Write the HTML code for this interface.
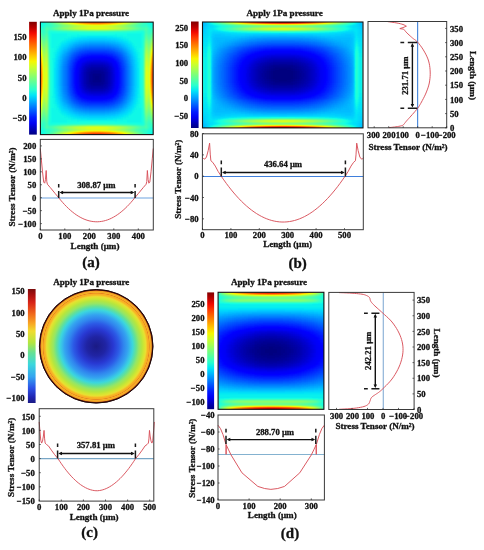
<!DOCTYPE html>
<html lang="en"><head><meta charset="utf-8"><title>Stress tensor simulation figure</title>
<style>html,body{margin:0;padding:0;background:#fff}svg{display:block}</style></head>
<body>
<svg width="484" height="550" viewBox="0 0 484 550" font-family="'Liberation Serif', serif" font-weight="bold" fill="#111" stroke="#111" stroke-width="0">
<defs>
<filter id="jet" x="0" y="0" width="1" height="1" filterUnits="objectBoundingBox" color-interpolation-filters="sRGB">
<feGaussianBlur stdDeviation="0.9"/>
<feComponentTransfer><feFuncR type="table" tableValues="0.000 0.000 0.000 0.000 0.000 0.000 0.000 0.000 0.000 0.000 0.000 0.000 0.000 0.000 0.000 0.081 0.161 0.242 0.323 0.403 0.484 0.565 0.645 0.726 0.806 0.887 0.968 1.000 1.000 1.000 1.000 1.000 1.000 1.000 1.000 1.000 0.955 0.841 0.727 0.614 0.500"/><feFuncG type="table" tableValues="0.000 0.000 0.000 0.000 0.000 0.000 0.100 0.200 0.300 0.400 0.500 0.600 0.700 0.800 0.900 1.000 1.000 1.000 1.000 1.000 1.000 1.000 1.000 1.000 1.000 1.000 0.963 0.870 0.778 0.685 0.593 0.500 0.407 0.315 0.222 0.130 0.037 0.000 0.000 0.000 0.000"/><feFuncB type="table" tableValues="0.500 0.614 0.727 0.841 0.955 1.000 1.000 1.000 1.000 1.000 1.000 1.000 1.000 1.000 0.968 0.887 0.806 0.726 0.645 0.565 0.484 0.403 0.323 0.242 0.161 0.081 0.000 0.000 0.000 0.000 0.000 0.000 0.000 0.000 0.000 0.000 0.000 0.000 0.000 0.000 0.000"/><feFuncA type="linear" slope="0" intercept="1"/></feComponentTransfer>
</filter>
<linearGradient id="cb" x1="0" y1="0" x2="0" y2="1"><stop offset="0.000" stop-color="#800000"/><stop offset="0.050" stop-color="#b90000"/><stop offset="0.100" stop-color="#f30900"/><stop offset="0.150" stop-color="#ff3900"/><stop offset="0.200" stop-color="#ff6800"/><stop offset="0.250" stop-color="#ff9700"/><stop offset="0.300" stop-color="#ffc600"/><stop offset="0.350" stop-color="#f7f600"/><stop offset="0.400" stop-color="#ceff29"/><stop offset="0.450" stop-color="#a5ff52"/><stop offset="0.500" stop-color="#7bff7b"/><stop offset="0.550" stop-color="#52ffa5"/><stop offset="0.600" stop-color="#29ffce"/><stop offset="0.650" stop-color="#00e6f7"/><stop offset="0.700" stop-color="#00b3ff"/><stop offset="0.750" stop-color="#0080ff"/><stop offset="0.800" stop-color="#004dff"/><stop offset="0.850" stop-color="#001aff"/><stop offset="0.900" stop-color="#0000f3"/><stop offset="0.950" stop-color="#0000b9"/><stop offset="1.000" stop-color="#000080"/></linearGradient>
<linearGradient id="cb2" x1="0" y1="0" x2="0" y2="1"><stop offset="0" stop-color="#7a0c0c"/><stop offset="0.05" stop-color="#a81010"/><stop offset="0.12" stop-color="#d82418"/><stop offset="0.22" stop-color="#f06a1c"/><stop offset="0.3" stop-color="#f8a424"/><stop offset="0.37" stop-color="#f0dc30"/><stop offset="0.47" stop-color="#b4e640"/><stop offset="0.56" stop-color="#64e196"/><stop offset="0.66" stop-color="#3cd7dc"/><stop offset="0.77" stop-color="#34a4f0"/><stop offset="0.87" stop-color="#2c50e6"/><stop offset="0.95" stop-color="#2024b0"/><stop offset="1" stop-color="#1a1a84"/></linearGradient>
<clipPath id="clipa"><rect x="40.30" y="22.00" width="112.70" height="112.40"/></clipPath>
<clipPath id="clipb"><rect x="202.60" y="21.90" width="160.20" height="106.00"/></clipPath>
<radialGradient id="rg" cx="96.2" cy="346.3" r="57.0" gradientUnits="userSpaceOnUse"><stop offset="0" stop-color="#1a1a84"/><stop offset="0.17" stop-color="#2024a4"/><stop offset="0.3" stop-color="#2838d2"/><stop offset="0.4" stop-color="#2c5ae6"/><stop offset="0.48" stop-color="#3084ee"/><stop offset="0.556" stop-color="#34a4f0"/><stop offset="0.6" stop-color="#38c0e8"/><stop offset="0.64" stop-color="#3cd7dc"/><stop offset="0.7" stop-color="#64e196"/><stop offset="0.75" stop-color="#96e664"/><stop offset="0.8" stop-color="#b4e640"/><stop offset="0.84" stop-color="#d2e632"/><stop offset="0.87" stop-color="#e6e132"/><stop offset="0.885" stop-color="#f2cc2c"/><stop offset="0.9" stop-color="#f6b624"/><stop offset="0.922" stop-color="#f8ac24"/><stop offset="0.932" stop-color="#e88020"/><stop offset="0.942" stop-color="#f6b428"/><stop offset="0.968" stop-color="#f0a024"/><stop offset="0.982" stop-color="#802010"/><stop offset="1.0" stop-color="#300a08"/></radialGradient>
<clipPath id="clipd"><rect x="218.20" y="292.40" width="105.80" height="117.00"/></clipPath>
</defs>
<rect width="484" height="550" fill="#fff"/>
<text x="91.00" y="15.50" font-size="9.15" text-anchor="middle" stroke-width="0.3">Apply 1Pa pressure</text>
<rect x="29.10" y="21.80" width="7.70" height="112.80" fill="url(#cb)"/>
<text x="26.50" y="40.20" font-size="8.7" text-anchor="end" stroke-width="0.3">150</text>
<text x="26.50" y="60.20" font-size="8.7" text-anchor="end" stroke-width="0.3">100</text>
<text x="26.50" y="80.50" font-size="8.7" text-anchor="end" stroke-width="0.3">50</text>
<text x="26.50" y="100.50" font-size="8.7" text-anchor="end" stroke-width="0.3">0</text>
<text x="26.50" y="120.50" font-size="8.7" text-anchor="end" stroke-width="0.3">−50</text>
<g clip-path="url(#clipa)"><g filter="url(#jet)" shape-rendering="crispEdges">
<g id="qa">
<rect x="96.7" y="78.2" width="2.4" height="2.4" fill="#010101"/>
<rect x="98.7" y="78.2" width="2.4" height="2.4" fill="#020202"/>
<rect x="100.7" y="78.2" width="2.4" height="2.4" fill="#030303"/>
<rect x="102.7" y="78.2" width="2.4" height="2.4" fill="#050505"/>
<rect x="104.7" y="78.2" width="2.4" height="2.4" fill="#070707"/>
<rect x="106.7" y="78.2" width="2.4" height="2.4" fill="#0a0a0a"/>
<rect x="108.7" y="78.2" width="2.4" height="2.4" fill="#0d0d0d"/>
<rect x="110.7" y="78.2" width="2.4" height="2.4" fill="#111111"/>
<rect x="112.8" y="78.2" width="2.4" height="2.4" fill="#151515"/>
<rect x="114.8" y="78.2" width="2.4" height="2.4" fill="#1a1a1a"/>
<rect x="116.8" y="78.2" width="2.4" height="2.4" fill="#1f1f1f"/>
<rect x="118.8" y="78.2" width="2.4" height="2.4" fill="#252525"/>
<rect x="120.8" y="78.2" width="2.4" height="2.4" fill="#2b2b2b"/>
<rect x="122.8" y="78.2" width="2.4" height="2.4" fill="#313131"/>
<rect x="124.8" y="78.2" width="2.4" height="2.4" fill="#373737"/>
<rect x="126.8" y="78.2" width="2.4" height="2.4" fill="#3d3d3d"/>
<rect x="128.9" y="78.2" width="2.4" height="2.4" fill="#434343"/>
<rect x="130.9" y="78.2" width="2.4" height="2.4" fill="#494949"/>
<rect x="132.9" y="78.2" width="2.4" height="2.4" fill="#4f4f4f"/>
<rect x="134.9" y="78.2" width="2.4" height="2.4" fill="#545454"/>
<rect x="136.9" y="78.2" width="2.4" height="2.4" fill="#595959"/>
<rect x="138.9" y="78.2" width="2.4" height="2.4" fill="#5e5e5e"/>
<rect x="140.9" y="78.2" width="2.4" height="2.4" fill="#616161"/>
<rect x="142.9" y="78.2" width="2.4" height="2.4" fill="#6e6e6e"/>
<rect x="145.0" y="78.2" width="2.4" height="2.4" fill="#ababab"/>
<rect x="147.0" y="78.2" width="2.4" height="2.4" fill="#979797"/>
<rect x="149.0" y="78.2" width="2.4" height="2.4" fill="#9e9e9e"/>
<rect x="151.0" y="78.2" width="6.4" height="2.4" fill="#d9d9d9"/>
<rect x="96.7" y="80.2" width="4.4" height="2.4" fill="#020202"/>
<rect x="100.7" y="80.2" width="2.4" height="2.4" fill="#030303"/>
<rect x="102.7" y="80.2" width="2.4" height="2.4" fill="#050505"/>
<rect x="104.7" y="80.2" width="2.4" height="2.4" fill="#070707"/>
<rect x="106.7" y="80.2" width="2.4" height="2.4" fill="#0a0a0a"/>
<rect x="108.7" y="80.2" width="2.4" height="2.4" fill="#0d0d0d"/>
<rect x="110.7" y="80.2" width="2.4" height="2.4" fill="#111111"/>
<rect x="112.8" y="80.2" width="2.4" height="2.4" fill="#151515"/>
<rect x="114.8" y="80.2" width="2.4" height="2.4" fill="#1a1a1a"/>
<rect x="116.8" y="80.2" width="2.4" height="2.4" fill="#1f1f1f"/>
<rect x="118.8" y="80.2" width="2.4" height="2.4" fill="#252525"/>
<rect x="120.8" y="80.2" width="2.4" height="2.4" fill="#2b2b2b"/>
<rect x="122.8" y="80.2" width="2.4" height="2.4" fill="#313131"/>
<rect x="124.8" y="80.2" width="2.4" height="2.4" fill="#373737"/>
<rect x="126.8" y="80.2" width="2.4" height="2.4" fill="#3d3d3d"/>
<rect x="128.9" y="80.2" width="2.4" height="2.4" fill="#434343"/>
<rect x="130.9" y="80.2" width="2.4" height="2.4" fill="#494949"/>
<rect x="132.9" y="80.2" width="2.4" height="2.4" fill="#4f4f4f"/>
<rect x="134.9" y="80.2" width="2.4" height="2.4" fill="#545454"/>
<rect x="136.9" y="80.2" width="2.4" height="2.4" fill="#595959"/>
<rect x="138.9" y="80.2" width="2.4" height="2.4" fill="#5e5e5e"/>
<rect x="140.9" y="80.2" width="2.4" height="2.4" fill="#616161"/>
<rect x="142.9" y="80.2" width="2.4" height="2.4" fill="#6d6d6d"/>
<rect x="145.0" y="80.2" width="2.4" height="2.4" fill="#aaaaaa"/>
<rect x="147.0" y="80.2" width="2.4" height="2.4" fill="#979797"/>
<rect x="149.0" y="80.2" width="2.4" height="2.4" fill="#9e9e9e"/>
<rect x="151.0" y="80.2" width="6.4" height="2.4" fill="#d9d9d9"/>
<rect x="96.7" y="82.2" width="4.4" height="2.4" fill="#030303"/>
<rect x="100.7" y="82.2" width="2.4" height="2.4" fill="#040404"/>
<rect x="102.7" y="82.2" width="2.4" height="2.4" fill="#050505"/>
<rect x="104.7" y="82.2" width="2.4" height="2.4" fill="#070707"/>
<rect x="106.7" y="82.2" width="2.4" height="2.4" fill="#0a0a0a"/>
<rect x="108.7" y="82.2" width="2.4" height="2.4" fill="#0d0d0d"/>
<rect x="110.7" y="82.2" width="2.4" height="2.4" fill="#111111"/>
<rect x="112.8" y="82.2" width="2.4" height="2.4" fill="#161616"/>
<rect x="114.8" y="82.2" width="2.4" height="2.4" fill="#1a1a1a"/>
<rect x="116.8" y="82.2" width="2.4" height="2.4" fill="#1f1f1f"/>
<rect x="118.8" y="82.2" width="2.4" height="2.4" fill="#252525"/>
<rect x="120.8" y="82.2" width="2.4" height="2.4" fill="#2b2b2b"/>
<rect x="122.8" y="82.2" width="2.4" height="2.4" fill="#313131"/>
<rect x="124.8" y="82.2" width="2.4" height="2.4" fill="#373737"/>
<rect x="126.8" y="82.2" width="2.4" height="2.4" fill="#3d3d3d"/>
<rect x="128.9" y="82.2" width="2.4" height="2.4" fill="#434343"/>
<rect x="130.9" y="82.2" width="2.4" height="2.4" fill="#494949"/>
<rect x="132.9" y="82.2" width="2.4" height="2.4" fill="#4f4f4f"/>
<rect x="134.9" y="82.2" width="2.4" height="2.4" fill="#545454"/>
<rect x="136.9" y="82.2" width="2.4" height="2.4" fill="#595959"/>
<rect x="138.9" y="82.2" width="2.4" height="2.4" fill="#5e5e5e"/>
<rect x="140.9" y="82.2" width="2.4" height="2.4" fill="#616161"/>
<rect x="142.9" y="82.2" width="2.4" height="2.4" fill="#6d6d6d"/>
<rect x="145.0" y="82.2" width="2.4" height="2.4" fill="#aaaaaa"/>
<rect x="147.0" y="82.2" width="2.4" height="2.4" fill="#979797"/>
<rect x="149.0" y="82.2" width="2.4" height="2.4" fill="#9d9d9d"/>
<rect x="151.0" y="82.2" width="6.4" height="2.4" fill="#d8d8d8"/>
<rect x="96.7" y="84.2" width="6.4" height="2.4" fill="#050505"/>
<rect x="102.7" y="84.2" width="2.4" height="2.4" fill="#060606"/>
<rect x="104.7" y="84.2" width="2.4" height="2.4" fill="#080808"/>
<rect x="106.7" y="84.2" width="2.4" height="2.4" fill="#0b0b0b"/>
<rect x="108.7" y="84.2" width="2.4" height="2.4" fill="#0e0e0e"/>
<rect x="110.7" y="84.2" width="2.4" height="2.4" fill="#121212"/>
<rect x="112.8" y="84.2" width="2.4" height="2.4" fill="#161616"/>
<rect x="114.8" y="84.2" width="2.4" height="2.4" fill="#1b1b1b"/>
<rect x="116.8" y="84.2" width="2.4" height="2.4" fill="#202020"/>
<rect x="118.8" y="84.2" width="2.4" height="2.4" fill="#252525"/>
<rect x="120.8" y="84.2" width="2.4" height="2.4" fill="#2b2b2b"/>
<rect x="122.8" y="84.2" width="2.4" height="2.4" fill="#313131"/>
<rect x="124.8" y="84.2" width="2.4" height="2.4" fill="#373737"/>
<rect x="126.8" y="84.2" width="2.4" height="2.4" fill="#3d3d3d"/>
<rect x="128.9" y="84.2" width="2.4" height="2.4" fill="#434343"/>
<rect x="130.9" y="84.2" width="2.4" height="2.4" fill="#494949"/>
<rect x="132.9" y="84.2" width="2.4" height="2.4" fill="#4f4f4f"/>
<rect x="134.9" y="84.2" width="2.4" height="2.4" fill="#545454"/>
<rect x="136.9" y="84.2" width="2.4" height="2.4" fill="#595959"/>
<rect x="138.9" y="84.2" width="2.4" height="2.4" fill="#5e5e5e"/>
<rect x="140.9" y="84.2" width="2.4" height="2.4" fill="#616161"/>
<rect x="142.9" y="84.2" width="2.4" height="2.4" fill="#6d6d6d"/>
<rect x="145.0" y="84.2" width="2.4" height="2.4" fill="#a9a9a9"/>
<rect x="147.0" y="84.2" width="2.4" height="2.4" fill="#969696"/>
<rect x="149.0" y="84.2" width="2.4" height="2.4" fill="#9c9c9c"/>
<rect x="151.0" y="84.2" width="6.4" height="2.4" fill="#d6d6d6"/>
<rect x="96.7" y="86.2" width="6.4" height="2.4" fill="#070707"/>
<rect x="102.7" y="86.2" width="2.4" height="2.4" fill="#080808"/>
<rect x="104.7" y="86.2" width="2.4" height="2.4" fill="#0a0a0a"/>
<rect x="106.7" y="86.2" width="2.4" height="2.4" fill="#0c0c0c"/>
<rect x="108.7" y="86.2" width="2.4" height="2.4" fill="#0f0f0f"/>
<rect x="110.7" y="86.2" width="2.4" height="2.4" fill="#131313"/>
<rect x="112.8" y="86.2" width="2.4" height="2.4" fill="#171717"/>
<rect x="114.8" y="86.2" width="2.4" height="2.4" fill="#1b1b1b"/>
<rect x="116.8" y="86.2" width="2.4" height="2.4" fill="#202020"/>
<rect x="118.8" y="86.2" width="2.4" height="2.4" fill="#262626"/>
<rect x="120.8" y="86.2" width="2.4" height="2.4" fill="#2b2b2b"/>
<rect x="122.8" y="86.2" width="2.4" height="2.4" fill="#313131"/>
<rect x="124.8" y="86.2" width="2.4" height="2.4" fill="#373737"/>
<rect x="126.8" y="86.2" width="2.4" height="2.4" fill="#3e3e3e"/>
<rect x="128.9" y="86.2" width="2.4" height="2.4" fill="#444444"/>
<rect x="130.9" y="86.2" width="2.4" height="2.4" fill="#4a4a4a"/>
<rect x="132.9" y="86.2" width="2.4" height="2.4" fill="#4f4f4f"/>
<rect x="134.9" y="86.2" width="2.4" height="2.4" fill="#555555"/>
<rect x="136.9" y="86.2" width="2.4" height="2.4" fill="#595959"/>
<rect x="138.9" y="86.2" width="2.4" height="2.4" fill="#5e5e5e"/>
<rect x="140.9" y="86.2" width="2.4" height="2.4" fill="#616161"/>
<rect x="142.9" y="86.2" width="2.4" height="2.4" fill="#6d6d6d"/>
<rect x="145.0" y="86.2" width="2.4" height="2.4" fill="#a8a8a8"/>
<rect x="147.0" y="86.2" width="2.4" height="2.4" fill="#959595"/>
<rect x="149.0" y="86.2" width="2.4" height="2.4" fill="#9b9b9b"/>
<rect x="151.0" y="86.2" width="6.4" height="2.4" fill="#d4d4d4"/>
<rect x="96.7" y="88.2" width="6.4" height="2.4" fill="#0a0a0a"/>
<rect x="102.7" y="88.2" width="2.4" height="2.4" fill="#0b0b0b"/>
<rect x="104.7" y="88.2" width="2.4" height="2.4" fill="#0c0c0c"/>
<rect x="106.7" y="88.2" width="2.4" height="2.4" fill="#0e0e0e"/>
<rect x="108.7" y="88.2" width="2.4" height="2.4" fill="#111111"/>
<rect x="110.7" y="88.2" width="2.4" height="2.4" fill="#141414"/>
<rect x="112.8" y="88.2" width="2.4" height="2.4" fill="#181818"/>
<rect x="114.8" y="88.2" width="2.4" height="2.4" fill="#1d1d1d"/>
<rect x="116.8" y="88.2" width="2.4" height="2.4" fill="#212121"/>
<rect x="118.8" y="88.2" width="2.4" height="2.4" fill="#272727"/>
<rect x="120.8" y="88.2" width="2.4" height="2.4" fill="#2c2c2c"/>
<rect x="122.8" y="88.2" width="2.4" height="2.4" fill="#323232"/>
<rect x="124.8" y="88.2" width="2.4" height="2.4" fill="#383838"/>
<rect x="126.8" y="88.2" width="2.4" height="2.4" fill="#3e3e3e"/>
<rect x="128.9" y="88.2" width="2.4" height="2.4" fill="#444444"/>
<rect x="130.9" y="88.2" width="2.4" height="2.4" fill="#4a4a4a"/>
<rect x="132.9" y="88.2" width="2.4" height="2.4" fill="#505050"/>
<rect x="134.9" y="88.2" width="2.4" height="2.4" fill="#555555"/>
<rect x="136.9" y="88.2" width="2.4" height="2.4" fill="#5a5a5a"/>
<rect x="138.9" y="88.2" width="2.4" height="2.4" fill="#5e5e5e"/>
<rect x="140.9" y="88.2" width="2.4" height="2.4" fill="#616161"/>
<rect x="142.9" y="88.2" width="2.4" height="2.4" fill="#6d6d6d"/>
<rect x="145.0" y="88.2" width="2.4" height="2.4" fill="#a7a7a7"/>
<rect x="147.0" y="88.2" width="2.4" height="2.4" fill="#949494"/>
<rect x="149.0" y="88.2" width="2.4" height="2.4" fill="#9a9a9a"/>
<rect x="151.0" y="88.2" width="6.4" height="2.4" fill="#d1d1d1"/>
<rect x="96.7" y="90.2" width="6.4" height="2.4" fill="#0d0d0d"/>
<rect x="102.7" y="90.2" width="2.4" height="2.4" fill="#0e0e0e"/>
<rect x="104.7" y="90.2" width="2.4" height="2.4" fill="#0f0f0f"/>
<rect x="106.7" y="90.2" width="2.4" height="2.4" fill="#111111"/>
<rect x="108.7" y="90.2" width="2.4" height="2.4" fill="#131313"/>
<rect x="110.7" y="90.2" width="2.4" height="2.4" fill="#161616"/>
<rect x="112.8" y="90.2" width="2.4" height="2.4" fill="#1a1a1a"/>
<rect x="114.8" y="90.2" width="2.4" height="2.4" fill="#1e1e1e"/>
<rect x="116.8" y="90.2" width="2.4" height="2.4" fill="#232323"/>
<rect x="118.8" y="90.2" width="2.4" height="2.4" fill="#282828"/>
<rect x="120.8" y="90.2" width="2.4" height="2.4" fill="#2d2d2d"/>
<rect x="122.8" y="90.2" width="2.4" height="2.4" fill="#333333"/>
<rect x="124.8" y="90.2" width="2.4" height="2.4" fill="#393939"/>
<rect x="126.8" y="90.2" width="2.4" height="2.4" fill="#3f3f3f"/>
<rect x="128.9" y="90.2" width="2.4" height="2.4" fill="#454545"/>
<rect x="130.9" y="90.2" width="2.4" height="2.4" fill="#4b4b4b"/>
<rect x="132.9" y="90.2" width="2.4" height="2.4" fill="#505050"/>
<rect x="134.9" y="90.2" width="2.4" height="2.4" fill="#555555"/>
<rect x="136.9" y="90.2" width="2.4" height="2.4" fill="#5a5a5a"/>
<rect x="138.9" y="90.2" width="2.4" height="2.4" fill="#5e5e5e"/>
<rect x="140.9" y="90.2" width="2.4" height="2.4" fill="#616161"/>
<rect x="142.9" y="90.2" width="2.4" height="2.4" fill="#6c6c6c"/>
<rect x="145.0" y="90.2" width="2.4" height="2.4" fill="#a5a5a5"/>
<rect x="147.0" y="90.2" width="2.4" height="2.4" fill="#939393"/>
<rect x="149.0" y="90.2" width="2.4" height="2.4" fill="#989898"/>
<rect x="151.0" y="90.2" width="6.4" height="2.4" fill="#cecece"/>
<rect x="96.7" y="92.2" width="6.4" height="2.4" fill="#111111"/>
<rect x="102.7" y="92.2" width="2.4" height="2.4" fill="#121212"/>
<rect x="104.7" y="92.2" width="2.4" height="2.4" fill="#131313"/>
<rect x="106.7" y="92.2" width="2.4" height="2.4" fill="#141414"/>
<rect x="108.7" y="92.2" width="2.4" height="2.4" fill="#161616"/>
<rect x="110.7" y="92.2" width="2.4" height="2.4" fill="#191919"/>
<rect x="112.8" y="92.2" width="2.4" height="2.4" fill="#1d1d1d"/>
<rect x="114.8" y="92.2" width="2.4" height="2.4" fill="#202020"/>
<rect x="116.8" y="92.2" width="2.4" height="2.4" fill="#252525"/>
<rect x="118.8" y="92.2" width="2.4" height="2.4" fill="#2a2a2a"/>
<rect x="120.8" y="92.2" width="2.4" height="2.4" fill="#2f2f2f"/>
<rect x="122.8" y="92.2" width="2.4" height="2.4" fill="#343434"/>
<rect x="124.8" y="92.2" width="2.4" height="2.4" fill="#3a3a3a"/>
<rect x="126.8" y="92.2" width="2.4" height="2.4" fill="#404040"/>
<rect x="128.9" y="92.2" width="2.4" height="2.4" fill="#464646"/>
<rect x="130.9" y="92.2" width="2.4" height="2.4" fill="#4b4b4b"/>
<rect x="132.9" y="92.2" width="2.4" height="2.4" fill="#515151"/>
<rect x="134.9" y="92.2" width="2.4" height="2.4" fill="#565656"/>
<rect x="136.9" y="92.2" width="2.4" height="2.4" fill="#5a5a5a"/>
<rect x="138.9" y="92.2" width="2.4" height="2.4" fill="#5e5e5e"/>
<rect x="140.9" y="92.2" width="2.4" height="2.4" fill="#616161"/>
<rect x="142.9" y="92.2" width="2.4" height="2.4" fill="#6c6c6c"/>
<rect x="145.0" y="92.2" width="2.4" height="2.4" fill="#a3a3a3"/>
<rect x="147.0" y="92.2" width="2.4" height="2.4" fill="#919191"/>
<rect x="149.0" y="92.2" width="2.4" height="2.4" fill="#969696"/>
<rect x="151.0" y="92.2" width="6.4" height="2.4" fill="#cacaca"/>
<rect x="96.7" y="94.3" width="4.4" height="2.4" fill="#151515"/>
<rect x="100.7" y="94.3" width="4.4" height="2.4" fill="#161616"/>
<rect x="104.7" y="94.3" width="2.4" height="2.4" fill="#171717"/>
<rect x="106.7" y="94.3" width="2.4" height="2.4" fill="#181818"/>
<rect x="108.7" y="94.3" width="2.4" height="2.4" fill="#1a1a1a"/>
<rect x="110.7" y="94.3" width="2.4" height="2.4" fill="#1d1d1d"/>
<rect x="112.8" y="94.3" width="2.4" height="2.4" fill="#202020"/>
<rect x="114.8" y="94.3" width="2.4" height="2.4" fill="#232323"/>
<rect x="116.8" y="94.3" width="2.4" height="2.4" fill="#272727"/>
<rect x="118.8" y="94.3" width="2.4" height="2.4" fill="#2c2c2c"/>
<rect x="120.8" y="94.3" width="2.4" height="2.4" fill="#313131"/>
<rect x="122.8" y="94.3" width="2.4" height="2.4" fill="#363636"/>
<rect x="124.8" y="94.3" width="2.4" height="2.4" fill="#3c3c3c"/>
<rect x="126.8" y="94.3" width="2.4" height="2.4" fill="#414141"/>
<rect x="128.9" y="94.3" width="2.4" height="2.4" fill="#474747"/>
<rect x="130.9" y="94.3" width="2.4" height="2.4" fill="#4c4c4c"/>
<rect x="132.9" y="94.3" width="2.4" height="2.4" fill="#515151"/>
<rect x="134.9" y="94.3" width="2.4" height="2.4" fill="#565656"/>
<rect x="136.9" y="94.3" width="2.4" height="2.4" fill="#5b5b5b"/>
<rect x="138.9" y="94.3" width="2.4" height="2.4" fill="#5e5e5e"/>
<rect x="140.9" y="94.3" width="2.4" height="2.4" fill="#616161"/>
<rect x="142.9" y="94.3" width="2.4" height="2.4" fill="#6b6b6b"/>
<rect x="145.0" y="94.3" width="2.4" height="2.4" fill="#a1a1a1"/>
<rect x="147.0" y="94.3" width="2.4" height="2.4" fill="#909090"/>
<rect x="149.0" y="94.3" width="2.4" height="2.4" fill="#949494"/>
<rect x="151.0" y="94.3" width="6.4" height="2.4" fill="#c6c6c6"/>
<rect x="96.7" y="96.3" width="6.4" height="2.4" fill="#1a1a1a"/>
<rect x="102.7" y="96.3" width="4.4" height="2.4" fill="#1b1b1b"/>
<rect x="106.7" y="96.3" width="2.4" height="2.4" fill="#1d1d1d"/>
<rect x="108.7" y="96.3" width="2.4" height="2.4" fill="#1e1e1e"/>
<rect x="110.7" y="96.3" width="2.4" height="2.4" fill="#202020"/>
<rect x="112.8" y="96.3" width="2.4" height="2.4" fill="#232323"/>
<rect x="114.8" y="96.3" width="2.4" height="2.4" fill="#272727"/>
<rect x="116.8" y="96.3" width="2.4" height="2.4" fill="#2a2a2a"/>
<rect x="118.8" y="96.3" width="2.4" height="2.4" fill="#2f2f2f"/>
<rect x="120.8" y="96.3" width="2.4" height="2.4" fill="#333333"/>
<rect x="122.8" y="96.3" width="2.4" height="2.4" fill="#383838"/>
<rect x="124.8" y="96.3" width="2.4" height="2.4" fill="#3d3d3d"/>
<rect x="126.8" y="96.3" width="2.4" height="2.4" fill="#434343"/>
<rect x="128.9" y="96.3" width="2.4" height="2.4" fill="#484848"/>
<rect x="130.9" y="96.3" width="2.4" height="2.4" fill="#4d4d4d"/>
<rect x="132.9" y="96.3" width="2.4" height="2.4" fill="#525252"/>
<rect x="134.9" y="96.3" width="2.4" height="2.4" fill="#575757"/>
<rect x="136.9" y="96.3" width="2.4" height="2.4" fill="#5b5b5b"/>
<rect x="138.9" y="96.3" width="2.4" height="2.4" fill="#5e5e5e"/>
<rect x="140.9" y="96.3" width="2.4" height="2.4" fill="#606060"/>
<rect x="142.9" y="96.3" width="2.4" height="2.4" fill="#6b6b6b"/>
<rect x="145.0" y="96.3" width="2.4" height="2.4" fill="#9f9f9f"/>
<rect x="147.0" y="96.3" width="2.4" height="2.4" fill="#8e8e8e"/>
<rect x="149.0" y="96.3" width="2.4" height="2.4" fill="#919191"/>
<rect x="151.0" y="96.3" width="6.4" height="2.4" fill="#c1c1c1"/>
<rect x="96.7" y="98.3" width="6.4" height="2.4" fill="#1f1f1f"/>
<rect x="102.7" y="98.3" width="4.4" height="2.4" fill="#202020"/>
<rect x="106.7" y="98.3" width="2.4" height="2.4" fill="#212121"/>
<rect x="108.7" y="98.3" width="2.4" height="2.4" fill="#232323"/>
<rect x="110.7" y="98.3" width="2.4" height="2.4" fill="#252525"/>
<rect x="112.8" y="98.3" width="2.4" height="2.4" fill="#272727"/>
<rect x="114.8" y="98.3" width="2.4" height="2.4" fill="#2a2a2a"/>
<rect x="116.8" y="98.3" width="2.4" height="2.4" fill="#2e2e2e"/>
<rect x="118.8" y="98.3" width="2.4" height="2.4" fill="#323232"/>
<rect x="120.8" y="98.3" width="2.4" height="2.4" fill="#363636"/>
<rect x="122.8" y="98.3" width="2.4" height="2.4" fill="#3b3b3b"/>
<rect x="124.8" y="98.3" width="2.4" height="2.4" fill="#404040"/>
<rect x="126.8" y="98.3" width="2.4" height="2.4" fill="#454545"/>
<rect x="128.9" y="98.3" width="2.4" height="2.4" fill="#4a4a4a"/>
<rect x="130.9" y="98.3" width="2.4" height="2.4" fill="#4f4f4f"/>
<rect x="132.9" y="98.3" width="2.4" height="2.4" fill="#545454"/>
<rect x="134.9" y="98.3" width="2.4" height="2.4" fill="#585858"/>
<rect x="136.9" y="98.3" width="2.4" height="2.4" fill="#5c5c5c"/>
<rect x="138.9" y="98.3" width="2.4" height="2.4" fill="#5f5f5f"/>
<rect x="140.9" y="98.3" width="2.4" height="2.4" fill="#606060"/>
<rect x="142.9" y="98.3" width="2.4" height="2.4" fill="#6a6a6a"/>
<rect x="145.0" y="98.3" width="2.4" height="2.4" fill="#9d9d9d"/>
<rect x="147.0" y="98.3" width="2.4" height="2.4" fill="#8c8c8c"/>
<rect x="149.0" y="98.3" width="2.4" height="2.4" fill="#8f8f8f"/>
<rect x="151.0" y="98.3" width="6.4" height="2.4" fill="#bcbcbc"/>
<rect x="96.7" y="100.3" width="8.5" height="2.4" fill="#252525"/>
<rect x="104.7" y="100.3" width="2.4" height="2.4" fill="#262626"/>
<rect x="106.7" y="100.3" width="2.4" height="2.4" fill="#272727"/>
<rect x="108.7" y="100.3" width="2.4" height="2.4" fill="#282828"/>
<rect x="110.7" y="100.3" width="2.4" height="2.4" fill="#2a2a2a"/>
<rect x="112.8" y="100.3" width="2.4" height="2.4" fill="#2c2c2c"/>
<rect x="114.8" y="100.3" width="2.4" height="2.4" fill="#2f2f2f"/>
<rect x="116.8" y="100.3" width="2.4" height="2.4" fill="#323232"/>
<rect x="118.8" y="100.3" width="2.4" height="2.4" fill="#353535"/>
<rect x="120.8" y="100.3" width="2.4" height="2.4" fill="#393939"/>
<rect x="122.8" y="100.3" width="2.4" height="2.4" fill="#3e3e3e"/>
<rect x="124.8" y="100.3" width="2.4" height="2.4" fill="#424242"/>
<rect x="126.8" y="100.3" width="2.4" height="2.4" fill="#474747"/>
<rect x="128.9" y="100.3" width="2.4" height="2.4" fill="#4c4c4c"/>
<rect x="130.9" y="100.3" width="2.4" height="2.4" fill="#515151"/>
<rect x="132.9" y="100.3" width="2.4" height="2.4" fill="#555555"/>
<rect x="134.9" y="100.3" width="2.4" height="2.4" fill="#595959"/>
<rect x="136.9" y="100.3" width="2.4" height="2.4" fill="#5c5c5c"/>
<rect x="138.9" y="100.3" width="2.4" height="2.4" fill="#5f5f5f"/>
<rect x="140.9" y="100.3" width="2.4" height="2.4" fill="#606060"/>
<rect x="142.9" y="100.3" width="2.4" height="2.4" fill="#6a6a6a"/>
<rect x="145.0" y="100.3" width="2.4" height="2.4" fill="#9a9a9a"/>
<rect x="147.0" y="100.3" width="2.4" height="2.4" fill="#898989"/>
<rect x="149.0" y="100.3" width="2.4" height="2.4" fill="#8c8c8c"/>
<rect x="151.0" y="100.3" width="6.4" height="2.4" fill="#b6b6b6"/>
<rect x="96.7" y="102.3" width="10.5" height="2.4" fill="#2b2b2b"/>
<rect x="106.7" y="102.3" width="2.4" height="2.4" fill="#2c2c2c"/>
<rect x="108.7" y="102.3" width="2.4" height="2.4" fill="#2d2d2d"/>
<rect x="110.7" y="102.3" width="2.4" height="2.4" fill="#2f2f2f"/>
<rect x="112.8" y="102.3" width="2.4" height="2.4" fill="#313131"/>
<rect x="114.8" y="102.3" width="2.4" height="2.4" fill="#333333"/>
<rect x="116.8" y="102.3" width="2.4" height="2.4" fill="#363636"/>
<rect x="118.8" y="102.3" width="2.4" height="2.4" fill="#393939"/>
<rect x="120.8" y="102.3" width="2.4" height="2.4" fill="#3d3d3d"/>
<rect x="122.8" y="102.3" width="2.4" height="2.4" fill="#414141"/>
<rect x="124.8" y="102.3" width="2.4" height="2.4" fill="#454545"/>
<rect x="126.8" y="102.3" width="2.4" height="2.4" fill="#4a4a4a"/>
<rect x="128.9" y="102.3" width="2.4" height="2.4" fill="#4e4e4e"/>
<rect x="130.9" y="102.3" width="2.4" height="2.4" fill="#535353"/>
<rect x="132.9" y="102.3" width="2.4" height="2.4" fill="#575757"/>
<rect x="134.9" y="102.3" width="2.4" height="2.4" fill="#5a5a5a"/>
<rect x="136.9" y="102.3" width="2.4" height="2.4" fill="#5d5d5d"/>
<rect x="138.9" y="102.3" width="2.4" height="2.4" fill="#5f5f5f"/>
<rect x="140.9" y="102.3" width="2.4" height="2.4" fill="#606060"/>
<rect x="142.9" y="102.3" width="2.4" height="2.4" fill="#696969"/>
<rect x="145.0" y="102.3" width="2.4" height="2.4" fill="#979797"/>
<rect x="147.0" y="102.3" width="2.4" height="2.4" fill="#878787"/>
<rect x="149.0" y="102.3" width="2.4" height="2.4" fill="#898989"/>
<rect x="151.0" y="102.3" width="6.4" height="2.4" fill="#b1b1b1"/>
<rect x="96.7" y="104.3" width="10.5" height="2.4" fill="#313131"/>
<rect x="106.7" y="104.3" width="2.4" height="2.4" fill="#323232"/>
<rect x="108.7" y="104.3" width="2.4" height="2.4" fill="#333333"/>
<rect x="110.7" y="104.3" width="2.4" height="2.4" fill="#343434"/>
<rect x="112.8" y="104.3" width="2.4" height="2.4" fill="#363636"/>
<rect x="114.8" y="104.3" width="2.4" height="2.4" fill="#383838"/>
<rect x="116.8" y="104.3" width="2.4" height="2.4" fill="#3b3b3b"/>
<rect x="118.8" y="104.3" width="2.4" height="2.4" fill="#3e3e3e"/>
<rect x="120.8" y="104.3" width="2.4" height="2.4" fill="#414141"/>
<rect x="122.8" y="104.3" width="2.4" height="2.4" fill="#454545"/>
<rect x="124.8" y="104.3" width="2.4" height="2.4" fill="#494949"/>
<rect x="126.8" y="104.3" width="2.4" height="2.4" fill="#4d4d4d"/>
<rect x="128.9" y="104.3" width="2.4" height="2.4" fill="#515151"/>
<rect x="130.9" y="104.3" width="2.4" height="2.4" fill="#555555"/>
<rect x="132.9" y="104.3" width="2.4" height="2.4" fill="#585858"/>
<rect x="134.9" y="104.3" width="2.4" height="2.4" fill="#5b5b5b"/>
<rect x="136.9" y="104.3" width="2.4" height="2.4" fill="#5e5e5e"/>
<rect x="138.9" y="104.3" width="2.4" height="2.4" fill="#5f5f5f"/>
<rect x="140.9" y="104.3" width="2.4" height="2.4" fill="#606060"/>
<rect x="142.9" y="104.3" width="2.4" height="2.4" fill="#686868"/>
<rect x="145.0" y="104.3" width="2.4" height="2.4" fill="#949494"/>
<rect x="147.0" y="104.3" width="2.4" height="2.4" fill="#848484"/>
<rect x="149.0" y="104.3" width="2.4" height="2.4" fill="#868686"/>
<rect x="151.0" y="104.3" width="6.4" height="2.4" fill="#ababab"/>
<rect x="96.7" y="106.3" width="10.5" height="2.4" fill="#373737"/>
<rect x="106.7" y="106.3" width="2.4" height="2.4" fill="#383838"/>
<rect x="108.7" y="106.3" width="2.4" height="2.4" fill="#393939"/>
<rect x="110.7" y="106.3" width="2.4" height="2.4" fill="#3a3a3a"/>
<rect x="112.8" y="106.3" width="2.4" height="2.4" fill="#3c3c3c"/>
<rect x="114.8" y="106.3" width="2.4" height="2.4" fill="#3d3d3d"/>
<rect x="116.8" y="106.3" width="2.4" height="2.4" fill="#404040"/>
<rect x="118.8" y="106.3" width="2.4" height="2.4" fill="#424242"/>
<rect x="120.8" y="106.3" width="2.4" height="2.4" fill="#454545"/>
<rect x="122.8" y="106.3" width="2.4" height="2.4" fill="#494949"/>
<rect x="124.8" y="106.3" width="2.4" height="2.4" fill="#4c4c4c"/>
<rect x="126.8" y="106.3" width="2.4" height="2.4" fill="#505050"/>
<rect x="128.9" y="106.3" width="2.4" height="2.4" fill="#535353"/>
<rect x="130.9" y="106.3" width="2.4" height="2.4" fill="#575757"/>
<rect x="132.9" y="106.3" width="2.4" height="2.4" fill="#5a5a5a"/>
<rect x="134.9" y="106.3" width="2.4" height="2.4" fill="#5d5d5d"/>
<rect x="136.9" y="106.3" width="2.4" height="2.4" fill="#5e5e5e"/>
<rect x="138.9" y="106.3" width="2.4" height="2.4" fill="#5f5f5f"/>
<rect x="140.9" y="106.3" width="2.4" height="2.4" fill="#606060"/>
<rect x="142.9" y="106.3" width="2.4" height="2.4" fill="#686868"/>
<rect x="145.0" y="106.3" width="2.4" height="2.4" fill="#919191"/>
<rect x="147.0" y="106.3" width="4.4" height="2.4" fill="#828282"/>
<rect x="151.0" y="106.3" width="6.4" height="2.4" fill="#a4a4a4"/>
<rect x="96.7" y="108.3" width="8.5" height="2.4" fill="#3d3d3d"/>
<rect x="104.7" y="108.3" width="4.4" height="2.4" fill="#3e3e3e"/>
<rect x="108.7" y="108.3" width="2.4" height="2.4" fill="#3f3f3f"/>
<rect x="110.7" y="108.3" width="2.4" height="2.4" fill="#404040"/>
<rect x="112.8" y="108.3" width="2.4" height="2.4" fill="#414141"/>
<rect x="114.8" y="108.3" width="2.4" height="2.4" fill="#434343"/>
<rect x="116.8" y="108.3" width="2.4" height="2.4" fill="#454545"/>
<rect x="118.8" y="108.3" width="2.4" height="2.4" fill="#474747"/>
<rect x="120.8" y="108.3" width="2.4" height="2.4" fill="#4a4a4a"/>
<rect x="122.8" y="108.3" width="2.4" height="2.4" fill="#4d4d4d"/>
<rect x="124.8" y="108.3" width="2.4" height="2.4" fill="#505050"/>
<rect x="126.8" y="108.3" width="2.4" height="2.4" fill="#535353"/>
<rect x="128.9" y="108.3" width="2.4" height="2.4" fill="#565656"/>
<rect x="130.9" y="108.3" width="2.4" height="2.4" fill="#595959"/>
<rect x="132.9" y="108.3" width="2.4" height="2.4" fill="#5c5c5c"/>
<rect x="134.9" y="108.3" width="2.4" height="2.4" fill="#5d5d5d"/>
<rect x="136.9" y="108.3" width="4.4" height="2.4" fill="#5e5e5e"/>
<rect x="140.9" y="108.3" width="2.4" height="2.4" fill="#5f5f5f"/>
<rect x="142.9" y="108.3" width="2.4" height="2.4" fill="#676767"/>
<rect x="145.0" y="108.3" width="2.4" height="2.4" fill="#8d8d8d"/>
<rect x="147.0" y="108.3" width="4.4" height="2.4" fill="#7f7f7f"/>
<rect x="151.0" y="108.3" width="6.4" height="2.4" fill="#9e9e9e"/>
<rect x="96.7" y="110.3" width="8.5" height="2.4" fill="#434343"/>
<rect x="104.7" y="110.3" width="4.4" height="2.4" fill="#444444"/>
<rect x="108.7" y="110.3" width="2.4" height="2.4" fill="#454545"/>
<rect x="110.7" y="110.3" width="2.4" height="2.4" fill="#464646"/>
<rect x="112.8" y="110.3" width="2.4" height="2.4" fill="#474747"/>
<rect x="114.8" y="110.3" width="2.4" height="2.4" fill="#484848"/>
<rect x="116.8" y="110.3" width="2.4" height="2.4" fill="#4a4a4a"/>
<rect x="118.8" y="110.3" width="2.4" height="2.4" fill="#4c4c4c"/>
<rect x="120.8" y="110.3" width="2.4" height="2.4" fill="#4e4e4e"/>
<rect x="122.8" y="110.3" width="2.4" height="2.4" fill="#515151"/>
<rect x="124.8" y="110.3" width="2.4" height="2.4" fill="#535353"/>
<rect x="126.8" y="110.3" width="2.4" height="2.4" fill="#565656"/>
<rect x="128.9" y="110.3" width="2.4" height="2.4" fill="#595959"/>
<rect x="130.9" y="110.3" width="2.4" height="2.4" fill="#5b5b5b"/>
<rect x="132.9" y="110.3" width="2.4" height="2.4" fill="#5d5d5d"/>
<rect x="134.9" y="110.3" width="6.4" height="2.4" fill="#5e5e5e"/>
<rect x="140.9" y="110.3" width="2.4" height="2.4" fill="#5f5f5f"/>
<rect x="142.9" y="110.3" width="2.4" height="2.4" fill="#666666"/>
<rect x="145.0" y="110.3" width="2.4" height="2.4" fill="#8a8a8a"/>
<rect x="147.0" y="110.3" width="4.4" height="2.4" fill="#7c7c7c"/>
<rect x="151.0" y="110.3" width="6.4" height="2.4" fill="#979797"/>
<rect x="96.7" y="112.3" width="8.5" height="2.4" fill="#494949"/>
<rect x="104.7" y="112.3" width="4.4" height="2.4" fill="#4a4a4a"/>
<rect x="108.7" y="112.3" width="4.4" height="2.4" fill="#4b4b4b"/>
<rect x="112.8" y="112.3" width="2.4" height="2.4" fill="#4c4c4c"/>
<rect x="114.8" y="112.3" width="2.4" height="2.4" fill="#4d4d4d"/>
<rect x="116.8" y="112.3" width="2.4" height="2.4" fill="#4f4f4f"/>
<rect x="118.8" y="112.3" width="2.4" height="2.4" fill="#515151"/>
<rect x="120.8" y="112.3" width="2.4" height="2.4" fill="#535353"/>
<rect x="122.8" y="112.3" width="2.4" height="2.4" fill="#555555"/>
<rect x="124.8" y="112.3" width="2.4" height="2.4" fill="#575757"/>
<rect x="126.8" y="112.3" width="2.4" height="2.4" fill="#595959"/>
<rect x="128.9" y="112.3" width="2.4" height="2.4" fill="#5b5b5b"/>
<rect x="130.9" y="112.3" width="2.4" height="2.4" fill="#5d5d5d"/>
<rect x="132.9" y="112.3" width="8.5" height="2.4" fill="#5e5e5e"/>
<rect x="140.9" y="112.3" width="2.4" height="2.4" fill="#5f5f5f"/>
<rect x="142.9" y="112.3" width="2.4" height="2.4" fill="#656565"/>
<rect x="145.0" y="112.3" width="2.4" height="2.4" fill="#868686"/>
<rect x="147.0" y="112.3" width="2.4" height="2.4" fill="#797979"/>
<rect x="149.0" y="112.3" width="2.4" height="2.4" fill="#787878"/>
<rect x="151.0" y="112.3" width="6.4" height="2.4" fill="#909090"/>
<rect x="96.7" y="114.3" width="10.5" height="2.4" fill="#4f4f4f"/>
<rect x="106.7" y="114.3" width="4.4" height="2.4" fill="#505050"/>
<rect x="110.7" y="114.3" width="4.4" height="2.4" fill="#515151"/>
<rect x="114.8" y="114.3" width="2.4" height="2.4" fill="#525252"/>
<rect x="116.8" y="114.3" width="2.4" height="2.4" fill="#545454"/>
<rect x="118.8" y="114.3" width="2.4" height="2.4" fill="#555555"/>
<rect x="120.8" y="114.3" width="2.4" height="2.4" fill="#575757"/>
<rect x="122.8" y="114.3" width="2.4" height="2.4" fill="#585858"/>
<rect x="124.8" y="114.3" width="2.4" height="2.4" fill="#5a5a5a"/>
<rect x="126.8" y="114.3" width="2.4" height="2.4" fill="#5c5c5c"/>
<rect x="128.9" y="114.3" width="2.4" height="2.4" fill="#5d5d5d"/>
<rect x="130.9" y="114.3" width="10.5" height="2.4" fill="#5e5e5e"/>
<rect x="140.9" y="114.3" width="2.4" height="2.4" fill="#5f5f5f"/>
<rect x="142.9" y="114.3" width="2.4" height="2.4" fill="#656565"/>
<rect x="145.0" y="114.3" width="2.4" height="2.4" fill="#828282"/>
<rect x="147.0" y="114.3" width="2.4" height="2.4" fill="#767676"/>
<rect x="149.0" y="114.3" width="2.4" height="2.4" fill="#757575"/>
<rect x="151.0" y="114.3" width="6.4" height="2.4" fill="#8a8a8a"/>
<rect x="96.7" y="116.3" width="8.5" height="2.4" fill="#545454"/>
<rect x="104.7" y="116.3" width="6.4" height="2.4" fill="#555555"/>
<rect x="110.7" y="116.3" width="4.4" height="2.4" fill="#565656"/>
<rect x="114.8" y="116.3" width="2.4" height="2.4" fill="#575757"/>
<rect x="116.8" y="116.3" width="2.4" height="2.4" fill="#585858"/>
<rect x="118.8" y="116.3" width="2.4" height="2.4" fill="#595959"/>
<rect x="120.8" y="116.3" width="2.4" height="2.4" fill="#5a5a5a"/>
<rect x="122.8" y="116.3" width="2.4" height="2.4" fill="#5b5b5b"/>
<rect x="124.8" y="116.3" width="4.4" height="2.4" fill="#5d5d5d"/>
<rect x="128.9" y="116.3" width="12.5" height="2.4" fill="#5e5e5e"/>
<rect x="140.9" y="116.3" width="2.4" height="2.4" fill="#5f5f5f"/>
<rect x="142.9" y="116.3" width="2.4" height="2.4" fill="#646464"/>
<rect x="145.0" y="116.3" width="2.4" height="2.4" fill="#7e7e7e"/>
<rect x="147.0" y="116.3" width="2.4" height="2.4" fill="#737373"/>
<rect x="149.0" y="116.3" width="2.4" height="2.4" fill="#717171"/>
<rect x="151.0" y="116.3" width="6.4" height="2.4" fill="#838383"/>
<rect x="96.7" y="118.3" width="10.5" height="2.4" fill="#595959"/>
<rect x="106.7" y="118.3" width="6.4" height="2.4" fill="#5a5a5a"/>
<rect x="112.8" y="118.3" width="4.4" height="2.4" fill="#5b5b5b"/>
<rect x="116.8" y="118.3" width="4.4" height="2.4" fill="#5c5c5c"/>
<rect x="120.8" y="118.3" width="2.4" height="2.4" fill="#5d5d5d"/>
<rect x="122.8" y="118.3" width="18.5" height="2.4" fill="#5e5e5e"/>
<rect x="140.9" y="118.3" width="2.4" height="2.4" fill="#5f5f5f"/>
<rect x="142.9" y="118.3" width="2.4" height="2.4" fill="#636363"/>
<rect x="145.0" y="118.3" width="2.4" height="2.4" fill="#7a7a7a"/>
<rect x="147.0" y="118.3" width="2.4" height="2.4" fill="#707070"/>
<rect x="149.0" y="118.3" width="2.4" height="2.4" fill="#6e6e6e"/>
<rect x="151.0" y="118.3" width="6.4" height="2.4" fill="#7d7d7d"/>
<rect x="96.7" y="120.3" width="20.5" height="2.4" fill="#5e5e5e"/>
<rect x="116.8" y="120.3" width="10.5" height="2.4" fill="#5f5f5f"/>
<rect x="126.8" y="120.3" width="14.5" height="2.4" fill="#5e5e5e"/>
<rect x="140.9" y="120.3" width="2.4" height="2.4" fill="#5f5f5f"/>
<rect x="142.9" y="120.3" width="2.4" height="2.4" fill="#626262"/>
<rect x="145.0" y="120.3" width="2.4" height="2.4" fill="#767676"/>
<rect x="147.0" y="120.3" width="2.4" height="2.4" fill="#6d6d6d"/>
<rect x="149.0" y="120.3" width="2.4" height="2.4" fill="#6b6b6b"/>
<rect x="151.0" y="120.3" width="6.4" height="2.4" fill="#777777"/>
<rect x="96.7" y="122.4" width="18.5" height="2.4" fill="#616161"/>
<rect x="114.8" y="122.4" width="12.5" height="2.4" fill="#606060"/>
<rect x="126.8" y="122.4" width="16.5" height="2.4" fill="#5f5f5f"/>
<rect x="142.9" y="122.4" width="2.4" height="2.4" fill="#626262"/>
<rect x="145.0" y="122.4" width="2.4" height="2.4" fill="#727272"/>
<rect x="147.0" y="122.4" width="2.4" height="2.4" fill="#6a6a6a"/>
<rect x="149.0" y="122.4" width="2.4" height="2.4" fill="#686868"/>
<rect x="151.0" y="122.4" width="6.4" height="2.4" fill="#717171"/>
<rect x="96.7" y="124.4" width="2.4" height="2.4" fill="#6e6e6e"/>
<rect x="98.7" y="124.4" width="10.5" height="2.4" fill="#6d6d6d"/>
<rect x="108.7" y="124.4" width="4.4" height="2.4" fill="#6c6c6c"/>
<rect x="112.8" y="124.4" width="4.4" height="2.4" fill="#6b6b6b"/>
<rect x="116.8" y="124.4" width="4.4" height="2.4" fill="#6a6a6a"/>
<rect x="120.8" y="124.4" width="2.4" height="2.4" fill="#696969"/>
<rect x="122.8" y="124.4" width="4.4" height="2.4" fill="#686868"/>
<rect x="126.8" y="124.4" width="2.4" height="2.4" fill="#676767"/>
<rect x="128.9" y="124.4" width="2.4" height="2.4" fill="#666666"/>
<rect x="130.9" y="124.4" width="4.4" height="2.4" fill="#656565"/>
<rect x="134.9" y="124.4" width="2.4" height="2.4" fill="#646464"/>
<rect x="136.9" y="124.4" width="2.4" height="2.4" fill="#636363"/>
<rect x="138.9" y="124.4" width="4.4" height="2.4" fill="#626262"/>
<rect x="142.9" y="124.4" width="2.4" height="2.4" fill="#636363"/>
<rect x="145.0" y="124.4" width="2.4" height="2.4" fill="#707070"/>
<rect x="147.0" y="124.4" width="2.4" height="2.4" fill="#696969"/>
<rect x="149.0" y="124.4" width="2.4" height="2.4" fill="#666666"/>
<rect x="151.0" y="124.4" width="6.4" height="2.4" fill="#6c6c6c"/>
<rect x="96.7" y="126.4" width="2.4" height="2.4" fill="#ababab"/>
<rect x="98.7" y="126.4" width="4.4" height="2.4" fill="#aaaaaa"/>
<rect x="102.7" y="126.4" width="2.4" height="2.4" fill="#a9a9a9"/>
<rect x="104.7" y="126.4" width="2.4" height="2.4" fill="#a8a8a8"/>
<rect x="106.7" y="126.4" width="2.4" height="2.4" fill="#a7a7a7"/>
<rect x="108.7" y="126.4" width="2.4" height="2.4" fill="#a5a5a5"/>
<rect x="110.7" y="126.4" width="2.4" height="2.4" fill="#a3a3a3"/>
<rect x="112.8" y="126.4" width="2.4" height="2.4" fill="#a1a1a1"/>
<rect x="114.8" y="126.4" width="2.4" height="2.4" fill="#9f9f9f"/>
<rect x="116.8" y="126.4" width="2.4" height="2.4" fill="#9d9d9d"/>
<rect x="118.8" y="126.4" width="2.4" height="2.4" fill="#9a9a9a"/>
<rect x="120.8" y="126.4" width="2.4" height="2.4" fill="#979797"/>
<rect x="122.8" y="126.4" width="2.4" height="2.4" fill="#949494"/>
<rect x="124.8" y="126.4" width="2.4" height="2.4" fill="#919191"/>
<rect x="126.8" y="126.4" width="2.4" height="2.4" fill="#8d8d8d"/>
<rect x="128.9" y="126.4" width="2.4" height="2.4" fill="#8a8a8a"/>
<rect x="130.9" y="126.4" width="2.4" height="2.4" fill="#868686"/>
<rect x="132.9" y="126.4" width="2.4" height="2.4" fill="#828282"/>
<rect x="134.9" y="126.4" width="2.4" height="2.4" fill="#7e7e7e"/>
<rect x="136.9" y="126.4" width="2.4" height="2.4" fill="#7a7a7a"/>
<rect x="138.9" y="126.4" width="2.4" height="2.4" fill="#767676"/>
<rect x="140.9" y="126.4" width="2.4" height="2.4" fill="#727272"/>
<rect x="142.9" y="126.4" width="2.4" height="2.4" fill="#707070"/>
<rect x="145.0" y="126.4" width="2.4" height="2.4" fill="#767676"/>
<rect x="147.0" y="126.4" width="2.4" height="2.4" fill="#6d6d6d"/>
<rect x="149.0" y="126.4" width="2.4" height="2.4" fill="#676767"/>
<rect x="151.0" y="126.4" width="6.4" height="2.4" fill="#686868"/>
<rect x="96.7" y="128.4" width="6.4" height="2.4" fill="#979797"/>
<rect x="102.7" y="128.4" width="2.4" height="2.4" fill="#969696"/>
<rect x="104.7" y="128.4" width="2.4" height="2.4" fill="#959595"/>
<rect x="106.7" y="128.4" width="2.4" height="2.4" fill="#949494"/>
<rect x="108.7" y="128.4" width="2.4" height="2.4" fill="#939393"/>
<rect x="110.7" y="128.4" width="2.4" height="2.4" fill="#919191"/>
<rect x="112.8" y="128.4" width="2.4" height="2.4" fill="#909090"/>
<rect x="114.8" y="128.4" width="2.4" height="2.4" fill="#8e8e8e"/>
<rect x="116.8" y="128.4" width="2.4" height="2.4" fill="#8c8c8c"/>
<rect x="118.8" y="128.4" width="2.4" height="2.4" fill="#898989"/>
<rect x="120.8" y="128.4" width="2.4" height="2.4" fill="#878787"/>
<rect x="122.8" y="128.4" width="2.4" height="2.4" fill="#848484"/>
<rect x="124.8" y="128.4" width="2.4" height="2.4" fill="#828282"/>
<rect x="126.8" y="128.4" width="2.4" height="2.4" fill="#7f7f7f"/>
<rect x="128.9" y="128.4" width="2.4" height="2.4" fill="#7c7c7c"/>
<rect x="130.9" y="128.4" width="2.4" height="2.4" fill="#797979"/>
<rect x="132.9" y="128.4" width="2.4" height="2.4" fill="#767676"/>
<rect x="134.9" y="128.4" width="2.4" height="2.4" fill="#737373"/>
<rect x="136.9" y="128.4" width="2.4" height="2.4" fill="#707070"/>
<rect x="138.9" y="128.4" width="2.4" height="2.4" fill="#6d6d6d"/>
<rect x="140.9" y="128.4" width="2.4" height="2.4" fill="#6a6a6a"/>
<rect x="142.9" y="128.4" width="2.4" height="2.4" fill="#696969"/>
<rect x="145.0" y="128.4" width="2.4" height="2.4" fill="#6d6d6d"/>
<rect x="147.0" y="128.4" width="2.4" height="2.4" fill="#676767"/>
<rect x="149.0" y="128.4" width="8.5" height="2.4" fill="#636363"/>
<rect x="96.7" y="130.4" width="4.4" height="2.4" fill="#9e9e9e"/>
<rect x="100.7" y="130.4" width="2.4" height="2.4" fill="#9d9d9d"/>
<rect x="102.7" y="130.4" width="2.4" height="2.4" fill="#9c9c9c"/>
<rect x="104.7" y="130.4" width="2.4" height="2.4" fill="#9b9b9b"/>
<rect x="106.7" y="130.4" width="2.4" height="2.4" fill="#9a9a9a"/>
<rect x="108.7" y="130.4" width="2.4" height="2.4" fill="#989898"/>
<rect x="110.7" y="130.4" width="2.4" height="2.4" fill="#969696"/>
<rect x="112.8" y="130.4" width="2.4" height="2.4" fill="#949494"/>
<rect x="114.8" y="130.4" width="2.4" height="2.4" fill="#919191"/>
<rect x="116.8" y="130.4" width="2.4" height="2.4" fill="#8f8f8f"/>
<rect x="118.8" y="130.4" width="2.4" height="2.4" fill="#8c8c8c"/>
<rect x="120.8" y="130.4" width="2.4" height="2.4" fill="#898989"/>
<rect x="122.8" y="130.4" width="2.4" height="2.4" fill="#868686"/>
<rect x="124.8" y="130.4" width="2.4" height="2.4" fill="#828282"/>
<rect x="126.8" y="130.4" width="2.4" height="2.4" fill="#7f7f7f"/>
<rect x="128.9" y="130.4" width="2.4" height="2.4" fill="#7c7c7c"/>
<rect x="130.9" y="130.4" width="2.4" height="2.4" fill="#787878"/>
<rect x="132.9" y="130.4" width="2.4" height="2.4" fill="#757575"/>
<rect x="134.9" y="130.4" width="2.4" height="2.4" fill="#717171"/>
<rect x="136.9" y="130.4" width="2.4" height="2.4" fill="#6e6e6e"/>
<rect x="138.9" y="130.4" width="2.4" height="2.4" fill="#6b6b6b"/>
<rect x="140.9" y="130.4" width="2.4" height="2.4" fill="#686868"/>
<rect x="142.9" y="130.4" width="2.4" height="2.4" fill="#666666"/>
<rect x="145.0" y="130.4" width="2.4" height="2.4" fill="#676767"/>
<rect x="147.0" y="130.4" width="2.4" height="2.4" fill="#636363"/>
<rect x="149.0" y="130.4" width="8.5" height="2.4" fill="#606060"/>
<rect x="96.7" y="132.4" width="4.4" height="2.4" fill="#d9d9d9"/>
<rect x="100.7" y="132.4" width="2.4" height="2.4" fill="#d8d8d8"/>
<rect x="102.7" y="132.4" width="2.4" height="2.4" fill="#d6d6d6"/>
<rect x="104.7" y="132.4" width="2.4" height="2.4" fill="#d4d4d4"/>
<rect x="106.7" y="132.4" width="2.4" height="2.4" fill="#d1d1d1"/>
<rect x="108.7" y="132.4" width="2.4" height="2.4" fill="#cecece"/>
<rect x="110.7" y="132.4" width="2.4" height="2.4" fill="#cacaca"/>
<rect x="112.8" y="132.4" width="2.4" height="2.4" fill="#c6c6c6"/>
<rect x="114.8" y="132.4" width="2.4" height="2.4" fill="#c1c1c1"/>
<rect x="116.8" y="132.4" width="2.4" height="2.4" fill="#bcbcbc"/>
<rect x="118.8" y="132.4" width="2.4" height="2.4" fill="#b6b6b6"/>
<rect x="120.8" y="132.4" width="2.4" height="2.4" fill="#b1b1b1"/>
<rect x="122.8" y="132.4" width="2.4" height="2.4" fill="#ababab"/>
<rect x="124.8" y="132.4" width="2.4" height="2.4" fill="#a4a4a4"/>
<rect x="126.8" y="132.4" width="2.4" height="2.4" fill="#9e9e9e"/>
<rect x="128.9" y="132.4" width="2.4" height="2.4" fill="#979797"/>
<rect x="130.9" y="132.4" width="2.4" height="2.4" fill="#909090"/>
<rect x="132.9" y="132.4" width="2.4" height="2.4" fill="#8a8a8a"/>
<rect x="134.9" y="132.4" width="2.4" height="2.4" fill="#838383"/>
<rect x="136.9" y="132.4" width="2.4" height="2.4" fill="#7d7d7d"/>
<rect x="138.9" y="132.4" width="2.4" height="2.4" fill="#777777"/>
<rect x="140.9" y="132.4" width="2.4" height="2.4" fill="#717171"/>
<rect x="142.9" y="132.4" width="2.4" height="2.4" fill="#6c6c6c"/>
<rect x="145.0" y="132.4" width="2.4" height="2.4" fill="#686868"/>
<rect x="147.0" y="132.4" width="2.4" height="2.4" fill="#636363"/>
<rect x="149.0" y="132.4" width="2.4" height="2.4" fill="#606060"/>
<rect x="151.0" y="132.4" width="6.4" height="2.4" fill="#5e5e5e"/>
<rect x="96.7" y="134.4" width="4.4" height="2.4" fill="#d9d9d9"/>
<rect x="100.7" y="134.4" width="2.4" height="2.4" fill="#d8d8d8"/>
<rect x="102.7" y="134.4" width="2.4" height="2.4" fill="#d6d6d6"/>
<rect x="104.7" y="134.4" width="2.4" height="2.4" fill="#d4d4d4"/>
<rect x="106.7" y="134.4" width="2.4" height="2.4" fill="#d1d1d1"/>
<rect x="108.7" y="134.4" width="2.4" height="2.4" fill="#cecece"/>
<rect x="110.7" y="134.4" width="2.4" height="2.4" fill="#cacaca"/>
<rect x="112.8" y="134.4" width="2.4" height="2.4" fill="#c6c6c6"/>
<rect x="114.8" y="134.4" width="2.4" height="2.4" fill="#c1c1c1"/>
<rect x="116.8" y="134.4" width="2.4" height="2.4" fill="#bcbcbc"/>
<rect x="118.8" y="134.4" width="2.4" height="2.4" fill="#b6b6b6"/>
<rect x="120.8" y="134.4" width="2.4" height="2.4" fill="#b1b1b1"/>
<rect x="122.8" y="134.4" width="2.4" height="2.4" fill="#ababab"/>
<rect x="124.8" y="134.4" width="2.4" height="2.4" fill="#a4a4a4"/>
<rect x="126.8" y="134.4" width="2.4" height="2.4" fill="#9e9e9e"/>
<rect x="128.9" y="134.4" width="2.4" height="2.4" fill="#979797"/>
<rect x="130.9" y="134.4" width="2.4" height="2.4" fill="#909090"/>
<rect x="132.9" y="134.4" width="2.4" height="2.4" fill="#8a8a8a"/>
<rect x="134.9" y="134.4" width="2.4" height="2.4" fill="#838383"/>
<rect x="136.9" y="134.4" width="2.4" height="2.4" fill="#7d7d7d"/>
<rect x="138.9" y="134.4" width="2.4" height="2.4" fill="#777777"/>
<rect x="140.9" y="134.4" width="2.4" height="2.4" fill="#717171"/>
<rect x="142.9" y="134.4" width="2.4" height="2.4" fill="#6c6c6c"/>
<rect x="145.0" y="134.4" width="2.4" height="2.4" fill="#686868"/>
<rect x="147.0" y="134.4" width="2.4" height="2.4" fill="#636363"/>
<rect x="149.0" y="134.4" width="2.4" height="2.4" fill="#606060"/>
<rect x="151.0" y="134.4" width="6.4" height="2.4" fill="#5e5e5e"/>
<rect x="96.7" y="136.4" width="4.4" height="2.4" fill="#d9d9d9"/>
<rect x="100.7" y="136.4" width="2.4" height="2.4" fill="#d8d8d8"/>
<rect x="102.7" y="136.4" width="2.4" height="2.4" fill="#d6d6d6"/>
<rect x="104.7" y="136.4" width="2.4" height="2.4" fill="#d4d4d4"/>
<rect x="106.7" y="136.4" width="2.4" height="2.4" fill="#d1d1d1"/>
<rect x="108.7" y="136.4" width="2.4" height="2.4" fill="#cecece"/>
<rect x="110.7" y="136.4" width="2.4" height="2.4" fill="#cacaca"/>
<rect x="112.8" y="136.4" width="2.4" height="2.4" fill="#c6c6c6"/>
<rect x="114.8" y="136.4" width="2.4" height="2.4" fill="#c1c1c1"/>
<rect x="116.8" y="136.4" width="2.4" height="2.4" fill="#bcbcbc"/>
<rect x="118.8" y="136.4" width="2.4" height="2.4" fill="#b6b6b6"/>
<rect x="120.8" y="136.4" width="2.4" height="2.4" fill="#b1b1b1"/>
<rect x="122.8" y="136.4" width="2.4" height="2.4" fill="#ababab"/>
<rect x="124.8" y="136.4" width="2.4" height="2.4" fill="#a4a4a4"/>
<rect x="126.8" y="136.4" width="2.4" height="2.4" fill="#9e9e9e"/>
<rect x="128.9" y="136.4" width="2.4" height="2.4" fill="#979797"/>
<rect x="130.9" y="136.4" width="2.4" height="2.4" fill="#909090"/>
<rect x="132.9" y="136.4" width="2.4" height="2.4" fill="#8a8a8a"/>
<rect x="134.9" y="136.4" width="2.4" height="2.4" fill="#838383"/>
<rect x="136.9" y="136.4" width="2.4" height="2.4" fill="#7d7d7d"/>
<rect x="138.9" y="136.4" width="2.4" height="2.4" fill="#777777"/>
<rect x="140.9" y="136.4" width="2.4" height="2.4" fill="#717171"/>
<rect x="142.9" y="136.4" width="2.4" height="2.4" fill="#6c6c6c"/>
<rect x="145.0" y="136.4" width="2.4" height="2.4" fill="#686868"/>
<rect x="147.0" y="136.4" width="2.4" height="2.4" fill="#636363"/>
<rect x="149.0" y="136.4" width="2.4" height="2.4" fill="#606060"/>
<rect x="151.0" y="136.4" width="6.4" height="2.4" fill="#5e5e5e"/>
</g>
<use href="#qa" transform="translate(193.30 0) scale(-1 1)"/>
<use href="#qa" transform="translate(0 156.40) scale(1 -1)"/>
<use href="#qa" transform="translate(193.30 156.40) scale(-1 -1)"/>
</g></g>
<rect x="40.40" y="22.10" width="112.80" height="112.50" fill="none" stroke="#111" stroke-width="1.1"/>
<rect x="40.3" y="139.4" width="113.00000000000001" height="90.6" fill="#fff"/>
<line x1="40.30" y1="198.00" x2="153.30" y2="198.00" stroke="#6fa4e0" stroke-width="1.1"/>
<path d="M40.30 148.49 L41.28 158.85 L42.50 171.80 L43.73 182.16 L44.71 183.20 L45.44 179.57 L46.18 170.50 L46.79 181.64 L47.40 184.23 L50.10 187.34 L55.00 193.30 L58.67 197.70 L60.63 200.11 L62.58 202.39 L64.54 204.54 L66.49 206.57 L68.44 208.47 L70.40 210.24 L72.35 211.89 L74.30 213.41 L76.26 214.80 L78.21 216.07 L80.17 217.21 L82.12 218.22 L84.07 219.11 L86.03 219.87 L87.98 220.50 L89.93 221.01 L91.89 221.39 L93.84 221.64 L95.80 221.77 L97.75 221.77 L99.70 221.64 L101.66 221.39 L103.61 221.01 L105.56 220.50 L107.52 219.87 L109.47 219.11 L111.43 218.22 L113.38 217.21 L115.33 216.07 L117.29 214.80 L119.24 213.41 L121.19 211.89 L123.15 210.24 L125.10 208.47 L127.06 206.57 L129.01 204.54 L130.96 202.39 L132.92 200.11 L134.87 197.70 L138.55 193.30 L143.44 187.34 L146.14 184.23 L146.75 181.64 L147.37 170.50 L148.10 179.57 L148.83 183.20 L149.81 182.16 L151.04 171.80 L152.26 158.85 L153.25 148.49" fill="none" stroke="#d8505a" stroke-width="0.95" stroke-linejoin="round"/>
<path d="M58.70 184.00 v3.6 M58.70 191.00 V198.00" stroke="#1a1a1a" stroke-width="1.5" fill="none"/>
<path d="M135.10 184.00 v3.6 M135.10 191.00 V198.00" stroke="#1a1a1a" stroke-width="1.5" fill="none"/>
<line x1="60.90" y1="192.50" x2="132.90" y2="192.50" stroke="#111" stroke-width="1.4"/>
<path d="M59.40 192.50 l3.7 -1.75 v3.5z M134.40 192.50 l-3.7 -1.75 v3.5z" fill="#111"/>
<text x="96.30" y="188.00" font-size="8.7" text-anchor="middle" stroke-width="0.3">308.87 μm</text>
<rect x="40.30" y="139.40" width="113.00" height="90.60" fill="none" stroke="#3a3a3a" stroke-width="1.0"/>
<line x1="40.30" y1="145.90" x2="41.90" y2="145.90" stroke="#222" stroke-width="0.7"/>
<line x1="40.30" y1="158.85" x2="41.90" y2="158.85" stroke="#222" stroke-width="0.7"/>
<line x1="40.30" y1="171.80" x2="41.90" y2="171.80" stroke="#222" stroke-width="0.7"/>
<line x1="40.30" y1="184.75" x2="41.90" y2="184.75" stroke="#222" stroke-width="0.7"/>
<line x1="40.30" y1="197.70" x2="41.90" y2="197.70" stroke="#222" stroke-width="0.7"/>
<line x1="40.30" y1="210.65" x2="41.90" y2="210.65" stroke="#222" stroke-width="0.7"/>
<line x1="40.30" y1="223.60" x2="41.90" y2="223.60" stroke="#222" stroke-width="0.7"/>
<text x="36.30" y="149.10" font-size="8.7" text-anchor="end" stroke-width="0.3">200</text>
<text x="36.30" y="162.05" font-size="8.7" text-anchor="end" stroke-width="0.3">150</text>
<text x="36.30" y="175.00" font-size="8.7" text-anchor="end" stroke-width="0.3">100</text>
<text x="36.30" y="187.95" font-size="8.7" text-anchor="end" stroke-width="0.3">50</text>
<text x="36.30" y="200.90" font-size="8.7" text-anchor="end" stroke-width="0.3">0</text>
<text x="36.30" y="213.85" font-size="8.7" text-anchor="end" stroke-width="0.3">−50</text>
<text x="36.30" y="226.80" font-size="8.7" text-anchor="end" stroke-width="0.3">−100</text>
<line x1="40.30" y1="230.00" x2="40.30" y2="228.40" stroke="#222" stroke-width="0.7"/>
<line x1="64.80" y1="230.00" x2="64.80" y2="228.40" stroke="#222" stroke-width="0.7"/>
<line x1="89.30" y1="230.00" x2="89.30" y2="228.40" stroke="#222" stroke-width="0.7"/>
<line x1="113.80" y1="230.00" x2="113.80" y2="228.40" stroke="#222" stroke-width="0.7"/>
<line x1="138.30" y1="230.00" x2="138.30" y2="228.40" stroke="#222" stroke-width="0.7"/>
<text x="40.30" y="239.20" font-size="8.7" text-anchor="middle" stroke-width="0.3">0</text>
<text x="64.80" y="239.20" font-size="8.7" text-anchor="middle" stroke-width="0.3">100</text>
<text x="89.30" y="239.20" font-size="8.7" text-anchor="middle" stroke-width="0.3">200</text>
<text x="113.80" y="239.20" font-size="8.7" text-anchor="middle" stroke-width="0.3">300</text>
<text x="138.30" y="239.20" font-size="8.7" text-anchor="middle" stroke-width="0.3">400</text>
<text x="15.00" y="187.00" font-size="9.1" text-anchor="middle" stroke-width="0.3" transform="rotate(-90 15.00 187.00)">Stress Tensor (N/m²)</text>
<text x="95.00" y="249.00" font-size="9.1" text-anchor="middle" stroke-width="0.3">Length (μm)</text>
<text x="91.00" y="267.00" font-size="15" text-anchor="middle" stroke-width="0.3">(a)</text>
<text x="284.60" y="15.50" font-size="9.15" text-anchor="middle" stroke-width="0.3">Apply 1Pa pressure</text>
<rect x="191.00" y="21.50" width="7.60" height="106.50" fill="url(#cb)"/>
<text x="188.20" y="31.10" font-size="8.7" text-anchor="end" stroke-width="0.3">250</text>
<text x="188.20" y="48.40" font-size="8.7" text-anchor="end" stroke-width="0.3">150</text>
<text x="188.20" y="66.40" font-size="8.7" text-anchor="end" stroke-width="0.3">100</text>
<text x="188.20" y="83.90" font-size="8.7" text-anchor="end" stroke-width="0.3">50</text>
<text x="188.20" y="101.10" font-size="8.7" text-anchor="end" stroke-width="0.3">0</text>
<text x="188.20" y="118.80" font-size="8.7" text-anchor="end" stroke-width="0.3">−50</text>
<g clip-path="url(#clipb)"><g filter="url(#jet)" shape-rendering="crispEdges">
<g id="qb">
<rect x="282.7" y="74.9" width="10.4" height="2.4" fill="#000000"/>
<rect x="292.7" y="74.9" width="2.4" height="2.4" fill="#010101"/>
<rect x="294.7" y="74.9" width="2.4" height="2.4" fill="#020202"/>
<rect x="296.7" y="74.9" width="2.4" height="2.4" fill="#030303"/>
<rect x="298.7" y="74.9" width="2.4" height="2.4" fill="#040404"/>
<rect x="300.7" y="74.9" width="2.4" height="2.4" fill="#050505"/>
<rect x="302.7" y="74.9" width="2.4" height="2.4" fill="#070707"/>
<rect x="304.7" y="74.9" width="2.4" height="2.4" fill="#090909"/>
<rect x="306.7" y="74.9" width="2.4" height="2.4" fill="#0b0b0b"/>
<rect x="308.7" y="74.9" width="2.4" height="2.4" fill="#0c0c0c"/>
<rect x="310.7" y="74.9" width="2.4" height="2.4" fill="#0f0f0f"/>
<rect x="312.7" y="74.9" width="2.4" height="2.4" fill="#111111"/>
<rect x="314.7" y="74.9" width="2.4" height="2.4" fill="#131313"/>
<rect x="316.7" y="74.9" width="2.4" height="2.4" fill="#151515"/>
<rect x="318.7" y="74.9" width="2.4" height="2.4" fill="#181818"/>
<rect x="320.7" y="74.9" width="2.4" height="2.4" fill="#1b1b1b"/>
<rect x="322.8" y="74.9" width="2.4" height="2.4" fill="#1d1d1d"/>
<rect x="324.8" y="74.9" width="2.4" height="2.4" fill="#202020"/>
<rect x="326.8" y="74.9" width="2.4" height="2.4" fill="#232323"/>
<rect x="328.8" y="74.9" width="2.4" height="2.4" fill="#262626"/>
<rect x="330.8" y="74.9" width="2.4" height="2.4" fill="#292929"/>
<rect x="332.8" y="74.9" width="2.4" height="2.4" fill="#2c2c2c"/>
<rect x="334.8" y="74.9" width="2.4" height="2.4" fill="#2f2f2f"/>
<rect x="336.8" y="74.9" width="2.4" height="2.4" fill="#323232"/>
<rect x="338.8" y="74.9" width="2.4" height="2.4" fill="#353535"/>
<rect x="340.8" y="74.9" width="2.4" height="2.4" fill="#383838"/>
<rect x="342.8" y="74.9" width="2.4" height="2.4" fill="#3b3b3b"/>
<rect x="344.8" y="74.9" width="2.4" height="2.4" fill="#3d3d3d"/>
<rect x="346.8" y="74.9" width="2.4" height="2.4" fill="#414141"/>
<rect x="348.8" y="74.9" width="2.4" height="2.4" fill="#444444"/>
<rect x="350.8" y="74.9" width="2.4" height="2.4" fill="#484848"/>
<rect x="352.8" y="74.9" width="2.4" height="2.4" fill="#4e4e4e"/>
<rect x="354.8" y="74.9" width="2.4" height="2.4" fill="#6a6a6a"/>
<rect x="356.8" y="74.9" width="2.4" height="2.4" fill="#616161"/>
<rect x="358.8" y="74.9" width="2.4" height="2.4" fill="#5a5a5a"/>
<rect x="360.8" y="74.9" width="6.4" height="2.4" fill="#5f5f5f"/>
<rect x="282.7" y="76.9" width="10.4" height="2.4" fill="#000000"/>
<rect x="292.7" y="76.9" width="2.4" height="2.4" fill="#010101"/>
<rect x="294.7" y="76.9" width="2.4" height="2.4" fill="#020202"/>
<rect x="296.7" y="76.9" width="2.4" height="2.4" fill="#030303"/>
<rect x="298.7" y="76.9" width="2.4" height="2.4" fill="#040404"/>
<rect x="300.7" y="76.9" width="2.4" height="2.4" fill="#060606"/>
<rect x="302.7" y="76.9" width="2.4" height="2.4" fill="#070707"/>
<rect x="304.7" y="76.9" width="2.4" height="2.4" fill="#090909"/>
<rect x="306.7" y="76.9" width="2.4" height="2.4" fill="#0b0b0b"/>
<rect x="308.7" y="76.9" width="2.4" height="2.4" fill="#0d0d0d"/>
<rect x="310.7" y="76.9" width="2.4" height="2.4" fill="#0f0f0f"/>
<rect x="312.7" y="76.9" width="2.4" height="2.4" fill="#111111"/>
<rect x="314.7" y="76.9" width="2.4" height="2.4" fill="#131313"/>
<rect x="316.7" y="76.9" width="2.4" height="2.4" fill="#161616"/>
<rect x="318.7" y="76.9" width="2.4" height="2.4" fill="#181818"/>
<rect x="320.7" y="76.9" width="2.4" height="2.4" fill="#1b1b1b"/>
<rect x="322.8" y="76.9" width="2.4" height="2.4" fill="#1d1d1d"/>
<rect x="324.8" y="76.9" width="2.4" height="2.4" fill="#202020"/>
<rect x="326.8" y="76.9" width="2.4" height="2.4" fill="#232323"/>
<rect x="328.8" y="76.9" width="2.4" height="2.4" fill="#262626"/>
<rect x="330.8" y="76.9" width="2.4" height="2.4" fill="#292929"/>
<rect x="332.8" y="76.9" width="2.4" height="2.4" fill="#2c2c2c"/>
<rect x="334.8" y="76.9" width="2.4" height="2.4" fill="#2f2f2f"/>
<rect x="336.8" y="76.9" width="2.4" height="2.4" fill="#323232"/>
<rect x="338.8" y="76.9" width="2.4" height="2.4" fill="#353535"/>
<rect x="340.8" y="76.9" width="2.4" height="2.4" fill="#383838"/>
<rect x="342.8" y="76.9" width="2.4" height="2.4" fill="#3b3b3b"/>
<rect x="344.8" y="76.9" width="2.4" height="2.4" fill="#3d3d3d"/>
<rect x="346.8" y="76.9" width="2.4" height="2.4" fill="#414141"/>
<rect x="348.8" y="76.9" width="2.4" height="2.4" fill="#444444"/>
<rect x="350.8" y="76.9" width="2.4" height="2.4" fill="#484848"/>
<rect x="352.8" y="76.9" width="2.4" height="2.4" fill="#4e4e4e"/>
<rect x="354.8" y="76.9" width="2.4" height="2.4" fill="#6a6a6a"/>
<rect x="356.8" y="76.9" width="2.4" height="2.4" fill="#616161"/>
<rect x="358.8" y="76.9" width="2.4" height="2.4" fill="#5a5a5a"/>
<rect x="360.8" y="76.9" width="6.4" height="2.4" fill="#5f5f5f"/>
<rect x="282.7" y="78.8" width="8.4" height="2.4" fill="#000000"/>
<rect x="290.7" y="78.8" width="2.4" height="2.4" fill="#010101"/>
<rect x="292.7" y="78.8" width="2.4" height="2.4" fill="#020202"/>
<rect x="294.7" y="78.8" width="2.4" height="2.4" fill="#030303"/>
<rect x="296.7" y="78.8" width="2.4" height="2.4" fill="#040404"/>
<rect x="298.7" y="78.8" width="2.4" height="2.4" fill="#050505"/>
<rect x="300.7" y="78.8" width="2.4" height="2.4" fill="#060606"/>
<rect x="302.7" y="78.8" width="2.4" height="2.4" fill="#080808"/>
<rect x="304.7" y="78.8" width="2.4" height="2.4" fill="#090909"/>
<rect x="306.7" y="78.8" width="2.4" height="2.4" fill="#0b0b0b"/>
<rect x="308.7" y="78.8" width="2.4" height="2.4" fill="#0d0d0d"/>
<rect x="310.7" y="78.8" width="2.4" height="2.4" fill="#0f0f0f"/>
<rect x="312.7" y="78.8" width="2.4" height="2.4" fill="#111111"/>
<rect x="314.7" y="78.8" width="2.4" height="2.4" fill="#131313"/>
<rect x="316.7" y="78.8" width="2.4" height="2.4" fill="#161616"/>
<rect x="318.7" y="78.8" width="2.4" height="2.4" fill="#181818"/>
<rect x="320.7" y="78.8" width="2.4" height="2.4" fill="#1b1b1b"/>
<rect x="322.8" y="78.8" width="2.4" height="2.4" fill="#1e1e1e"/>
<rect x="324.8" y="78.8" width="2.4" height="2.4" fill="#202020"/>
<rect x="326.8" y="78.8" width="2.4" height="2.4" fill="#232323"/>
<rect x="328.8" y="78.8" width="2.4" height="2.4" fill="#262626"/>
<rect x="330.8" y="78.8" width="2.4" height="2.4" fill="#292929"/>
<rect x="332.8" y="78.8" width="2.4" height="2.4" fill="#2c2c2c"/>
<rect x="334.8" y="78.8" width="2.4" height="2.4" fill="#2f2f2f"/>
<rect x="336.8" y="78.8" width="2.4" height="2.4" fill="#323232"/>
<rect x="338.8" y="78.8" width="2.4" height="2.4" fill="#353535"/>
<rect x="340.8" y="78.8" width="2.4" height="2.4" fill="#383838"/>
<rect x="342.8" y="78.8" width="2.4" height="2.4" fill="#3b3b3b"/>
<rect x="344.8" y="78.8" width="2.4" height="2.4" fill="#3e3e3e"/>
<rect x="346.8" y="78.8" width="2.4" height="2.4" fill="#414141"/>
<rect x="348.8" y="78.8" width="2.4" height="2.4" fill="#444444"/>
<rect x="350.8" y="78.8" width="2.4" height="2.4" fill="#484848"/>
<rect x="352.8" y="78.8" width="2.4" height="2.4" fill="#4e4e4e"/>
<rect x="354.8" y="78.8" width="2.4" height="2.4" fill="#6a6a6a"/>
<rect x="356.8" y="78.8" width="2.4" height="2.4" fill="#616161"/>
<rect x="358.8" y="78.8" width="2.4" height="2.4" fill="#5a5a5a"/>
<rect x="360.8" y="78.8" width="6.4" height="2.4" fill="#5f5f5f"/>
<rect x="282.7" y="80.8" width="4.4" height="2.4" fill="#010101"/>
<rect x="286.7" y="80.8" width="6.4" height="2.4" fill="#020202"/>
<rect x="292.7" y="80.8" width="2.4" height="2.4" fill="#030303"/>
<rect x="294.7" y="80.8" width="2.4" height="2.4" fill="#040404"/>
<rect x="296.7" y="80.8" width="2.4" height="2.4" fill="#050505"/>
<rect x="298.7" y="80.8" width="2.4" height="2.4" fill="#060606"/>
<rect x="300.7" y="80.8" width="2.4" height="2.4" fill="#070707"/>
<rect x="302.7" y="80.8" width="2.4" height="2.4" fill="#080808"/>
<rect x="304.7" y="80.8" width="2.4" height="2.4" fill="#0a0a0a"/>
<rect x="306.7" y="80.8" width="2.4" height="2.4" fill="#0c0c0c"/>
<rect x="308.7" y="80.8" width="2.4" height="2.4" fill="#0e0e0e"/>
<rect x="310.7" y="80.8" width="2.4" height="2.4" fill="#101010"/>
<rect x="312.7" y="80.8" width="2.4" height="2.4" fill="#121212"/>
<rect x="314.7" y="80.8" width="2.4" height="2.4" fill="#141414"/>
<rect x="316.7" y="80.8" width="2.4" height="2.4" fill="#161616"/>
<rect x="318.7" y="80.8" width="2.4" height="2.4" fill="#191919"/>
<rect x="320.7" y="80.8" width="2.4" height="2.4" fill="#1b1b1b"/>
<rect x="322.8" y="80.8" width="2.4" height="2.4" fill="#1e1e1e"/>
<rect x="324.8" y="80.8" width="2.4" height="2.4" fill="#212121"/>
<rect x="326.8" y="80.8" width="2.4" height="2.4" fill="#242424"/>
<rect x="328.8" y="80.8" width="2.4" height="2.4" fill="#262626"/>
<rect x="330.8" y="80.8" width="2.4" height="2.4" fill="#292929"/>
<rect x="332.8" y="80.8" width="2.4" height="2.4" fill="#2c2c2c"/>
<rect x="334.8" y="80.8" width="2.4" height="2.4" fill="#2f2f2f"/>
<rect x="336.8" y="80.8" width="2.4" height="2.4" fill="#323232"/>
<rect x="338.8" y="80.8" width="2.4" height="2.4" fill="#353535"/>
<rect x="340.8" y="80.8" width="2.4" height="2.4" fill="#383838"/>
<rect x="342.8" y="80.8" width="2.4" height="2.4" fill="#3b3b3b"/>
<rect x="344.8" y="80.8" width="2.4" height="2.4" fill="#3e3e3e"/>
<rect x="346.8" y="80.8" width="2.4" height="2.4" fill="#414141"/>
<rect x="348.8" y="80.8" width="2.4" height="2.4" fill="#444444"/>
<rect x="350.8" y="80.8" width="2.4" height="2.4" fill="#484848"/>
<rect x="352.8" y="80.8" width="2.4" height="2.4" fill="#4e4e4e"/>
<rect x="354.8" y="80.8" width="2.4" height="2.4" fill="#696969"/>
<rect x="356.8" y="80.8" width="2.4" height="2.4" fill="#616161"/>
<rect x="358.8" y="80.8" width="2.4" height="2.4" fill="#5a5a5a"/>
<rect x="360.8" y="80.8" width="6.4" height="2.4" fill="#5f5f5f"/>
<rect x="282.7" y="82.8" width="4.4" height="2.4" fill="#030303"/>
<rect x="286.7" y="82.8" width="6.4" height="2.4" fill="#040404"/>
<rect x="292.7" y="82.8" width="4.4" height="2.4" fill="#050505"/>
<rect x="296.7" y="82.8" width="2.4" height="2.4" fill="#060606"/>
<rect x="298.7" y="82.8" width="2.4" height="2.4" fill="#070707"/>
<rect x="300.7" y="82.8" width="2.4" height="2.4" fill="#080808"/>
<rect x="302.7" y="82.8" width="2.4" height="2.4" fill="#0a0a0a"/>
<rect x="304.7" y="82.8" width="2.4" height="2.4" fill="#0b0b0b"/>
<rect x="306.7" y="82.8" width="2.4" height="2.4" fill="#0d0d0d"/>
<rect x="308.7" y="82.8" width="2.4" height="2.4" fill="#0f0f0f"/>
<rect x="310.7" y="82.8" width="2.4" height="2.4" fill="#111111"/>
<rect x="312.7" y="82.8" width="2.4" height="2.4" fill="#131313"/>
<rect x="314.7" y="82.8" width="2.4" height="2.4" fill="#151515"/>
<rect x="316.7" y="82.8" width="2.4" height="2.4" fill="#171717"/>
<rect x="318.7" y="82.8" width="2.4" height="2.4" fill="#1a1a1a"/>
<rect x="320.7" y="82.8" width="2.4" height="2.4" fill="#1c1c1c"/>
<rect x="322.8" y="82.8" width="2.4" height="2.4" fill="#1f1f1f"/>
<rect x="324.8" y="82.8" width="2.4" height="2.4" fill="#222222"/>
<rect x="326.8" y="82.8" width="2.4" height="2.4" fill="#242424"/>
<rect x="328.8" y="82.8" width="2.4" height="2.4" fill="#272727"/>
<rect x="330.8" y="82.8" width="2.4" height="2.4" fill="#2a2a2a"/>
<rect x="332.8" y="82.8" width="2.4" height="2.4" fill="#2d2d2d"/>
<rect x="334.8" y="82.8" width="2.4" height="2.4" fill="#303030"/>
<rect x="336.8" y="82.8" width="2.4" height="2.4" fill="#333333"/>
<rect x="338.8" y="82.8" width="2.4" height="2.4" fill="#363636"/>
<rect x="340.8" y="82.8" width="2.4" height="2.4" fill="#393939"/>
<rect x="342.8" y="82.8" width="2.4" height="2.4" fill="#3b3b3b"/>
<rect x="344.8" y="82.8" width="2.4" height="2.4" fill="#3e3e3e"/>
<rect x="346.8" y="82.8" width="2.4" height="2.4" fill="#414141"/>
<rect x="348.8" y="82.8" width="2.4" height="2.4" fill="#454545"/>
<rect x="350.8" y="82.8" width="2.4" height="2.4" fill="#494949"/>
<rect x="352.8" y="82.8" width="2.4" height="2.4" fill="#4e4e4e"/>
<rect x="354.8" y="82.8" width="2.4" height="2.4" fill="#696969"/>
<rect x="356.8" y="82.8" width="2.4" height="2.4" fill="#616161"/>
<rect x="358.8" y="82.8" width="2.4" height="2.4" fill="#5a5a5a"/>
<rect x="360.8" y="82.8" width="6.4" height="2.4" fill="#5f5f5f"/>
<rect x="282.7" y="84.7" width="10.4" height="2.4" fill="#060606"/>
<rect x="292.7" y="84.7" width="2.4" height="2.4" fill="#070707"/>
<rect x="294.7" y="84.7" width="4.4" height="2.4" fill="#080808"/>
<rect x="298.7" y="84.7" width="2.4" height="2.4" fill="#090909"/>
<rect x="300.7" y="84.7" width="2.4" height="2.4" fill="#0a0a0a"/>
<rect x="302.7" y="84.7" width="2.4" height="2.4" fill="#0c0c0c"/>
<rect x="304.7" y="84.7" width="2.4" height="2.4" fill="#0d0d0d"/>
<rect x="306.7" y="84.7" width="2.4" height="2.4" fill="#0f0f0f"/>
<rect x="308.7" y="84.7" width="2.4" height="2.4" fill="#101010"/>
<rect x="310.7" y="84.7" width="2.4" height="2.4" fill="#121212"/>
<rect x="312.7" y="84.7" width="2.4" height="2.4" fill="#141414"/>
<rect x="314.7" y="84.7" width="2.4" height="2.4" fill="#161616"/>
<rect x="316.7" y="84.7" width="2.4" height="2.4" fill="#191919"/>
<rect x="318.7" y="84.7" width="2.4" height="2.4" fill="#1b1b1b"/>
<rect x="320.7" y="84.7" width="2.4" height="2.4" fill="#1d1d1d"/>
<rect x="322.8" y="84.7" width="2.4" height="2.4" fill="#202020"/>
<rect x="324.8" y="84.7" width="2.4" height="2.4" fill="#232323"/>
<rect x="326.8" y="84.7" width="2.4" height="2.4" fill="#252525"/>
<rect x="328.8" y="84.7" width="2.4" height="2.4" fill="#282828"/>
<rect x="330.8" y="84.7" width="2.4" height="2.4" fill="#2b2b2b"/>
<rect x="332.8" y="84.7" width="2.4" height="2.4" fill="#2e2e2e"/>
<rect x="334.8" y="84.7" width="2.4" height="2.4" fill="#313131"/>
<rect x="336.8" y="84.7" width="2.4" height="2.4" fill="#333333"/>
<rect x="338.8" y="84.7" width="2.4" height="2.4" fill="#363636"/>
<rect x="340.8" y="84.7" width="2.4" height="2.4" fill="#393939"/>
<rect x="342.8" y="84.7" width="2.4" height="2.4" fill="#3c3c3c"/>
<rect x="344.8" y="84.7" width="2.4" height="2.4" fill="#3f3f3f"/>
<rect x="346.8" y="84.7" width="2.4" height="2.4" fill="#424242"/>
<rect x="348.8" y="84.7" width="2.4" height="2.4" fill="#454545"/>
<rect x="350.8" y="84.7" width="2.4" height="2.4" fill="#494949"/>
<rect x="352.8" y="84.7" width="2.4" height="2.4" fill="#4f4f4f"/>
<rect x="354.8" y="84.7" width="2.4" height="2.4" fill="#696969"/>
<rect x="356.8" y="84.7" width="2.4" height="2.4" fill="#616161"/>
<rect x="358.8" y="84.7" width="2.4" height="2.4" fill="#5a5a5a"/>
<rect x="360.8" y="84.7" width="6.4" height="2.4" fill="#5f5f5f"/>
<rect x="282.7" y="86.7" width="10.4" height="2.4" fill="#090909"/>
<rect x="292.7" y="86.7" width="4.4" height="2.4" fill="#0a0a0a"/>
<rect x="296.7" y="86.7" width="2.4" height="2.4" fill="#0b0b0b"/>
<rect x="298.7" y="86.7" width="2.4" height="2.4" fill="#0c0c0c"/>
<rect x="300.7" y="86.7" width="2.4" height="2.4" fill="#0d0d0d"/>
<rect x="302.7" y="86.7" width="2.4" height="2.4" fill="#0e0e0e"/>
<rect x="304.7" y="86.7" width="2.4" height="2.4" fill="#0f0f0f"/>
<rect x="306.7" y="86.7" width="2.4" height="2.4" fill="#111111"/>
<rect x="308.7" y="86.7" width="2.4" height="2.4" fill="#121212"/>
<rect x="310.7" y="86.7" width="2.4" height="2.4" fill="#141414"/>
<rect x="312.7" y="86.7" width="2.4" height="2.4" fill="#161616"/>
<rect x="314.7" y="86.7" width="2.4" height="2.4" fill="#181818"/>
<rect x="316.7" y="86.7" width="2.4" height="2.4" fill="#1a1a1a"/>
<rect x="318.7" y="86.7" width="2.4" height="2.4" fill="#1d1d1d"/>
<rect x="320.7" y="86.7" width="2.4" height="2.4" fill="#1f1f1f"/>
<rect x="322.8" y="86.7" width="2.4" height="2.4" fill="#212121"/>
<rect x="324.8" y="86.7" width="2.4" height="2.4" fill="#242424"/>
<rect x="326.8" y="86.7" width="2.4" height="2.4" fill="#272727"/>
<rect x="328.8" y="86.7" width="2.4" height="2.4" fill="#292929"/>
<rect x="330.8" y="86.7" width="2.4" height="2.4" fill="#2c2c2c"/>
<rect x="332.8" y="86.7" width="2.4" height="2.4" fill="#2f2f2f"/>
<rect x="334.8" y="86.7" width="2.4" height="2.4" fill="#323232"/>
<rect x="336.8" y="86.7" width="2.4" height="2.4" fill="#343434"/>
<rect x="338.8" y="86.7" width="2.4" height="2.4" fill="#373737"/>
<rect x="340.8" y="86.7" width="2.4" height="2.4" fill="#3a3a3a"/>
<rect x="342.8" y="86.7" width="2.4" height="2.4" fill="#3d3d3d"/>
<rect x="344.8" y="86.7" width="2.4" height="2.4" fill="#404040"/>
<rect x="346.8" y="86.7" width="2.4" height="2.4" fill="#424242"/>
<rect x="348.8" y="86.7" width="2.4" height="2.4" fill="#464646"/>
<rect x="350.8" y="86.7" width="2.4" height="2.4" fill="#4a4a4a"/>
<rect x="352.8" y="86.7" width="2.4" height="2.4" fill="#4f4f4f"/>
<rect x="354.8" y="86.7" width="2.4" height="2.4" fill="#686868"/>
<rect x="356.8" y="86.7" width="2.4" height="2.4" fill="#616161"/>
<rect x="358.8" y="86.7" width="2.4" height="2.4" fill="#5a5a5a"/>
<rect x="360.8" y="86.7" width="6.4" height="2.4" fill="#5e5e5e"/>
<rect x="282.7" y="88.6" width="10.4" height="2.4" fill="#0c0c0c"/>
<rect x="292.7" y="88.6" width="4.4" height="2.4" fill="#0d0d0d"/>
<rect x="296.7" y="88.6" width="2.4" height="2.4" fill="#0e0e0e"/>
<rect x="298.7" y="88.6" width="2.4" height="2.4" fill="#0f0f0f"/>
<rect x="300.7" y="88.6" width="2.4" height="2.4" fill="#101010"/>
<rect x="302.7" y="88.6" width="2.4" height="2.4" fill="#111111"/>
<rect x="304.7" y="88.6" width="2.4" height="2.4" fill="#121212"/>
<rect x="306.7" y="88.6" width="2.4" height="2.4" fill="#131313"/>
<rect x="308.7" y="88.6" width="2.4" height="2.4" fill="#151515"/>
<rect x="310.7" y="88.6" width="2.4" height="2.4" fill="#171717"/>
<rect x="312.7" y="88.6" width="2.4" height="2.4" fill="#181818"/>
<rect x="314.7" y="88.6" width="2.4" height="2.4" fill="#1a1a1a"/>
<rect x="316.7" y="88.6" width="2.4" height="2.4" fill="#1c1c1c"/>
<rect x="318.7" y="88.6" width="2.4" height="2.4" fill="#1f1f1f"/>
<rect x="320.7" y="88.6" width="2.4" height="2.4" fill="#212121"/>
<rect x="322.8" y="88.6" width="2.4" height="2.4" fill="#232323"/>
<rect x="324.8" y="88.6" width="2.4" height="2.4" fill="#262626"/>
<rect x="326.8" y="88.6" width="2.4" height="2.4" fill="#282828"/>
<rect x="328.8" y="88.6" width="2.4" height="2.4" fill="#2b2b2b"/>
<rect x="330.8" y="88.6" width="2.4" height="2.4" fill="#2e2e2e"/>
<rect x="332.8" y="88.6" width="2.4" height="2.4" fill="#303030"/>
<rect x="334.8" y="88.6" width="2.4" height="2.4" fill="#333333"/>
<rect x="336.8" y="88.6" width="2.4" height="2.4" fill="#363636"/>
<rect x="338.8" y="88.6" width="2.4" height="2.4" fill="#383838"/>
<rect x="340.8" y="88.6" width="2.4" height="2.4" fill="#3b3b3b"/>
<rect x="342.8" y="88.6" width="2.4" height="2.4" fill="#3e3e3e"/>
<rect x="344.8" y="88.6" width="2.4" height="2.4" fill="#404040"/>
<rect x="346.8" y="88.6" width="2.4" height="2.4" fill="#434343"/>
<rect x="348.8" y="88.6" width="2.4" height="2.4" fill="#464646"/>
<rect x="350.8" y="88.6" width="2.4" height="2.4" fill="#4a4a4a"/>
<rect x="352.8" y="88.6" width="2.4" height="2.4" fill="#505050"/>
<rect x="354.8" y="88.6" width="2.4" height="2.4" fill="#686868"/>
<rect x="356.8" y="88.6" width="2.4" height="2.4" fill="#616161"/>
<rect x="358.8" y="88.6" width="2.4" height="2.4" fill="#5a5a5a"/>
<rect x="360.8" y="88.6" width="6.4" height="2.4" fill="#5e5e5e"/>
<rect x="282.7" y="90.6" width="12.4" height="2.4" fill="#101010"/>
<rect x="294.7" y="90.6" width="2.4" height="2.4" fill="#111111"/>
<rect x="296.7" y="90.6" width="4.4" height="2.4" fill="#121212"/>
<rect x="300.7" y="90.6" width="2.4" height="2.4" fill="#131313"/>
<rect x="302.7" y="90.6" width="2.4" height="2.4" fill="#141414"/>
<rect x="304.7" y="90.6" width="2.4" height="2.4" fill="#151515"/>
<rect x="306.7" y="90.6" width="2.4" height="2.4" fill="#171717"/>
<rect x="308.7" y="90.6" width="2.4" height="2.4" fill="#181818"/>
<rect x="310.7" y="90.6" width="2.4" height="2.4" fill="#1a1a1a"/>
<rect x="312.7" y="90.6" width="2.4" height="2.4" fill="#1b1b1b"/>
<rect x="314.7" y="90.6" width="2.4" height="2.4" fill="#1d1d1d"/>
<rect x="316.7" y="90.6" width="2.4" height="2.4" fill="#1f1f1f"/>
<rect x="318.7" y="90.6" width="2.4" height="2.4" fill="#212121"/>
<rect x="320.7" y="90.6" width="2.4" height="2.4" fill="#232323"/>
<rect x="322.8" y="90.6" width="2.4" height="2.4" fill="#262626"/>
<rect x="324.8" y="90.6" width="2.4" height="2.4" fill="#282828"/>
<rect x="326.8" y="90.6" width="2.4" height="2.4" fill="#2a2a2a"/>
<rect x="328.8" y="90.6" width="2.4" height="2.4" fill="#2d2d2d"/>
<rect x="330.8" y="90.6" width="2.4" height="2.4" fill="#2f2f2f"/>
<rect x="332.8" y="90.6" width="2.4" height="2.4" fill="#323232"/>
<rect x="334.8" y="90.6" width="2.4" height="2.4" fill="#353535"/>
<rect x="336.8" y="90.6" width="2.4" height="2.4" fill="#373737"/>
<rect x="338.8" y="90.6" width="2.4" height="2.4" fill="#3a3a3a"/>
<rect x="340.8" y="90.6" width="2.4" height="2.4" fill="#3c3c3c"/>
<rect x="342.8" y="90.6" width="2.4" height="2.4" fill="#3f3f3f"/>
<rect x="344.8" y="90.6" width="2.4" height="2.4" fill="#424242"/>
<rect x="346.8" y="90.6" width="2.4" height="2.4" fill="#444444"/>
<rect x="348.8" y="90.6" width="2.4" height="2.4" fill="#474747"/>
<rect x="350.8" y="90.6" width="2.4" height="2.4" fill="#4b4b4b"/>
<rect x="352.8" y="90.6" width="2.4" height="2.4" fill="#505050"/>
<rect x="354.8" y="90.6" width="2.4" height="2.4" fill="#686868"/>
<rect x="356.8" y="90.6" width="2.4" height="2.4" fill="#616161"/>
<rect x="358.8" y="90.6" width="2.4" height="2.4" fill="#5a5a5a"/>
<rect x="360.8" y="90.6" width="6.4" height="2.4" fill="#5e5e5e"/>
<rect x="282.7" y="92.6" width="12.4" height="2.4" fill="#141414"/>
<rect x="294.7" y="92.6" width="4.4" height="2.4" fill="#151515"/>
<rect x="298.7" y="92.6" width="2.4" height="2.4" fill="#161616"/>
<rect x="300.7" y="92.6" width="2.4" height="2.4" fill="#171717"/>
<rect x="302.7" y="92.6" width="2.4" height="2.4" fill="#181818"/>
<rect x="304.7" y="92.6" width="2.4" height="2.4" fill="#191919"/>
<rect x="306.7" y="92.6" width="2.4" height="2.4" fill="#1a1a1a"/>
<rect x="308.7" y="92.6" width="2.4" height="2.4" fill="#1b1b1b"/>
<rect x="310.7" y="92.6" width="2.4" height="2.4" fill="#1d1d1d"/>
<rect x="312.7" y="92.6" width="2.4" height="2.4" fill="#1e1e1e"/>
<rect x="314.7" y="92.6" width="2.4" height="2.4" fill="#202020"/>
<rect x="316.7" y="92.6" width="2.4" height="2.4" fill="#222222"/>
<rect x="318.7" y="92.6" width="2.4" height="2.4" fill="#242424"/>
<rect x="320.7" y="92.6" width="2.4" height="2.4" fill="#262626"/>
<rect x="322.8" y="92.6" width="2.4" height="2.4" fill="#282828"/>
<rect x="324.8" y="92.6" width="2.4" height="2.4" fill="#2a2a2a"/>
<rect x="326.8" y="92.6" width="2.4" height="2.4" fill="#2d2d2d"/>
<rect x="328.8" y="92.6" width="2.4" height="2.4" fill="#2f2f2f"/>
<rect x="330.8" y="92.6" width="2.4" height="2.4" fill="#323232"/>
<rect x="332.8" y="92.6" width="2.4" height="2.4" fill="#343434"/>
<rect x="334.8" y="92.6" width="2.4" height="2.4" fill="#373737"/>
<rect x="336.8" y="92.6" width="2.4" height="2.4" fill="#393939"/>
<rect x="338.8" y="92.6" width="2.4" height="2.4" fill="#3b3b3b"/>
<rect x="340.8" y="92.6" width="2.4" height="2.4" fill="#3e3e3e"/>
<rect x="342.8" y="92.6" width="2.4" height="2.4" fill="#404040"/>
<rect x="344.8" y="92.6" width="2.4" height="2.4" fill="#434343"/>
<rect x="346.8" y="92.6" width="2.4" height="2.4" fill="#454545"/>
<rect x="348.8" y="92.6" width="2.4" height="2.4" fill="#484848"/>
<rect x="350.8" y="92.6" width="2.4" height="2.4" fill="#4c4c4c"/>
<rect x="352.8" y="92.6" width="2.4" height="2.4" fill="#515151"/>
<rect x="354.8" y="92.6" width="2.4" height="2.4" fill="#676767"/>
<rect x="356.8" y="92.6" width="2.4" height="2.4" fill="#606060"/>
<rect x="358.8" y="92.6" width="2.4" height="2.4" fill="#5a5a5a"/>
<rect x="360.8" y="92.6" width="6.4" height="2.4" fill="#5d5d5d"/>
<rect x="282.7" y="94.5" width="8.4" height="2.4" fill="#181818"/>
<rect x="290.7" y="94.5" width="6.4" height="2.4" fill="#191919"/>
<rect x="296.7" y="94.5" width="4.4" height="2.4" fill="#1a1a1a"/>
<rect x="300.7" y="94.5" width="2.4" height="2.4" fill="#1b1b1b"/>
<rect x="302.7" y="94.5" width="2.4" height="2.4" fill="#1c1c1c"/>
<rect x="304.7" y="94.5" width="2.4" height="2.4" fill="#1d1d1d"/>
<rect x="306.7" y="94.5" width="2.4" height="2.4" fill="#1e1e1e"/>
<rect x="308.7" y="94.5" width="2.4" height="2.4" fill="#1f1f1f"/>
<rect x="310.7" y="94.5" width="2.4" height="2.4" fill="#202020"/>
<rect x="312.7" y="94.5" width="2.4" height="2.4" fill="#222222"/>
<rect x="314.7" y="94.5" width="2.4" height="2.4" fill="#242424"/>
<rect x="316.7" y="94.5" width="2.4" height="2.4" fill="#252525"/>
<rect x="318.7" y="94.5" width="2.4" height="2.4" fill="#272727"/>
<rect x="320.7" y="94.5" width="2.4" height="2.4" fill="#292929"/>
<rect x="322.8" y="94.5" width="2.4" height="2.4" fill="#2b2b2b"/>
<rect x="324.8" y="94.5" width="2.4" height="2.4" fill="#2d2d2d"/>
<rect x="326.8" y="94.5" width="2.4" height="2.4" fill="#2f2f2f"/>
<rect x="328.8" y="94.5" width="2.4" height="2.4" fill="#323232"/>
<rect x="330.8" y="94.5" width="2.4" height="2.4" fill="#343434"/>
<rect x="332.8" y="94.5" width="2.4" height="2.4" fill="#363636"/>
<rect x="334.8" y="94.5" width="2.4" height="2.4" fill="#393939"/>
<rect x="336.8" y="94.5" width="2.4" height="2.4" fill="#3b3b3b"/>
<rect x="338.8" y="94.5" width="2.4" height="2.4" fill="#3d3d3d"/>
<rect x="340.8" y="94.5" width="2.4" height="2.4" fill="#404040"/>
<rect x="342.8" y="94.5" width="2.4" height="2.4" fill="#424242"/>
<rect x="344.8" y="94.5" width="2.4" height="2.4" fill="#444444"/>
<rect x="346.8" y="94.5" width="2.4" height="2.4" fill="#474747"/>
<rect x="348.8" y="94.5" width="2.4" height="2.4" fill="#494949"/>
<rect x="350.8" y="94.5" width="2.4" height="2.4" fill="#4d4d4d"/>
<rect x="352.8" y="94.5" width="2.4" height="2.4" fill="#525252"/>
<rect x="354.8" y="94.5" width="2.4" height="2.4" fill="#676767"/>
<rect x="356.8" y="94.5" width="2.4" height="2.4" fill="#606060"/>
<rect x="358.8" y="94.5" width="2.4" height="2.4" fill="#5a5a5a"/>
<rect x="360.8" y="94.5" width="6.4" height="2.4" fill="#5d5d5d"/>
<rect x="282.7" y="96.5" width="12.4" height="2.4" fill="#1d1d1d"/>
<rect x="294.7" y="96.5" width="4.4" height="2.4" fill="#1e1e1e"/>
<rect x="298.7" y="96.5" width="4.4" height="2.4" fill="#1f1f1f"/>
<rect x="302.7" y="96.5" width="2.4" height="2.4" fill="#202020"/>
<rect x="304.7" y="96.5" width="2.4" height="2.4" fill="#212121"/>
<rect x="306.7" y="96.5" width="2.4" height="2.4" fill="#222222"/>
<rect x="308.7" y="96.5" width="2.4" height="2.4" fill="#232323"/>
<rect x="310.7" y="96.5" width="2.4" height="2.4" fill="#242424"/>
<rect x="312.7" y="96.5" width="2.4" height="2.4" fill="#262626"/>
<rect x="314.7" y="96.5" width="2.4" height="2.4" fill="#272727"/>
<rect x="316.7" y="96.5" width="2.4" height="2.4" fill="#292929"/>
<rect x="318.7" y="96.5" width="2.4" height="2.4" fill="#2b2b2b"/>
<rect x="320.7" y="96.5" width="2.4" height="2.4" fill="#2c2c2c"/>
<rect x="322.8" y="96.5" width="2.4" height="2.4" fill="#2e2e2e"/>
<rect x="324.8" y="96.5" width="2.4" height="2.4" fill="#303030"/>
<rect x="326.8" y="96.5" width="2.4" height="2.4" fill="#323232"/>
<rect x="328.8" y="96.5" width="2.4" height="2.4" fill="#343434"/>
<rect x="330.8" y="96.5" width="2.4" height="2.4" fill="#373737"/>
<rect x="332.8" y="96.5" width="2.4" height="2.4" fill="#393939"/>
<rect x="334.8" y="96.5" width="2.4" height="2.4" fill="#3b3b3b"/>
<rect x="336.8" y="96.5" width="2.4" height="2.4" fill="#3d3d3d"/>
<rect x="338.8" y="96.5" width="2.4" height="2.4" fill="#3f3f3f"/>
<rect x="340.8" y="96.5" width="2.4" height="2.4" fill="#424242"/>
<rect x="342.8" y="96.5" width="2.4" height="2.4" fill="#444444"/>
<rect x="344.8" y="96.5" width="2.4" height="2.4" fill="#464646"/>
<rect x="346.8" y="96.5" width="2.4" height="2.4" fill="#484848"/>
<rect x="348.8" y="96.5" width="2.4" height="2.4" fill="#4b4b4b"/>
<rect x="350.8" y="96.5" width="2.4" height="2.4" fill="#4e4e4e"/>
<rect x="352.8" y="96.5" width="2.4" height="2.4" fill="#525252"/>
<rect x="354.8" y="96.5" width="2.4" height="2.4" fill="#666666"/>
<rect x="356.8" y="96.5" width="2.4" height="2.4" fill="#5f5f5f"/>
<rect x="358.8" y="96.5" width="2.4" height="2.4" fill="#595959"/>
<rect x="360.8" y="96.5" width="6.4" height="2.4" fill="#5c5c5c"/>
<rect x="282.7" y="98.5" width="12.4" height="2.4" fill="#222222"/>
<rect x="294.7" y="98.5" width="6.4" height="2.4" fill="#232323"/>
<rect x="300.7" y="98.5" width="2.4" height="2.4" fill="#242424"/>
<rect x="302.7" y="98.5" width="2.4" height="2.4" fill="#252525"/>
<rect x="304.7" y="98.5" width="2.4" height="2.4" fill="#262626"/>
<rect x="306.7" y="98.5" width="2.4" height="2.4" fill="#272727"/>
<rect x="308.7" y="98.5" width="2.4" height="2.4" fill="#282828"/>
<rect x="310.7" y="98.5" width="2.4" height="2.4" fill="#292929"/>
<rect x="312.7" y="98.5" width="2.4" height="2.4" fill="#2a2a2a"/>
<rect x="314.7" y="98.5" width="2.4" height="2.4" fill="#2b2b2b"/>
<rect x="316.7" y="98.5" width="2.4" height="2.4" fill="#2d2d2d"/>
<rect x="318.7" y="98.5" width="2.4" height="2.4" fill="#2e2e2e"/>
<rect x="320.7" y="98.5" width="2.4" height="2.4" fill="#303030"/>
<rect x="322.8" y="98.5" width="2.4" height="2.4" fill="#323232"/>
<rect x="324.8" y="98.5" width="2.4" height="2.4" fill="#343434"/>
<rect x="326.8" y="98.5" width="2.4" height="2.4" fill="#363636"/>
<rect x="328.8" y="98.5" width="2.4" height="2.4" fill="#383838"/>
<rect x="330.8" y="98.5" width="2.4" height="2.4" fill="#3a3a3a"/>
<rect x="332.8" y="98.5" width="2.4" height="2.4" fill="#3c3c3c"/>
<rect x="334.8" y="98.5" width="2.4" height="2.4" fill="#3e3e3e"/>
<rect x="336.8" y="98.5" width="2.4" height="2.4" fill="#404040"/>
<rect x="338.8" y="98.5" width="2.4" height="2.4" fill="#424242"/>
<rect x="340.8" y="98.5" width="2.4" height="2.4" fill="#444444"/>
<rect x="342.8" y="98.5" width="2.4" height="2.4" fill="#464646"/>
<rect x="344.8" y="98.5" width="2.4" height="2.4" fill="#484848"/>
<rect x="346.8" y="98.5" width="2.4" height="2.4" fill="#4a4a4a"/>
<rect x="348.8" y="98.5" width="2.4" height="2.4" fill="#4c4c4c"/>
<rect x="350.8" y="98.5" width="2.4" height="2.4" fill="#4f4f4f"/>
<rect x="352.8" y="98.5" width="2.4" height="2.4" fill="#535353"/>
<rect x="354.8" y="98.5" width="2.4" height="2.4" fill="#656565"/>
<rect x="356.8" y="98.5" width="2.4" height="2.4" fill="#5f5f5f"/>
<rect x="358.8" y="98.5" width="2.4" height="2.4" fill="#595959"/>
<rect x="360.8" y="98.5" width="6.4" height="2.4" fill="#5c5c5c"/>
<rect x="282.7" y="100.4" width="12.4" height="2.4" fill="#272727"/>
<rect x="294.7" y="100.4" width="6.4" height="2.4" fill="#282828"/>
<rect x="300.7" y="100.4" width="2.4" height="2.4" fill="#292929"/>
<rect x="302.7" y="100.4" width="4.4" height="2.4" fill="#2a2a2a"/>
<rect x="306.7" y="100.4" width="2.4" height="2.4" fill="#2b2b2b"/>
<rect x="308.7" y="100.4" width="2.4" height="2.4" fill="#2c2c2c"/>
<rect x="310.7" y="100.4" width="2.4" height="2.4" fill="#2d2d2d"/>
<rect x="312.7" y="100.4" width="2.4" height="2.4" fill="#2e2e2e"/>
<rect x="314.7" y="100.4" width="2.4" height="2.4" fill="#303030"/>
<rect x="316.7" y="100.4" width="2.4" height="2.4" fill="#313131"/>
<rect x="318.7" y="100.4" width="2.4" height="2.4" fill="#323232"/>
<rect x="320.7" y="100.4" width="2.4" height="2.4" fill="#343434"/>
<rect x="322.8" y="100.4" width="2.4" height="2.4" fill="#363636"/>
<rect x="324.8" y="100.4" width="2.4" height="2.4" fill="#373737"/>
<rect x="326.8" y="100.4" width="2.4" height="2.4" fill="#393939"/>
<rect x="328.8" y="100.4" width="2.4" height="2.4" fill="#3b3b3b"/>
<rect x="330.8" y="100.4" width="2.4" height="2.4" fill="#3d3d3d"/>
<rect x="332.8" y="100.4" width="2.4" height="2.4" fill="#3e3e3e"/>
<rect x="334.8" y="100.4" width="2.4" height="2.4" fill="#404040"/>
<rect x="336.8" y="100.4" width="2.4" height="2.4" fill="#424242"/>
<rect x="338.8" y="100.4" width="2.4" height="2.4" fill="#444444"/>
<rect x="340.8" y="100.4" width="2.4" height="2.4" fill="#464646"/>
<rect x="342.8" y="100.4" width="2.4" height="2.4" fill="#484848"/>
<rect x="344.8" y="100.4" width="2.4" height="2.4" fill="#494949"/>
<rect x="346.8" y="100.4" width="2.4" height="2.4" fill="#4b4b4b"/>
<rect x="348.8" y="100.4" width="2.4" height="2.4" fill="#4d4d4d"/>
<rect x="350.8" y="100.4" width="2.4" height="2.4" fill="#505050"/>
<rect x="352.8" y="100.4" width="2.4" height="2.4" fill="#535353"/>
<rect x="354.8" y="100.4" width="2.4" height="2.4" fill="#636363"/>
<rect x="356.8" y="100.4" width="2.4" height="2.4" fill="#5e5e5e"/>
<rect x="358.8" y="100.4" width="2.4" height="2.4" fill="#595959"/>
<rect x="360.8" y="100.4" width="6.4" height="2.4" fill="#5b5b5b"/>
<rect x="282.7" y="102.4" width="10.4" height="2.4" fill="#2c2c2c"/>
<rect x="292.7" y="102.4" width="6.4" height="2.4" fill="#2d2d2d"/>
<rect x="298.7" y="102.4" width="4.4" height="2.4" fill="#2e2e2e"/>
<rect x="302.7" y="102.4" width="4.4" height="2.4" fill="#2f2f2f"/>
<rect x="306.7" y="102.4" width="2.4" height="2.4" fill="#303030"/>
<rect x="308.7" y="102.4" width="2.4" height="2.4" fill="#313131"/>
<rect x="310.7" y="102.4" width="2.4" height="2.4" fill="#323232"/>
<rect x="312.7" y="102.4" width="2.4" height="2.4" fill="#333333"/>
<rect x="314.7" y="102.4" width="2.4" height="2.4" fill="#343434"/>
<rect x="316.7" y="102.4" width="2.4" height="2.4" fill="#353535"/>
<rect x="318.7" y="102.4" width="2.4" height="2.4" fill="#373737"/>
<rect x="320.7" y="102.4" width="2.4" height="2.4" fill="#383838"/>
<rect x="322.8" y="102.4" width="2.4" height="2.4" fill="#393939"/>
<rect x="324.8" y="102.4" width="2.4" height="2.4" fill="#3b3b3b"/>
<rect x="326.8" y="102.4" width="2.4" height="2.4" fill="#3d3d3d"/>
<rect x="328.8" y="102.4" width="2.4" height="2.4" fill="#3e3e3e"/>
<rect x="330.8" y="102.4" width="2.4" height="2.4" fill="#404040"/>
<rect x="332.8" y="102.4" width="2.4" height="2.4" fill="#414141"/>
<rect x="334.8" y="102.4" width="2.4" height="2.4" fill="#434343"/>
<rect x="336.8" y="102.4" width="2.4" height="2.4" fill="#454545"/>
<rect x="338.8" y="102.4" width="2.4" height="2.4" fill="#464646"/>
<rect x="340.8" y="102.4" width="2.4" height="2.4" fill="#484848"/>
<rect x="342.8" y="102.4" width="2.4" height="2.4" fill="#494949"/>
<rect x="344.8" y="102.4" width="2.4" height="2.4" fill="#4b4b4b"/>
<rect x="346.8" y="102.4" width="2.4" height="2.4" fill="#4c4c4c"/>
<rect x="348.8" y="102.4" width="2.4" height="2.4" fill="#4e4e4e"/>
<rect x="350.8" y="102.4" width="2.4" height="2.4" fill="#505050"/>
<rect x="352.8" y="102.4" width="2.4" height="2.4" fill="#535353"/>
<rect x="354.8" y="102.4" width="2.4" height="2.4" fill="#626262"/>
<rect x="356.8" y="102.4" width="2.4" height="2.4" fill="#5d5d5d"/>
<rect x="358.8" y="102.4" width="2.4" height="2.4" fill="#585858"/>
<rect x="360.8" y="102.4" width="6.4" height="2.4" fill="#5b5b5b"/>
<rect x="282.7" y="104.3" width="16.4" height="2.4" fill="#323232"/>
<rect x="298.7" y="104.3" width="4.4" height="2.4" fill="#333333"/>
<rect x="302.7" y="104.3" width="4.4" height="2.4" fill="#343434"/>
<rect x="306.7" y="104.3" width="2.4" height="2.4" fill="#353535"/>
<rect x="308.7" y="104.3" width="2.4" height="2.4" fill="#363636"/>
<rect x="310.7" y="104.3" width="2.4" height="2.4" fill="#373737"/>
<rect x="312.7" y="104.3" width="2.4" height="2.4" fill="#383838"/>
<rect x="314.7" y="104.3" width="2.4" height="2.4" fill="#393939"/>
<rect x="316.7" y="104.3" width="2.4" height="2.4" fill="#3a3a3a"/>
<rect x="318.7" y="104.3" width="2.4" height="2.4" fill="#3b3b3b"/>
<rect x="320.7" y="104.3" width="2.4" height="2.4" fill="#3c3c3c"/>
<rect x="322.8" y="104.3" width="2.4" height="2.4" fill="#3d3d3d"/>
<rect x="324.8" y="104.3" width="2.4" height="2.4" fill="#3f3f3f"/>
<rect x="326.8" y="104.3" width="2.4" height="2.4" fill="#404040"/>
<rect x="328.8" y="104.3" width="2.4" height="2.4" fill="#424242"/>
<rect x="330.8" y="104.3" width="2.4" height="2.4" fill="#434343"/>
<rect x="332.8" y="104.3" width="2.4" height="2.4" fill="#454545"/>
<rect x="334.8" y="104.3" width="2.4" height="2.4" fill="#464646"/>
<rect x="336.8" y="104.3" width="2.4" height="2.4" fill="#474747"/>
<rect x="338.8" y="104.3" width="2.4" height="2.4" fill="#494949"/>
<rect x="340.8" y="104.3" width="2.4" height="2.4" fill="#4a4a4a"/>
<rect x="342.8" y="104.3" width="2.4" height="2.4" fill="#4b4b4b"/>
<rect x="344.8" y="104.3" width="2.4" height="2.4" fill="#4c4c4c"/>
<rect x="346.8" y="104.3" width="2.4" height="2.4" fill="#4d4d4d"/>
<rect x="348.8" y="104.3" width="2.4" height="2.4" fill="#4f4f4f"/>
<rect x="350.8" y="104.3" width="2.4" height="2.4" fill="#505050"/>
<rect x="352.8" y="104.3" width="2.4" height="2.4" fill="#535353"/>
<rect x="354.8" y="104.3" width="2.4" height="2.4" fill="#606060"/>
<rect x="356.8" y="104.3" width="2.4" height="2.4" fill="#5c5c5c"/>
<rect x="358.8" y="104.3" width="2.4" height="2.4" fill="#585858"/>
<rect x="360.8" y="104.3" width="6.4" height="2.4" fill="#5a5a5a"/>
<rect x="282.7" y="106.3" width="12.4" height="2.4" fill="#373737"/>
<rect x="294.7" y="106.3" width="6.4" height="2.4" fill="#383838"/>
<rect x="300.7" y="106.3" width="4.4" height="2.4" fill="#393939"/>
<rect x="304.7" y="106.3" width="4.4" height="2.4" fill="#3a3a3a"/>
<rect x="308.7" y="106.3" width="2.4" height="2.4" fill="#3b3b3b"/>
<rect x="310.7" y="106.3" width="4.4" height="2.4" fill="#3c3c3c"/>
<rect x="314.7" y="106.3" width="2.4" height="2.4" fill="#3d3d3d"/>
<rect x="316.7" y="106.3" width="2.4" height="2.4" fill="#3e3e3e"/>
<rect x="318.7" y="106.3" width="2.4" height="2.4" fill="#3f3f3f"/>
<rect x="320.7" y="106.3" width="2.4" height="2.4" fill="#404040"/>
<rect x="322.8" y="106.3" width="2.4" height="2.4" fill="#424242"/>
<rect x="324.8" y="106.3" width="2.4" height="2.4" fill="#434343"/>
<rect x="326.8" y="106.3" width="2.4" height="2.4" fill="#444444"/>
<rect x="328.8" y="106.3" width="2.4" height="2.4" fill="#454545"/>
<rect x="330.8" y="106.3" width="2.4" height="2.4" fill="#464646"/>
<rect x="332.8" y="106.3" width="2.4" height="2.4" fill="#484848"/>
<rect x="334.8" y="106.3" width="2.4" height="2.4" fill="#494949"/>
<rect x="336.8" y="106.3" width="2.4" height="2.4" fill="#4a4a4a"/>
<rect x="338.8" y="106.3" width="2.4" height="2.4" fill="#4b4b4b"/>
<rect x="340.8" y="106.3" width="2.4" height="2.4" fill="#4c4c4c"/>
<rect x="342.8" y="106.3" width="4.4" height="2.4" fill="#4d4d4d"/>
<rect x="346.8" y="106.3" width="2.4" height="2.4" fill="#4e4e4e"/>
<rect x="348.8" y="106.3" width="2.4" height="2.4" fill="#4f4f4f"/>
<rect x="350.8" y="106.3" width="2.4" height="2.4" fill="#505050"/>
<rect x="352.8" y="106.3" width="2.4" height="2.4" fill="#535353"/>
<rect x="354.8" y="106.3" width="2.4" height="2.4" fill="#5f5f5f"/>
<rect x="356.8" y="106.3" width="2.4" height="2.4" fill="#5b5b5b"/>
<rect x="358.8" y="106.3" width="2.4" height="2.4" fill="#585858"/>
<rect x="360.8" y="106.3" width="6.4" height="2.4" fill="#595959"/>
<rect x="282.7" y="108.3" width="16.4" height="2.4" fill="#3d3d3d"/>
<rect x="298.7" y="108.3" width="6.4" height="2.4" fill="#3e3e3e"/>
<rect x="304.7" y="108.3" width="4.4" height="2.4" fill="#3f3f3f"/>
<rect x="308.7" y="108.3" width="2.4" height="2.4" fill="#404040"/>
<rect x="310.7" y="108.3" width="4.4" height="2.4" fill="#414141"/>
<rect x="314.7" y="108.3" width="2.4" height="2.4" fill="#424242"/>
<rect x="316.7" y="108.3" width="2.4" height="2.4" fill="#434343"/>
<rect x="318.7" y="108.3" width="2.4" height="2.4" fill="#444444"/>
<rect x="320.7" y="108.3" width="2.4" height="2.4" fill="#454545"/>
<rect x="322.8" y="108.3" width="2.4" height="2.4" fill="#464646"/>
<rect x="324.8" y="108.3" width="2.4" height="2.4" fill="#474747"/>
<rect x="326.8" y="108.3" width="2.4" height="2.4" fill="#484848"/>
<rect x="328.8" y="108.3" width="2.4" height="2.4" fill="#494949"/>
<rect x="330.8" y="108.3" width="2.4" height="2.4" fill="#4a4a4a"/>
<rect x="332.8" y="108.3" width="2.4" height="2.4" fill="#4b4b4b"/>
<rect x="334.8" y="108.3" width="4.4" height="2.4" fill="#4c4c4c"/>
<rect x="338.8" y="108.3" width="2.4" height="2.4" fill="#4d4d4d"/>
<rect x="340.8" y="108.3" width="8.4" height="2.4" fill="#4e4e4e"/>
<rect x="348.8" y="108.3" width="2.4" height="2.4" fill="#4f4f4f"/>
<rect x="350.8" y="108.3" width="2.4" height="2.4" fill="#505050"/>
<rect x="352.8" y="108.3" width="2.4" height="2.4" fill="#535353"/>
<rect x="354.8" y="108.3" width="2.4" height="2.4" fill="#5d5d5d"/>
<rect x="356.8" y="108.3" width="2.4" height="2.4" fill="#5a5a5a"/>
<rect x="358.8" y="108.3" width="2.4" height="2.4" fill="#575757"/>
<rect x="360.8" y="108.3" width="6.4" height="2.4" fill="#585858"/>
<rect x="282.7" y="110.2" width="16.4" height="2.4" fill="#434343"/>
<rect x="298.7" y="110.2" width="6.4" height="2.4" fill="#444444"/>
<rect x="304.7" y="110.2" width="4.4" height="2.4" fill="#454545"/>
<rect x="308.7" y="110.2" width="4.4" height="2.4" fill="#464646"/>
<rect x="312.7" y="110.2" width="4.4" height="2.4" fill="#474747"/>
<rect x="316.7" y="110.2" width="2.4" height="2.4" fill="#484848"/>
<rect x="318.7" y="110.2" width="2.4" height="2.4" fill="#494949"/>
<rect x="320.7" y="110.2" width="4.4" height="2.4" fill="#4a4a4a"/>
<rect x="324.8" y="110.2" width="2.4" height="2.4" fill="#4b4b4b"/>
<rect x="326.8" y="110.2" width="2.4" height="2.4" fill="#4c4c4c"/>
<rect x="328.8" y="110.2" width="4.4" height="2.4" fill="#4d4d4d"/>
<rect x="332.8" y="110.2" width="4.4" height="2.4" fill="#4e4e4e"/>
<rect x="336.8" y="110.2" width="14.4" height="2.4" fill="#4f4f4f"/>
<rect x="350.8" y="110.2" width="2.4" height="2.4" fill="#515151"/>
<rect x="352.8" y="110.2" width="2.4" height="2.4" fill="#535353"/>
<rect x="354.8" y="110.2" width="2.4" height="2.4" fill="#5c5c5c"/>
<rect x="356.8" y="110.2" width="2.4" height="2.4" fill="#595959"/>
<rect x="358.8" y="110.2" width="2.4" height="2.4" fill="#575757"/>
<rect x="360.8" y="110.2" width="6.4" height="2.4" fill="#585858"/>
<rect x="282.7" y="112.2" width="20.4" height="2.4" fill="#4a4a4a"/>
<rect x="302.7" y="112.2" width="6.4" height="2.4" fill="#4b4b4b"/>
<rect x="308.7" y="112.2" width="4.4" height="2.4" fill="#4c4c4c"/>
<rect x="312.7" y="112.2" width="4.4" height="2.4" fill="#4d4d4d"/>
<rect x="316.7" y="112.2" width="4.4" height="2.4" fill="#4e4e4e"/>
<rect x="320.7" y="112.2" width="4.4" height="2.4" fill="#4f4f4f"/>
<rect x="324.8" y="112.2" width="6.4" height="2.4" fill="#505050"/>
<rect x="330.8" y="112.2" width="10.4" height="2.4" fill="#515151"/>
<rect x="340.8" y="112.2" width="10.4" height="2.4" fill="#505050"/>
<rect x="350.8" y="112.2" width="2.4" height="2.4" fill="#515151"/>
<rect x="352.8" y="112.2" width="2.4" height="2.4" fill="#535353"/>
<rect x="354.8" y="112.2" width="2.4" height="2.4" fill="#5b5b5b"/>
<rect x="356.8" y="112.2" width="2.4" height="2.4" fill="#595959"/>
<rect x="358.8" y="112.2" width="2.4" height="2.4" fill="#565656"/>
<rect x="360.8" y="112.2" width="6.4" height="2.4" fill="#575757"/>
<rect x="282.7" y="114.2" width="4.4" height="2.4" fill="#505050"/>
<rect x="286.7" y="114.2" width="18.4" height="2.4" fill="#515151"/>
<rect x="304.7" y="114.2" width="8.4" height="2.4" fill="#525252"/>
<rect x="312.7" y="114.2" width="8.4" height="2.4" fill="#535353"/>
<rect x="320.7" y="114.2" width="14.4" height="2.4" fill="#545454"/>
<rect x="334.8" y="114.2" width="8.4" height="2.4" fill="#535353"/>
<rect x="342.8" y="114.2" width="8.4" height="2.4" fill="#525252"/>
<rect x="350.8" y="114.2" width="2.4" height="2.4" fill="#535353"/>
<rect x="352.8" y="114.2" width="2.4" height="2.4" fill="#545454"/>
<rect x="354.8" y="114.2" width="2.4" height="2.4" fill="#5a5a5a"/>
<rect x="356.8" y="114.2" width="2.4" height="2.4" fill="#585858"/>
<rect x="358.8" y="114.2" width="8.4" height="2.4" fill="#565656"/>
<rect x="282.7" y="116.1" width="30.4" height="2.4" fill="#585858"/>
<rect x="312.7" y="116.1" width="4.4" height="2.4" fill="#595959"/>
<rect x="316.7" y="116.1" width="12.4" height="2.4" fill="#585858"/>
<rect x="328.8" y="116.1" width="8.4" height="2.4" fill="#575757"/>
<rect x="336.8" y="116.1" width="4.4" height="2.4" fill="#565656"/>
<rect x="340.8" y="116.1" width="4.4" height="2.4" fill="#555555"/>
<rect x="344.8" y="116.1" width="8.4" height="2.4" fill="#545454"/>
<rect x="352.8" y="116.1" width="2.4" height="2.4" fill="#555555"/>
<rect x="354.8" y="116.1" width="2.4" height="2.4" fill="#5a5a5a"/>
<rect x="356.8" y="116.1" width="2.4" height="2.4" fill="#585858"/>
<rect x="358.8" y="116.1" width="8.4" height="2.4" fill="#555555"/>
<rect x="282.7" y="118.1" width="4.4" height="2.4" fill="#727272"/>
<rect x="286.7" y="118.1" width="8.4" height="2.4" fill="#717171"/>
<rect x="294.7" y="118.1" width="6.4" height="2.4" fill="#707070"/>
<rect x="300.7" y="118.1" width="4.4" height="2.4" fill="#6f6f6f"/>
<rect x="304.7" y="118.1" width="2.4" height="2.4" fill="#6e6e6e"/>
<rect x="306.7" y="118.1" width="4.4" height="2.4" fill="#6d6d6d"/>
<rect x="310.7" y="118.1" width="2.4" height="2.4" fill="#6c6c6c"/>
<rect x="312.7" y="118.1" width="4.4" height="2.4" fill="#6b6b6b"/>
<rect x="316.7" y="118.1" width="2.4" height="2.4" fill="#6a6a6a"/>
<rect x="318.7" y="118.1" width="2.4" height="2.4" fill="#696969"/>
<rect x="320.7" y="118.1" width="2.4" height="2.4" fill="#686868"/>
<rect x="322.8" y="118.1" width="2.4" height="2.4" fill="#676767"/>
<rect x="324.8" y="118.1" width="2.4" height="2.4" fill="#666666"/>
<rect x="326.8" y="118.1" width="2.4" height="2.4" fill="#656565"/>
<rect x="328.8" y="118.1" width="2.4" height="2.4" fill="#646464"/>
<rect x="330.8" y="118.1" width="2.4" height="2.4" fill="#626262"/>
<rect x="332.8" y="118.1" width="2.4" height="2.4" fill="#616161"/>
<rect x="334.8" y="118.1" width="2.4" height="2.4" fill="#606060"/>
<rect x="336.8" y="118.1" width="2.4" height="2.4" fill="#5f5f5f"/>
<rect x="338.8" y="118.1" width="2.4" height="2.4" fill="#5e5e5e"/>
<rect x="340.8" y="118.1" width="2.4" height="2.4" fill="#5c5c5c"/>
<rect x="342.8" y="118.1" width="2.4" height="2.4" fill="#5b5b5b"/>
<rect x="344.8" y="118.1" width="2.4" height="2.4" fill="#5a5a5a"/>
<rect x="346.8" y="118.1" width="2.4" height="2.4" fill="#585858"/>
<rect x="348.8" y="118.1" width="6.4" height="2.4" fill="#575757"/>
<rect x="354.8" y="118.1" width="2.4" height="2.4" fill="#5a5a5a"/>
<rect x="356.8" y="118.1" width="2.4" height="2.4" fill="#585858"/>
<rect x="358.8" y="118.1" width="2.4" height="2.4" fill="#555555"/>
<rect x="360.8" y="118.1" width="6.4" height="2.4" fill="#545454"/>
<rect x="282.7" y="120.0" width="2.4" height="2.4" fill="#b3b3b3"/>
<rect x="284.7" y="120.0" width="4.4" height="2.4" fill="#b2b2b2"/>
<rect x="288.7" y="120.0" width="4.4" height="2.4" fill="#b1b1b1"/>
<rect x="292.7" y="120.0" width="2.4" height="2.4" fill="#afafaf"/>
<rect x="294.7" y="120.0" width="2.4" height="2.4" fill="#aeaeae"/>
<rect x="296.7" y="120.0" width="2.4" height="2.4" fill="#adadad"/>
<rect x="298.7" y="120.0" width="2.4" height="2.4" fill="#ababab"/>
<rect x="300.7" y="120.0" width="2.4" height="2.4" fill="#a9a9a9"/>
<rect x="302.7" y="120.0" width="2.4" height="2.4" fill="#a7a7a7"/>
<rect x="304.7" y="120.0" width="2.4" height="2.4" fill="#a5a5a5"/>
<rect x="306.7" y="120.0" width="2.4" height="2.4" fill="#a3a3a3"/>
<rect x="308.7" y="120.0" width="2.4" height="2.4" fill="#a0a0a0"/>
<rect x="310.7" y="120.0" width="2.4" height="2.4" fill="#9e9e9e"/>
<rect x="312.7" y="120.0" width="2.4" height="2.4" fill="#9b9b9b"/>
<rect x="314.7" y="120.0" width="2.4" height="2.4" fill="#989898"/>
<rect x="316.7" y="120.0" width="2.4" height="2.4" fill="#959595"/>
<rect x="318.7" y="120.0" width="2.4" height="2.4" fill="#929292"/>
<rect x="320.7" y="120.0" width="2.4" height="2.4" fill="#8f8f8f"/>
<rect x="322.8" y="120.0" width="2.4" height="2.4" fill="#8b8b8b"/>
<rect x="324.8" y="120.0" width="2.4" height="2.4" fill="#888888"/>
<rect x="326.8" y="120.0" width="2.4" height="2.4" fill="#848484"/>
<rect x="328.8" y="120.0" width="2.4" height="2.4" fill="#818181"/>
<rect x="330.8" y="120.0" width="2.4" height="2.4" fill="#7d7d7d"/>
<rect x="332.8" y="120.0" width="2.4" height="2.4" fill="#797979"/>
<rect x="334.8" y="120.0" width="2.4" height="2.4" fill="#767676"/>
<rect x="336.8" y="120.0" width="2.4" height="2.4" fill="#727272"/>
<rect x="338.8" y="120.0" width="2.4" height="2.4" fill="#6f6f6f"/>
<rect x="340.8" y="120.0" width="2.4" height="2.4" fill="#6b6b6b"/>
<rect x="342.8" y="120.0" width="2.4" height="2.4" fill="#686868"/>
<rect x="344.8" y="120.0" width="2.4" height="2.4" fill="#646464"/>
<rect x="346.8" y="120.0" width="2.4" height="2.4" fill="#616161"/>
<rect x="348.8" y="120.0" width="2.4" height="2.4" fill="#5e5e5e"/>
<rect x="350.8" y="120.0" width="2.4" height="2.4" fill="#5c5c5c"/>
<rect x="352.8" y="120.0" width="4.4" height="2.4" fill="#5a5a5a"/>
<rect x="356.8" y="120.0" width="2.4" height="2.4" fill="#585858"/>
<rect x="358.8" y="120.0" width="2.4" height="2.4" fill="#555555"/>
<rect x="360.8" y="120.0" width="6.4" height="2.4" fill="#535353"/>
<rect x="282.7" y="122.0" width="4.4" height="2.4" fill="#7c7c7c"/>
<rect x="286.7" y="122.0" width="8.4" height="2.4" fill="#7b7b7b"/>
<rect x="294.7" y="122.0" width="4.4" height="2.4" fill="#7a7a7a"/>
<rect x="298.7" y="122.0" width="4.4" height="2.4" fill="#797979"/>
<rect x="302.7" y="122.0" width="2.4" height="2.4" fill="#787878"/>
<rect x="304.7" y="122.0" width="2.4" height="2.4" fill="#777777"/>
<rect x="306.7" y="122.0" width="2.4" height="2.4" fill="#767676"/>
<rect x="308.7" y="122.0" width="4.4" height="2.4" fill="#757575"/>
<rect x="312.7" y="122.0" width="2.4" height="2.4" fill="#747474"/>
<rect x="314.7" y="122.0" width="2.4" height="2.4" fill="#727272"/>
<rect x="316.7" y="122.0" width="2.4" height="2.4" fill="#717171"/>
<rect x="318.7" y="122.0" width="2.4" height="2.4" fill="#707070"/>
<rect x="320.7" y="122.0" width="2.4" height="2.4" fill="#6f6f6f"/>
<rect x="322.8" y="122.0" width="2.4" height="2.4" fill="#6e6e6e"/>
<rect x="324.8" y="122.0" width="2.4" height="2.4" fill="#6c6c6c"/>
<rect x="326.8" y="122.0" width="2.4" height="2.4" fill="#6b6b6b"/>
<rect x="328.8" y="122.0" width="2.4" height="2.4" fill="#6a6a6a"/>
<rect x="330.8" y="122.0" width="2.4" height="2.4" fill="#686868"/>
<rect x="332.8" y="122.0" width="2.4" height="2.4" fill="#676767"/>
<rect x="334.8" y="122.0" width="2.4" height="2.4" fill="#656565"/>
<rect x="336.8" y="122.0" width="2.4" height="2.4" fill="#636363"/>
<rect x="338.8" y="122.0" width="2.4" height="2.4" fill="#626262"/>
<rect x="340.8" y="122.0" width="2.4" height="2.4" fill="#606060"/>
<rect x="342.8" y="122.0" width="2.4" height="2.4" fill="#5e5e5e"/>
<rect x="344.8" y="122.0" width="2.4" height="2.4" fill="#5d5d5d"/>
<rect x="346.8" y="122.0" width="2.4" height="2.4" fill="#5b5b5b"/>
<rect x="348.8" y="122.0" width="2.4" height="2.4" fill="#5a5a5a"/>
<rect x="350.8" y="122.0" width="2.4" height="2.4" fill="#585858"/>
<rect x="352.8" y="122.0" width="4.4" height="2.4" fill="#575757"/>
<rect x="356.8" y="122.0" width="2.4" height="2.4" fill="#565656"/>
<rect x="358.8" y="122.0" width="2.4" height="2.4" fill="#535353"/>
<rect x="360.8" y="122.0" width="6.4" height="2.4" fill="#515151"/>
<rect x="282.7" y="124.0" width="8.4" height="2.4" fill="#818181"/>
<rect x="290.7" y="124.0" width="6.4" height="2.4" fill="#808080"/>
<rect x="296.7" y="124.0" width="4.4" height="2.4" fill="#7f7f7f"/>
<rect x="300.7" y="124.0" width="2.4" height="2.4" fill="#7e7e7e"/>
<rect x="302.7" y="124.0" width="4.4" height="2.4" fill="#7d7d7d"/>
<rect x="306.7" y="124.0" width="2.4" height="2.4" fill="#7c7c7c"/>
<rect x="308.7" y="124.0" width="2.4" height="2.4" fill="#7b7b7b"/>
<rect x="310.7" y="124.0" width="2.4" height="2.4" fill="#7a7a7a"/>
<rect x="312.7" y="124.0" width="2.4" height="2.4" fill="#797979"/>
<rect x="314.7" y="124.0" width="2.4" height="2.4" fill="#787878"/>
<rect x="316.7" y="124.0" width="2.4" height="2.4" fill="#777777"/>
<rect x="318.7" y="124.0" width="2.4" height="2.4" fill="#767676"/>
<rect x="320.7" y="124.0" width="2.4" height="2.4" fill="#747474"/>
<rect x="322.8" y="124.0" width="2.4" height="2.4" fill="#737373"/>
<rect x="324.8" y="124.0" width="2.4" height="2.4" fill="#727272"/>
<rect x="326.8" y="124.0" width="2.4" height="2.4" fill="#707070"/>
<rect x="328.8" y="124.0" width="2.4" height="2.4" fill="#6f6f6f"/>
<rect x="330.8" y="124.0" width="2.4" height="2.4" fill="#6d6d6d"/>
<rect x="332.8" y="124.0" width="2.4" height="2.4" fill="#6b6b6b"/>
<rect x="334.8" y="124.0" width="2.4" height="2.4" fill="#696969"/>
<rect x="336.8" y="124.0" width="2.4" height="2.4" fill="#686868"/>
<rect x="338.8" y="124.0" width="2.4" height="2.4" fill="#666666"/>
<rect x="340.8" y="124.0" width="2.4" height="2.4" fill="#646464"/>
<rect x="342.8" y="124.0" width="2.4" height="2.4" fill="#626262"/>
<rect x="344.8" y="124.0" width="2.4" height="2.4" fill="#606060"/>
<rect x="346.8" y="124.0" width="2.4" height="2.4" fill="#5e5e5e"/>
<rect x="348.8" y="124.0" width="2.4" height="2.4" fill="#5c5c5c"/>
<rect x="350.8" y="124.0" width="2.4" height="2.4" fill="#5a5a5a"/>
<rect x="352.8" y="124.0" width="2.4" height="2.4" fill="#585858"/>
<rect x="354.8" y="124.0" width="2.4" height="2.4" fill="#575757"/>
<rect x="356.8" y="124.0" width="2.4" height="2.4" fill="#555555"/>
<rect x="358.8" y="124.0" width="2.4" height="2.4" fill="#525252"/>
<rect x="360.8" y="124.0" width="6.4" height="2.4" fill="#505050"/>
<rect x="282.7" y="125.9" width="4.4" height="2.4" fill="#fdfdfd"/>
<rect x="286.7" y="125.9" width="2.4" height="2.4" fill="#fcfcfc"/>
<rect x="288.7" y="125.9" width="2.4" height="2.4" fill="#fbfbfb"/>
<rect x="290.7" y="125.9" width="2.4" height="2.4" fill="#fafafa"/>
<rect x="292.7" y="125.9" width="2.4" height="2.4" fill="#f9f9f9"/>
<rect x="294.7" y="125.9" width="2.4" height="2.4" fill="#f7f7f7"/>
<rect x="296.7" y="125.9" width="2.4" height="2.4" fill="#f5f5f5"/>
<rect x="298.7" y="125.9" width="2.4" height="2.4" fill="#f2f2f2"/>
<rect x="300.7" y="125.9" width="2.4" height="2.4" fill="#f0f0f0"/>
<rect x="302.7" y="125.9" width="2.4" height="2.4" fill="#ededed"/>
<rect x="304.7" y="125.9" width="2.4" height="2.4" fill="#e9e9e9"/>
<rect x="306.7" y="125.9" width="2.4" height="2.4" fill="#e6e6e6"/>
<rect x="308.7" y="125.9" width="2.4" height="2.4" fill="#e2e2e2"/>
<rect x="310.7" y="125.9" width="2.4" height="2.4" fill="#dedede"/>
<rect x="312.7" y="125.9" width="2.4" height="2.4" fill="#dadada"/>
<rect x="314.7" y="125.9" width="2.4" height="2.4" fill="#d5d5d5"/>
<rect x="316.7" y="125.9" width="2.4" height="2.4" fill="#d0d0d0"/>
<rect x="318.7" y="125.9" width="2.4" height="2.4" fill="#cbcbcb"/>
<rect x="320.7" y="125.9" width="2.4" height="2.4" fill="#c6c6c6"/>
<rect x="322.8" y="125.9" width="2.4" height="2.4" fill="#c1c1c1"/>
<rect x="324.8" y="125.9" width="2.4" height="2.4" fill="#bbbbbb"/>
<rect x="326.8" y="125.9" width="2.4" height="2.4" fill="#b5b5b5"/>
<rect x="328.8" y="125.9" width="2.4" height="2.4" fill="#afafaf"/>
<rect x="330.8" y="125.9" width="2.4" height="2.4" fill="#a9a9a9"/>
<rect x="332.8" y="125.9" width="2.4" height="2.4" fill="#a3a3a3"/>
<rect x="334.8" y="125.9" width="2.4" height="2.4" fill="#9c9c9c"/>
<rect x="336.8" y="125.9" width="2.4" height="2.4" fill="#969696"/>
<rect x="338.8" y="125.9" width="2.4" height="2.4" fill="#8f8f8f"/>
<rect x="340.8" y="125.9" width="2.4" height="2.4" fill="#898989"/>
<rect x="342.8" y="125.9" width="2.4" height="2.4" fill="#828282"/>
<rect x="344.8" y="125.9" width="2.4" height="2.4" fill="#7c7c7c"/>
<rect x="346.8" y="125.9" width="2.4" height="2.4" fill="#757575"/>
<rect x="348.8" y="125.9" width="2.4" height="2.4" fill="#6f6f6f"/>
<rect x="350.8" y="125.9" width="2.4" height="2.4" fill="#696969"/>
<rect x="352.8" y="125.9" width="2.4" height="2.4" fill="#636363"/>
<rect x="354.8" y="125.9" width="2.4" height="2.4" fill="#5d5d5d"/>
<rect x="356.8" y="125.9" width="2.4" height="2.4" fill="#585858"/>
<rect x="358.8" y="125.9" width="2.4" height="2.4" fill="#535353"/>
<rect x="360.8" y="125.9" width="6.4" height="2.4" fill="#4f4f4f"/>
<rect x="282.7" y="127.9" width="4.4" height="2.4" fill="#fdfdfd"/>
<rect x="286.7" y="127.9" width="2.4" height="2.4" fill="#fcfcfc"/>
<rect x="288.7" y="127.9" width="2.4" height="2.4" fill="#fbfbfb"/>
<rect x="290.7" y="127.9" width="2.4" height="2.4" fill="#fafafa"/>
<rect x="292.7" y="127.9" width="2.4" height="2.4" fill="#f9f9f9"/>
<rect x="294.7" y="127.9" width="2.4" height="2.4" fill="#f7f7f7"/>
<rect x="296.7" y="127.9" width="2.4" height="2.4" fill="#f5f5f5"/>
<rect x="298.7" y="127.9" width="2.4" height="2.4" fill="#f2f2f2"/>
<rect x="300.7" y="127.9" width="2.4" height="2.4" fill="#f0f0f0"/>
<rect x="302.7" y="127.9" width="2.4" height="2.4" fill="#ededed"/>
<rect x="304.7" y="127.9" width="2.4" height="2.4" fill="#e9e9e9"/>
<rect x="306.7" y="127.9" width="2.4" height="2.4" fill="#e6e6e6"/>
<rect x="308.7" y="127.9" width="2.4" height="2.4" fill="#e2e2e2"/>
<rect x="310.7" y="127.9" width="2.4" height="2.4" fill="#dedede"/>
<rect x="312.7" y="127.9" width="2.4" height="2.4" fill="#dadada"/>
<rect x="314.7" y="127.9" width="2.4" height="2.4" fill="#d5d5d5"/>
<rect x="316.7" y="127.9" width="2.4" height="2.4" fill="#d0d0d0"/>
<rect x="318.7" y="127.9" width="2.4" height="2.4" fill="#cbcbcb"/>
<rect x="320.7" y="127.9" width="2.4" height="2.4" fill="#c6c6c6"/>
<rect x="322.8" y="127.9" width="2.4" height="2.4" fill="#c1c1c1"/>
<rect x="324.8" y="127.9" width="2.4" height="2.4" fill="#bbbbbb"/>
<rect x="326.8" y="127.9" width="2.4" height="2.4" fill="#b5b5b5"/>
<rect x="328.8" y="127.9" width="2.4" height="2.4" fill="#afafaf"/>
<rect x="330.8" y="127.9" width="2.4" height="2.4" fill="#a9a9a9"/>
<rect x="332.8" y="127.9" width="2.4" height="2.4" fill="#a3a3a3"/>
<rect x="334.8" y="127.9" width="2.4" height="2.4" fill="#9c9c9c"/>
<rect x="336.8" y="127.9" width="2.4" height="2.4" fill="#969696"/>
<rect x="338.8" y="127.9" width="2.4" height="2.4" fill="#8f8f8f"/>
<rect x="340.8" y="127.9" width="2.4" height="2.4" fill="#898989"/>
<rect x="342.8" y="127.9" width="2.4" height="2.4" fill="#828282"/>
<rect x="344.8" y="127.9" width="2.4" height="2.4" fill="#7c7c7c"/>
<rect x="346.8" y="127.9" width="2.4" height="2.4" fill="#757575"/>
<rect x="348.8" y="127.9" width="2.4" height="2.4" fill="#6f6f6f"/>
<rect x="350.8" y="127.9" width="2.4" height="2.4" fill="#696969"/>
<rect x="352.8" y="127.9" width="2.4" height="2.4" fill="#636363"/>
<rect x="354.8" y="127.9" width="2.4" height="2.4" fill="#5d5d5d"/>
<rect x="356.8" y="127.9" width="2.4" height="2.4" fill="#585858"/>
<rect x="358.8" y="127.9" width="2.4" height="2.4" fill="#535353"/>
<rect x="360.8" y="127.9" width="6.4" height="2.4" fill="#4f4f4f"/>
<rect x="282.7" y="129.9" width="4.4" height="2.4" fill="#fdfdfd"/>
<rect x="286.7" y="129.9" width="2.4" height="2.4" fill="#fcfcfc"/>
<rect x="288.7" y="129.9" width="2.4" height="2.4" fill="#fbfbfb"/>
<rect x="290.7" y="129.9" width="2.4" height="2.4" fill="#fafafa"/>
<rect x="292.7" y="129.9" width="2.4" height="2.4" fill="#f9f9f9"/>
<rect x="294.7" y="129.9" width="2.4" height="2.4" fill="#f7f7f7"/>
<rect x="296.7" y="129.9" width="2.4" height="2.4" fill="#f5f5f5"/>
<rect x="298.7" y="129.9" width="2.4" height="2.4" fill="#f2f2f2"/>
<rect x="300.7" y="129.9" width="2.4" height="2.4" fill="#f0f0f0"/>
<rect x="302.7" y="129.9" width="2.4" height="2.4" fill="#ededed"/>
<rect x="304.7" y="129.9" width="2.4" height="2.4" fill="#e9e9e9"/>
<rect x="306.7" y="129.9" width="2.4" height="2.4" fill="#e6e6e6"/>
<rect x="308.7" y="129.9" width="2.4" height="2.4" fill="#e2e2e2"/>
<rect x="310.7" y="129.9" width="2.4" height="2.4" fill="#dedede"/>
<rect x="312.7" y="129.9" width="2.4" height="2.4" fill="#dadada"/>
<rect x="314.7" y="129.9" width="2.4" height="2.4" fill="#d5d5d5"/>
<rect x="316.7" y="129.9" width="2.4" height="2.4" fill="#d0d0d0"/>
<rect x="318.7" y="129.9" width="2.4" height="2.4" fill="#cbcbcb"/>
<rect x="320.7" y="129.9" width="2.4" height="2.4" fill="#c6c6c6"/>
<rect x="322.8" y="129.9" width="2.4" height="2.4" fill="#c1c1c1"/>
<rect x="324.8" y="129.9" width="2.4" height="2.4" fill="#bbbbbb"/>
<rect x="326.8" y="129.9" width="2.4" height="2.4" fill="#b5b5b5"/>
<rect x="328.8" y="129.9" width="2.4" height="2.4" fill="#afafaf"/>
<rect x="330.8" y="129.9" width="2.4" height="2.4" fill="#a9a9a9"/>
<rect x="332.8" y="129.9" width="2.4" height="2.4" fill="#a3a3a3"/>
<rect x="334.8" y="129.9" width="2.4" height="2.4" fill="#9c9c9c"/>
<rect x="336.8" y="129.9" width="2.4" height="2.4" fill="#969696"/>
<rect x="338.8" y="129.9" width="2.4" height="2.4" fill="#8f8f8f"/>
<rect x="340.8" y="129.9" width="2.4" height="2.4" fill="#898989"/>
<rect x="342.8" y="129.9" width="2.4" height="2.4" fill="#828282"/>
<rect x="344.8" y="129.9" width="2.4" height="2.4" fill="#7c7c7c"/>
<rect x="346.8" y="129.9" width="2.4" height="2.4" fill="#757575"/>
<rect x="348.8" y="129.9" width="2.4" height="2.4" fill="#6f6f6f"/>
<rect x="350.8" y="129.9" width="2.4" height="2.4" fill="#696969"/>
<rect x="352.8" y="129.9" width="2.4" height="2.4" fill="#636363"/>
<rect x="354.8" y="129.9" width="2.4" height="2.4" fill="#5d5d5d"/>
<rect x="356.8" y="129.9" width="2.4" height="2.4" fill="#585858"/>
<rect x="358.8" y="129.9" width="2.4" height="2.4" fill="#535353"/>
<rect x="360.8" y="129.9" width="6.4" height="2.4" fill="#4f4f4f"/>
</g>
<use href="#qb" transform="translate(565.40 0) scale(-1 1)"/>
<use href="#qb" transform="translate(0 149.80) scale(1 -1)"/>
<use href="#qb" transform="translate(565.40 149.80) scale(-1 -1)"/>
</g></g>
<rect x="202.50" y="22.00" width="160.50" height="105.90" fill="none" stroke="#111" stroke-width="1.1"/>
<rect x="202.4" y="133.8" width="160.9" height="95.89999999999998" fill="#fff"/>
<line x1="202.40" y1="176.50" x2="363.30" y2="176.50" stroke="#3f7fdc" stroke-width="1.2"/>
<path d="M202.50 157.54 L203.64 158.61 L204.77 159.14 L206.48 157.01 L208.18 150.62 L209.60 143.15 L210.31 154.88 L210.88 160.74 L212.72 162.34 L215.28 166.07 L218.12 171.40 L221.24 176.20 L223.77 179.87 L226.30 183.38 L228.83 186.74 L231.35 189.95 L233.88 193.00 L236.41 195.90 L238.93 198.65 L241.46 201.25 L243.99 203.69 L246.51 205.98 L249.04 208.12 L251.57 210.11 L254.10 211.94 L256.62 213.62 L259.15 215.15 L261.68 216.52 L264.20 217.74 L266.73 218.81 L269.26 219.73 L271.78 220.49 L274.31 221.10 L276.84 221.56 L279.37 221.87 L281.89 222.02 L284.42 222.02 L286.95 221.87 L289.47 221.56 L292.00 221.10 L294.53 220.49 L297.05 219.73 L299.58 218.81 L302.11 217.74 L304.64 216.52 L307.16 215.15 L309.69 213.62 L312.22 211.94 L314.74 210.11 L317.27 208.12 L319.80 205.98 L322.32 203.69 L324.85 201.25 L327.38 198.65 L329.91 195.90 L332.43 193.00 L334.96 189.95 L337.49 186.74 L340.01 183.38 L342.54 179.87 L345.07 176.20 L348.19 171.40 L351.03 166.07 L353.59 162.34 L355.43 160.74 L356.00 154.88 L356.71 143.15 L358.13 150.62 L359.84 157.01 L361.54 159.14 L362.68 158.61 L363.81 157.54" fill="none" stroke="#d8505a" stroke-width="0.95" stroke-linejoin="round"/>
<path d="M221.30 160.60 v3.6 M221.30 167.60 V176.40" stroke="#1a1a1a" stroke-width="1.5" fill="none"/>
<path d="M345.40 160.60 v3.6 M345.40 167.60 V176.40" stroke="#1a1a1a" stroke-width="1.5" fill="none"/>
<line x1="223.50" y1="172.50" x2="343.20" y2="172.50" stroke="#111" stroke-width="1.4"/>
<path d="M222.00 172.50 l3.7 -1.75 v3.5z M344.70 172.50 l-3.7 -1.75 v3.5z" fill="#111"/>
<text x="283.00" y="167.40" font-size="8.7" text-anchor="middle" stroke-width="0.3">436.64 μm</text>
<rect x="202.40" y="133.80" width="160.90" height="95.90" fill="none" stroke="#3a3a3a" stroke-width="1.0"/>
<line x1="202.40" y1="133.56" x2="204.00" y2="133.56" stroke="#222" stroke-width="0.7"/>
<line x1="202.40" y1="154.88" x2="204.00" y2="154.88" stroke="#222" stroke-width="0.7"/>
<line x1="202.40" y1="176.20" x2="204.00" y2="176.20" stroke="#222" stroke-width="0.7"/>
<line x1="202.40" y1="197.52" x2="204.00" y2="197.52" stroke="#222" stroke-width="0.7"/>
<line x1="202.40" y1="218.84" x2="204.00" y2="218.84" stroke="#222" stroke-width="0.7"/>
<text x="198.60" y="136.76" font-size="8.7" text-anchor="end" stroke-width="0.3">80</text>
<text x="198.60" y="158.08" font-size="8.7" text-anchor="end" stroke-width="0.3">40</text>
<text x="198.60" y="179.40" font-size="8.7" text-anchor="end" stroke-width="0.3">0</text>
<text x="198.60" y="200.72" font-size="8.7" text-anchor="end" stroke-width="0.3">−40</text>
<text x="198.60" y="222.04" font-size="8.7" text-anchor="end" stroke-width="0.3">−80</text>
<line x1="202.50" y1="229.70" x2="202.50" y2="228.10" stroke="#222" stroke-width="0.7"/>
<line x1="230.90" y1="229.70" x2="230.90" y2="228.10" stroke="#222" stroke-width="0.7"/>
<line x1="259.30" y1="229.70" x2="259.30" y2="228.10" stroke="#222" stroke-width="0.7"/>
<line x1="287.70" y1="229.70" x2="287.70" y2="228.10" stroke="#222" stroke-width="0.7"/>
<line x1="316.10" y1="229.70" x2="316.10" y2="228.10" stroke="#222" stroke-width="0.7"/>
<line x1="344.50" y1="229.70" x2="344.50" y2="228.10" stroke="#222" stroke-width="0.7"/>
<text x="202.50" y="238.20" font-size="8.7" text-anchor="middle" stroke-width="0.3">0</text>
<text x="230.90" y="238.20" font-size="8.7" text-anchor="middle" stroke-width="0.3">100</text>
<text x="259.30" y="238.20" font-size="8.7" text-anchor="middle" stroke-width="0.3">200</text>
<text x="287.70" y="238.20" font-size="8.7" text-anchor="middle" stroke-width="0.3">300</text>
<text x="316.10" y="238.20" font-size="8.7" text-anchor="middle" stroke-width="0.3">400</text>
<text x="344.50" y="238.20" font-size="8.7" text-anchor="middle" stroke-width="0.3">500</text>
<text x="181.30" y="179.20" font-size="9.1" text-anchor="middle" stroke-width="0.3" transform="rotate(-90 181.30 179.20)">Stress Tensor (N/m²)</text>
<text x="287.60" y="247.00" font-size="9.1" text-anchor="middle" stroke-width="0.3">Length (μm)</text>
<text x="297.70" y="267.70" font-size="15" text-anchor="middle" stroke-width="0.3">(b)</text>
<rect x="368" y="21.5" width="78.69999999999999" height="106.3" fill="#fff"/>
<line x1="417.60" y1="21.50" x2="417.60" y2="127.80" stroke="#4f8cdc" stroke-width="1.2"/>
<path d="M387.60 21.60 L389.37 21.85 L391.93 22.21 L394.67 22.61 L397.00 23.00 L398.80 23.36 L400.38 23.73 L401.76 24.11 L403.00 24.50 L404.11 24.95 L405.07 25.44 L405.85 25.89 L406.40 26.20 L403.00 27.60 L399.80 28.60 L403.70 29.20 L403.70 29.20 L404.11 29.70 L404.68 30.39 L405.36 31.21 L406.15 32.10 L407.00 33.00 L407.96 33.94 L409.06 34.95 L410.22 36.00 L411.38 37.03 L412.50 38.00 L413.54 38.82 L414.55 39.52 L415.56 40.23 L416.59 41.08 L417.70 42.20 L418.92 43.65 L420.22 45.33 L421.55 47.17 L422.83 49.09 L424.00 51.00 L425.08 52.91 L426.11 54.87 L427.06 56.87 L427.90 58.92 L428.60 61.00 L429.15 63.14 L429.58 65.33 L429.88 67.55 L430.09 69.78 L430.20 72.00 L430.22 74.22 L430.14 76.45 L429.95 78.67 L429.67 80.86 L429.30 83.00 L428.81 85.08 L428.21 87.12 L427.52 89.12 L426.78 91.08 L426.00 93.00 L425.17 94.91 L424.25 96.81 L423.31 98.65 L422.37 100.40 L421.50 102.00 L420.74 103.39 L420.07 104.60 L419.40 105.74 L418.63 106.90 L417.70 108.20 L416.51 109.70 L415.12 111.34 L413.66 113.00 L412.25 114.59 L411.00 116.00 L409.92 117.22 L408.92 118.32 L408.01 119.31 L407.20 120.20 L406.50 121.00 L405.94 121.67 L405.53 122.20 L405.19 122.66 L404.87 123.07 L404.50 123.50 L404.14 123.94 L403.83 124.37 L403.48 124.77 L403.01 125.15 L402.30 125.50 L401.31 125.81 L400.11 126.09 L398.77 126.35 L397.37 126.58 L396.00 126.80 L394.53 127.00 L392.91 127.19 L391.33 127.36 L389.96 127.50 L389.00 127.60" fill="none" stroke="#d8505a" stroke-width="0.95" stroke-linejoin="round"/>
<path d="M400.40 42.40 h3.8 M407.80 42.40 H417.20" stroke="#1a1a1a" stroke-width="1.5" fill="none"/>
<path d="M400.40 108.20 h3.8 M407.80 108.20 H417.20" stroke="#1a1a1a" stroke-width="1.5" fill="none"/>
<line x1="412.40" y1="44.50" x2="412.40" y2="106.10" stroke="#111" stroke-width="1.4"/>
<path d="M412.40 43.00 l-1.75 3.7 h3.5z M412.40 107.60 l-1.75 -3.7 h3.5z" fill="#111"/>
<text x="407.90" y="75.70" font-size="8.7" text-anchor="middle" stroke-width="0.3" transform="rotate(-90 407.90 75.70)">231.71 μm</text>
<rect x="368.00" y="21.50" width="78.70" height="106.30" fill="none" stroke="#3a3a3a" stroke-width="1.0"/>
<line x1="446.70" y1="127.80" x2="445.10" y2="127.80" stroke="#222" stroke-width="0.7"/>
<line x1="446.70" y1="113.60" x2="445.10" y2="113.60" stroke="#222" stroke-width="0.7"/>
<line x1="446.70" y1="99.40" x2="445.10" y2="99.40" stroke="#222" stroke-width="0.7"/>
<line x1="446.70" y1="85.20" x2="445.10" y2="85.20" stroke="#222" stroke-width="0.7"/>
<line x1="446.70" y1="71.00" x2="445.10" y2="71.00" stroke="#222" stroke-width="0.7"/>
<line x1="446.70" y1="56.80" x2="445.10" y2="56.80" stroke="#222" stroke-width="0.7"/>
<line x1="446.70" y1="42.60" x2="445.10" y2="42.60" stroke="#222" stroke-width="0.7"/>
<line x1="446.70" y1="28.40" x2="445.10" y2="28.40" stroke="#222" stroke-width="0.7"/>
<text x="450.00" y="131.00" font-size="8.7" text-anchor="start" stroke-width="0.3">0</text>
<text x="450.00" y="116.80" font-size="8.7" text-anchor="start" stroke-width="0.3">50</text>
<text x="450.00" y="102.60" font-size="8.7" text-anchor="start" stroke-width="0.3">100</text>
<text x="450.00" y="88.40" font-size="8.7" text-anchor="start" stroke-width="0.3">150</text>
<text x="450.00" y="74.20" font-size="8.7" text-anchor="start" stroke-width="0.3">200</text>
<text x="450.00" y="60.00" font-size="8.7" text-anchor="start" stroke-width="0.3">250</text>
<text x="450.00" y="45.80" font-size="8.7" text-anchor="start" stroke-width="0.3">300</text>
<text x="450.00" y="31.60" font-size="8.7" text-anchor="start" stroke-width="0.3">350</text>
<line x1="374.20" y1="127.80" x2="374.20" y2="126.20" stroke="#222" stroke-width="0.7"/>
<line x1="388.70" y1="127.80" x2="388.70" y2="126.20" stroke="#222" stroke-width="0.7"/>
<line x1="403.20" y1="127.80" x2="403.20" y2="126.20" stroke="#222" stroke-width="0.7"/>
<line x1="417.70" y1="127.80" x2="417.70" y2="126.20" stroke="#222" stroke-width="0.7"/>
<line x1="432.20" y1="127.80" x2="432.20" y2="126.20" stroke="#222" stroke-width="0.7"/>
<line x1="446.70" y1="127.80" x2="446.70" y2="126.20" stroke="#222" stroke-width="0.7"/>
<text x="373.30" y="137.70" font-size="8.7" text-anchor="middle" stroke-width="0.3">300</text>
<text x="389.00" y="137.70" font-size="8.7" text-anchor="middle" stroke-width="0.3">200</text>
<text x="402.30" y="137.70" font-size="8.7" text-anchor="middle" stroke-width="0.3">100</text>
<text x="417.70" y="137.70" font-size="8.7" text-anchor="middle" stroke-width="0.3">0</text>
<text x="430.00" y="137.70" font-size="8.7" text-anchor="middle" stroke-width="0.3">−100</text>
<text x="446.70" y="137.70" font-size="8.7" text-anchor="middle" stroke-width="0.3">−200</text>
<text x="408.00" y="149.80" font-size="9.1" text-anchor="middle" stroke-width="0.3">Stress Tensor (N/m²)</text>
<text x="470.00" y="75.50" font-size="9.1" text-anchor="middle" stroke-width="0.3" transform="rotate(90 470.00 75.50)">Length (μm)</text>
<text x="91.30" y="284.60" font-size="9.15" text-anchor="middle" stroke-width="0.3">Apply 1Pa pressure</text>
<rect x="27.90" y="289.00" width="7.70" height="114.00" fill="url(#cb2)"/>
<text x="24.60" y="294.20" font-size="8.7" text-anchor="end" stroke-width="0.3">150</text>
<text x="24.60" y="315.80" font-size="8.7" text-anchor="end" stroke-width="0.3">100</text>
<text x="24.60" y="337.10" font-size="8.7" text-anchor="end" stroke-width="0.3">50</text>
<text x="24.60" y="358.40" font-size="8.7" text-anchor="end" stroke-width="0.3">0</text>
<text x="24.60" y="379.70" font-size="8.7" text-anchor="end" stroke-width="0.3">−50</text>
<text x="24.60" y="401.00" font-size="8.7" text-anchor="end" stroke-width="0.3">−100</text>
<circle cx="96.2" cy="346.3" r="57.0" fill="url(#rg)"/>
<circle cx="96.2" cy="346.3" r="56.8" fill="none" stroke="#1a0808" stroke-width="1.0"/>
<rect x="39.2" y="408.7" width="114.60000000000001" height="92.40000000000003" fill="#fff"/>
<line x1="39.20" y1="458.60" x2="153.80" y2="458.60" stroke="#78a6c6" stroke-width="1.2"/>
<path d="M39.20 421.94 L39.86 430.40 L40.75 440.27 L41.63 443.09 L42.52 441.12 L43.40 436.04 L44.06 430.40 L44.61 438.86 L45.17 443.09 L46.49 444.50 L48.48 445.91 L51.36 450.14 L54.67 454.65 L57.98 458.60 L59.71 461.26 L61.43 463.81 L63.16 466.25 L64.88 468.58 L66.60 470.81 L68.33 472.91 L70.05 474.91 L71.78 476.80 L73.50 478.57 L75.22 480.23 L76.95 481.77 L78.67 483.19 L80.39 484.50 L82.12 485.69 L83.84 486.76 L85.57 487.71 L87.29 488.54 L89.01 489.24 L90.74 489.81 L92.46 490.25 L94.18 490.56 L95.91 490.72 L97.63 490.72 L99.36 490.56 L101.08 490.25 L102.80 489.81 L104.53 489.24 L106.25 488.54 L107.98 487.71 L109.70 486.76 L111.42 485.69 L113.15 484.50 L114.87 483.19 L116.59 481.77 L118.32 480.23 L120.04 478.57 L121.77 476.80 L123.49 474.91 L125.21 472.91 L126.94 470.81 L128.66 468.58 L130.38 466.25 L132.11 463.81 L133.83 461.26 L135.56 458.60 L138.87 454.65 L142.19 450.14 L145.06 445.91 L147.05 444.50 L148.37 443.09 L148.93 438.86 L149.48 430.40 L150.14 436.04 L151.03 441.12 L151.91 443.09 L152.79 440.27 L153.68 430.40 L154.34 421.94" fill="none" stroke="#d8505a" stroke-width="0.95" stroke-linejoin="round"/>
<path d="M57.60 443.50 v3.6 M57.60 450.50 V458.60" stroke="#1a1a1a" stroke-width="1.5" fill="none"/>
<path d="M135.40 443.50 v3.6 M135.40 450.50 V458.60" stroke="#1a1a1a" stroke-width="1.5" fill="none"/>
<line x1="59.80" y1="453.50" x2="133.20" y2="453.50" stroke="#111" stroke-width="1.4"/>
<path d="M58.30 453.50 l3.7 -1.75 v3.5z M134.70 453.50 l-3.7 -1.75 v3.5z" fill="#111"/>
<text x="95.80" y="447.90" font-size="8.7" text-anchor="middle" stroke-width="0.3">357.81 μm</text>
<rect x="39.20" y="408.70" width="114.60" height="92.40" fill="none" stroke="#3a3a3a" stroke-width="1.0"/>
<line x1="39.20" y1="416.30" x2="40.80" y2="416.30" stroke="#222" stroke-width="0.7"/>
<line x1="39.20" y1="430.40" x2="40.80" y2="430.40" stroke="#222" stroke-width="0.7"/>
<line x1="39.20" y1="444.50" x2="40.80" y2="444.50" stroke="#222" stroke-width="0.7"/>
<line x1="39.20" y1="458.60" x2="40.80" y2="458.60" stroke="#222" stroke-width="0.7"/>
<line x1="39.20" y1="472.70" x2="40.80" y2="472.70" stroke="#222" stroke-width="0.7"/>
<line x1="39.20" y1="486.80" x2="40.80" y2="486.80" stroke="#222" stroke-width="0.7"/>
<text x="34.80" y="419.50" font-size="8.7" text-anchor="end" stroke-width="0.3">150</text>
<text x="34.80" y="433.60" font-size="8.7" text-anchor="end" stroke-width="0.3">100</text>
<text x="34.80" y="447.70" font-size="8.7" text-anchor="end" stroke-width="0.3">50</text>
<text x="34.80" y="461.80" font-size="8.7" text-anchor="end" stroke-width="0.3">0</text>
<text x="34.80" y="475.90" font-size="8.7" text-anchor="end" stroke-width="0.3">−50</text>
<text x="34.80" y="490.00" font-size="8.7" text-anchor="end" stroke-width="0.3">−100</text>
<text x="34.80" y="504.10" font-size="8.7" text-anchor="end" stroke-width="0.3">−150</text>
<line x1="39.20" y1="501.10" x2="39.20" y2="499.50" stroke="#222" stroke-width="0.7"/>
<line x1="61.30" y1="501.10" x2="61.30" y2="499.50" stroke="#222" stroke-width="0.7"/>
<line x1="83.40" y1="501.10" x2="83.40" y2="499.50" stroke="#222" stroke-width="0.7"/>
<line x1="105.50" y1="501.10" x2="105.50" y2="499.50" stroke="#222" stroke-width="0.7"/>
<line x1="127.60" y1="501.10" x2="127.60" y2="499.50" stroke="#222" stroke-width="0.7"/>
<line x1="149.70" y1="501.10" x2="149.70" y2="499.50" stroke="#222" stroke-width="0.7"/>
<text x="39.20" y="509.90" font-size="8.7" text-anchor="middle" stroke-width="0.3">0</text>
<text x="61.30" y="509.90" font-size="8.7" text-anchor="middle" stroke-width="0.3">100</text>
<text x="83.40" y="509.90" font-size="8.7" text-anchor="middle" stroke-width="0.3">200</text>
<text x="105.50" y="509.90" font-size="8.7" text-anchor="middle" stroke-width="0.3">300</text>
<text x="127.60" y="509.90" font-size="8.7" text-anchor="middle" stroke-width="0.3">400</text>
<text x="149.70" y="509.90" font-size="8.7" text-anchor="middle" stroke-width="0.3">500</text>
<text x="13.80" y="457.30" font-size="9.1" text-anchor="middle" stroke-width="0.3" transform="rotate(-90 13.80 457.30)">Stress Tensor (N/m²)</text>
<text x="94.10" y="519.70" font-size="9.1" text-anchor="middle" stroke-width="0.3">Length (μm)</text>
<text x="89.60" y="536.60" font-size="15" text-anchor="middle" stroke-width="0.3">(c)</text>
<text x="269.00" y="284.80" font-size="9.15" text-anchor="middle" stroke-width="0.3">Apply 1Pa pressure</text>
<rect x="207.20" y="292.40" width="6.90" height="116.80" fill="url(#cb)"/>
<text x="204.50" y="307.10" font-size="8.7" text-anchor="end" stroke-width="0.3">250</text>
<text x="204.50" y="321.20" font-size="8.7" text-anchor="end" stroke-width="0.3">200</text>
<text x="204.50" y="335.00" font-size="8.7" text-anchor="end" stroke-width="0.3">150</text>
<text x="204.50" y="349.10" font-size="8.7" text-anchor="end" stroke-width="0.3">100</text>
<text x="204.50" y="362.90" font-size="8.7" text-anchor="end" stroke-width="0.3">50</text>
<text x="204.50" y="376.60" font-size="8.7" text-anchor="end" stroke-width="0.3">0</text>
<text x="204.50" y="390.50" font-size="8.7" text-anchor="end" stroke-width="0.3">−50</text>
<text x="204.50" y="404.90" font-size="8.7" text-anchor="end" stroke-width="0.3">−100</text>
<g clip-path="url(#clipd)"><g filter="url(#jet)" shape-rendering="crispEdges">
<g id="qd">
<rect x="271.1" y="350.9" width="6.3" height="2.4" fill="#000000"/>
<rect x="277.0" y="350.9" width="4.3" height="2.4" fill="#010101"/>
<rect x="280.9" y="350.9" width="4.3" height="2.4" fill="#020202"/>
<rect x="284.8" y="350.9" width="2.4" height="2.4" fill="#030303"/>
<rect x="286.8" y="350.9" width="4.3" height="2.4" fill="#040404"/>
<rect x="290.7" y="350.9" width="2.4" height="2.4" fill="#050505"/>
<rect x="292.7" y="350.9" width="2.4" height="2.4" fill="#060606"/>
<rect x="294.6" y="350.9" width="2.4" height="2.4" fill="#080808"/>
<rect x="296.6" y="350.9" width="2.4" height="2.4" fill="#090909"/>
<rect x="298.5" y="350.9" width="2.4" height="2.4" fill="#0a0a0a"/>
<rect x="300.5" y="350.9" width="2.4" height="2.4" fill="#0c0c0c"/>
<rect x="302.4" y="350.9" width="2.4" height="2.4" fill="#0d0d0d"/>
<rect x="304.4" y="350.9" width="2.4" height="2.4" fill="#0f0f0f"/>
<rect x="306.4" y="350.9" width="2.4" height="2.4" fill="#111111"/>
<rect x="308.3" y="350.9" width="2.4" height="2.4" fill="#121212"/>
<rect x="310.3" y="350.9" width="2.4" height="2.4" fill="#141414"/>
<rect x="312.2" y="350.9" width="2.4" height="2.4" fill="#161616"/>
<rect x="314.2" y="350.9" width="2.4" height="2.4" fill="#181818"/>
<rect x="316.2" y="350.9" width="2.4" height="2.4" fill="#1a1a1a"/>
<rect x="318.1" y="350.9" width="2.4" height="2.4" fill="#1d1d1d"/>
<rect x="320.1" y="350.9" width="2.4" height="2.4" fill="#1f1f1f"/>
<rect x="322.0" y="350.9" width="6.3" height="2.4" fill="#212121"/>
<rect x="271.1" y="352.8" width="2.4" height="2.4" fill="#000000"/>
<rect x="273.1" y="352.8" width="8.2" height="2.4" fill="#010101"/>
<rect x="280.9" y="352.8" width="2.4" height="2.4" fill="#020202"/>
<rect x="282.9" y="352.8" width="4.3" height="2.4" fill="#030303"/>
<rect x="286.8" y="352.8" width="2.4" height="2.4" fill="#040404"/>
<rect x="288.7" y="352.8" width="2.4" height="2.4" fill="#050505"/>
<rect x="290.7" y="352.8" width="2.4" height="2.4" fill="#060606"/>
<rect x="292.7" y="352.8" width="2.4" height="2.4" fill="#070707"/>
<rect x="294.6" y="352.8" width="2.4" height="2.4" fill="#080808"/>
<rect x="296.6" y="352.8" width="2.4" height="2.4" fill="#090909"/>
<rect x="298.5" y="352.8" width="2.4" height="2.4" fill="#0b0b0b"/>
<rect x="300.5" y="352.8" width="2.4" height="2.4" fill="#0c0c0c"/>
<rect x="302.4" y="352.8" width="2.4" height="2.4" fill="#0e0e0e"/>
<rect x="304.4" y="352.8" width="2.4" height="2.4" fill="#0f0f0f"/>
<rect x="306.4" y="352.8" width="2.4" height="2.4" fill="#111111"/>
<rect x="308.3" y="352.8" width="2.4" height="2.4" fill="#131313"/>
<rect x="310.3" y="352.8" width="2.4" height="2.4" fill="#151515"/>
<rect x="312.2" y="352.8" width="2.4" height="2.4" fill="#171717"/>
<rect x="314.2" y="352.8" width="2.4" height="2.4" fill="#191919"/>
<rect x="316.2" y="352.8" width="2.4" height="2.4" fill="#1b1b1b"/>
<rect x="318.1" y="352.8" width="2.4" height="2.4" fill="#1d1d1d"/>
<rect x="320.1" y="352.8" width="2.4" height="2.4" fill="#1f1f1f"/>
<rect x="322.0" y="352.8" width="6.3" height="2.4" fill="#222222"/>
<rect x="271.1" y="354.8" width="4.3" height="2.4" fill="#010101"/>
<rect x="275.0" y="354.8" width="6.3" height="2.4" fill="#020202"/>
<rect x="280.9" y="354.8" width="4.3" height="2.4" fill="#030303"/>
<rect x="284.8" y="354.8" width="2.4" height="2.4" fill="#040404"/>
<rect x="286.8" y="354.8" width="2.4" height="2.4" fill="#050505"/>
<rect x="288.7" y="354.8" width="2.4" height="2.4" fill="#060606"/>
<rect x="290.7" y="354.8" width="2.4" height="2.4" fill="#070707"/>
<rect x="292.7" y="354.8" width="2.4" height="2.4" fill="#080808"/>
<rect x="294.6" y="354.8" width="2.4" height="2.4" fill="#090909"/>
<rect x="296.6" y="354.8" width="2.4" height="2.4" fill="#0a0a0a"/>
<rect x="298.5" y="354.8" width="2.4" height="2.4" fill="#0b0b0b"/>
<rect x="300.5" y="354.8" width="2.4" height="2.4" fill="#0d0d0d"/>
<rect x="302.4" y="354.8" width="2.4" height="2.4" fill="#0e0e0e"/>
<rect x="304.4" y="354.8" width="2.4" height="2.4" fill="#101010"/>
<rect x="306.4" y="354.8" width="2.4" height="2.4" fill="#121212"/>
<rect x="308.3" y="354.8" width="2.4" height="2.4" fill="#131313"/>
<rect x="310.3" y="354.8" width="2.4" height="2.4" fill="#151515"/>
<rect x="312.2" y="354.8" width="2.4" height="2.4" fill="#171717"/>
<rect x="314.2" y="354.8" width="2.4" height="2.4" fill="#191919"/>
<rect x="316.2" y="354.8" width="2.4" height="2.4" fill="#1b1b1b"/>
<rect x="318.1" y="354.8" width="2.4" height="2.4" fill="#1e1e1e"/>
<rect x="320.1" y="354.8" width="2.4" height="2.4" fill="#202020"/>
<rect x="322.0" y="354.8" width="6.3" height="2.4" fill="#222222"/>
<rect x="271.1" y="356.8" width="8.2" height="2.4" fill="#030303"/>
<rect x="278.9" y="356.8" width="4.3" height="2.4" fill="#040404"/>
<rect x="282.9" y="356.8" width="4.3" height="2.4" fill="#050505"/>
<rect x="286.8" y="356.8" width="2.4" height="2.4" fill="#060606"/>
<rect x="288.7" y="356.8" width="2.4" height="2.4" fill="#070707"/>
<rect x="290.7" y="356.8" width="2.4" height="2.4" fill="#080808"/>
<rect x="292.7" y="356.8" width="2.4" height="2.4" fill="#090909"/>
<rect x="294.6" y="356.8" width="2.4" height="2.4" fill="#0a0a0a"/>
<rect x="296.6" y="356.8" width="2.4" height="2.4" fill="#0b0b0b"/>
<rect x="298.5" y="356.8" width="2.4" height="2.4" fill="#0d0d0d"/>
<rect x="300.5" y="356.8" width="2.4" height="2.4" fill="#0e0e0e"/>
<rect x="302.4" y="356.8" width="2.4" height="2.4" fill="#0f0f0f"/>
<rect x="304.4" y="356.8" width="2.4" height="2.4" fill="#111111"/>
<rect x="306.4" y="356.8" width="2.4" height="2.4" fill="#131313"/>
<rect x="308.3" y="356.8" width="2.4" height="2.4" fill="#141414"/>
<rect x="310.3" y="356.8" width="2.4" height="2.4" fill="#161616"/>
<rect x="312.2" y="356.8" width="2.4" height="2.4" fill="#181818"/>
<rect x="314.2" y="356.8" width="2.4" height="2.4" fill="#1a1a1a"/>
<rect x="316.2" y="356.8" width="2.4" height="2.4" fill="#1c1c1c"/>
<rect x="318.1" y="356.8" width="2.4" height="2.4" fill="#1f1f1f"/>
<rect x="320.1" y="356.8" width="2.4" height="2.4" fill="#212121"/>
<rect x="322.0" y="356.8" width="6.3" height="2.4" fill="#232323"/>
<rect x="271.1" y="358.7" width="4.3" height="2.4" fill="#040404"/>
<rect x="275.0" y="358.7" width="6.3" height="2.4" fill="#050505"/>
<rect x="280.9" y="358.7" width="4.3" height="2.4" fill="#060606"/>
<rect x="284.8" y="358.7" width="2.4" height="2.4" fill="#070707"/>
<rect x="286.8" y="358.7" width="2.4" height="2.4" fill="#080808"/>
<rect x="288.7" y="358.7" width="4.3" height="2.4" fill="#090909"/>
<rect x="292.7" y="358.7" width="2.4" height="2.4" fill="#0a0a0a"/>
<rect x="294.6" y="358.7" width="2.4" height="2.4" fill="#0c0c0c"/>
<rect x="296.6" y="358.7" width="2.4" height="2.4" fill="#0d0d0d"/>
<rect x="298.5" y="358.7" width="2.4" height="2.4" fill="#0e0e0e"/>
<rect x="300.5" y="358.7" width="2.4" height="2.4" fill="#0f0f0f"/>
<rect x="302.4" y="358.7" width="2.4" height="2.4" fill="#111111"/>
<rect x="304.4" y="358.7" width="2.4" height="2.4" fill="#121212"/>
<rect x="306.4" y="358.7" width="2.4" height="2.4" fill="#141414"/>
<rect x="308.3" y="358.7" width="2.4" height="2.4" fill="#161616"/>
<rect x="310.3" y="358.7" width="2.4" height="2.4" fill="#181818"/>
<rect x="312.2" y="358.7" width="2.4" height="2.4" fill="#1a1a1a"/>
<rect x="314.2" y="358.7" width="2.4" height="2.4" fill="#1b1b1b"/>
<rect x="316.2" y="358.7" width="2.4" height="2.4" fill="#1e1e1e"/>
<rect x="318.1" y="358.7" width="2.4" height="2.4" fill="#202020"/>
<rect x="320.1" y="358.7" width="2.4" height="2.4" fill="#222222"/>
<rect x="322.0" y="358.7" width="6.3" height="2.4" fill="#242424"/>
<rect x="271.1" y="360.6" width="2.4" height="2.4" fill="#060606"/>
<rect x="273.1" y="360.6" width="8.2" height="2.4" fill="#070707"/>
<rect x="280.9" y="360.6" width="4.3" height="2.4" fill="#080808"/>
<rect x="284.8" y="360.6" width="2.4" height="2.4" fill="#090909"/>
<rect x="286.8" y="360.6" width="2.4" height="2.4" fill="#0a0a0a"/>
<rect x="288.7" y="360.6" width="4.3" height="2.4" fill="#0b0b0b"/>
<rect x="292.7" y="360.6" width="2.4" height="2.4" fill="#0c0c0c"/>
<rect x="294.6" y="360.6" width="2.4" height="2.4" fill="#0e0e0e"/>
<rect x="296.6" y="360.6" width="2.4" height="2.4" fill="#0f0f0f"/>
<rect x="298.5" y="360.6" width="2.4" height="2.4" fill="#101010"/>
<rect x="300.5" y="360.6" width="2.4" height="2.4" fill="#111111"/>
<rect x="302.4" y="360.6" width="2.4" height="2.4" fill="#131313"/>
<rect x="304.4" y="360.6" width="2.4" height="2.4" fill="#141414"/>
<rect x="306.4" y="360.6" width="2.4" height="2.4" fill="#161616"/>
<rect x="308.3" y="360.6" width="2.4" height="2.4" fill="#181818"/>
<rect x="310.3" y="360.6" width="2.4" height="2.4" fill="#191919"/>
<rect x="312.2" y="360.6" width="2.4" height="2.4" fill="#1b1b1b"/>
<rect x="314.2" y="360.6" width="2.4" height="2.4" fill="#1d1d1d"/>
<rect x="316.2" y="360.6" width="2.4" height="2.4" fill="#1f1f1f"/>
<rect x="318.1" y="360.6" width="2.4" height="2.4" fill="#212121"/>
<rect x="320.1" y="360.6" width="2.4" height="2.4" fill="#232323"/>
<rect x="322.0" y="360.6" width="6.3" height="2.4" fill="#262626"/>
<rect x="271.1" y="362.6" width="6.3" height="2.4" fill="#090909"/>
<rect x="277.0" y="362.6" width="6.3" height="2.4" fill="#0a0a0a"/>
<rect x="282.9" y="362.6" width="2.4" height="2.4" fill="#0b0b0b"/>
<rect x="284.8" y="362.6" width="4.3" height="2.4" fill="#0c0c0c"/>
<rect x="288.7" y="362.6" width="2.4" height="2.4" fill="#0d0d0d"/>
<rect x="290.7" y="362.6" width="2.4" height="2.4" fill="#0e0e0e"/>
<rect x="292.7" y="362.6" width="2.4" height="2.4" fill="#0f0f0f"/>
<rect x="294.6" y="362.6" width="2.4" height="2.4" fill="#101010"/>
<rect x="296.6" y="362.6" width="2.4" height="2.4" fill="#111111"/>
<rect x="298.5" y="362.6" width="2.4" height="2.4" fill="#121212"/>
<rect x="300.5" y="362.6" width="2.4" height="2.4" fill="#141414"/>
<rect x="302.4" y="362.6" width="2.4" height="2.4" fill="#151515"/>
<rect x="304.4" y="362.6" width="2.4" height="2.4" fill="#161616"/>
<rect x="306.4" y="362.6" width="2.4" height="2.4" fill="#181818"/>
<rect x="308.3" y="362.6" width="2.4" height="2.4" fill="#1a1a1a"/>
<rect x="310.3" y="362.6" width="2.4" height="2.4" fill="#1b1b1b"/>
<rect x="312.2" y="362.6" width="2.4" height="2.4" fill="#1d1d1d"/>
<rect x="314.2" y="362.6" width="2.4" height="2.4" fill="#1f1f1f"/>
<rect x="316.2" y="362.6" width="2.4" height="2.4" fill="#212121"/>
<rect x="318.1" y="362.6" width="2.4" height="2.4" fill="#232323"/>
<rect x="320.1" y="362.6" width="2.4" height="2.4" fill="#252525"/>
<rect x="322.0" y="362.6" width="6.3" height="2.4" fill="#272727"/>
<rect x="271.1" y="364.5" width="6.3" height="2.4" fill="#0c0c0c"/>
<rect x="277.0" y="364.5" width="6.3" height="2.4" fill="#0d0d0d"/>
<rect x="282.9" y="364.5" width="4.3" height="2.4" fill="#0e0e0e"/>
<rect x="286.8" y="364.5" width="2.4" height="2.4" fill="#0f0f0f"/>
<rect x="288.7" y="364.5" width="2.4" height="2.4" fill="#101010"/>
<rect x="290.7" y="364.5" width="2.4" height="2.4" fill="#111111"/>
<rect x="292.7" y="364.5" width="2.4" height="2.4" fill="#121212"/>
<rect x="294.6" y="364.5" width="2.4" height="2.4" fill="#131313"/>
<rect x="296.6" y="364.5" width="2.4" height="2.4" fill="#141414"/>
<rect x="298.5" y="364.5" width="2.4" height="2.4" fill="#151515"/>
<rect x="300.5" y="364.5" width="2.4" height="2.4" fill="#161616"/>
<rect x="302.4" y="364.5" width="2.4" height="2.4" fill="#171717"/>
<rect x="304.4" y="364.5" width="2.4" height="2.4" fill="#191919"/>
<rect x="306.4" y="364.5" width="2.4" height="2.4" fill="#1a1a1a"/>
<rect x="308.3" y="364.5" width="2.4" height="2.4" fill="#1c1c1c"/>
<rect x="310.3" y="364.5" width="2.4" height="2.4" fill="#1e1e1e"/>
<rect x="312.2" y="364.5" width="2.4" height="2.4" fill="#1f1f1f"/>
<rect x="314.2" y="364.5" width="2.4" height="2.4" fill="#212121"/>
<rect x="316.2" y="364.5" width="2.4" height="2.4" fill="#232323"/>
<rect x="318.1" y="364.5" width="2.4" height="2.4" fill="#252525"/>
<rect x="320.1" y="364.5" width="2.4" height="2.4" fill="#272727"/>
<rect x="322.0" y="364.5" width="6.3" height="2.4" fill="#292929"/>
<rect x="271.1" y="366.5" width="4.3" height="2.4" fill="#0f0f0f"/>
<rect x="275.0" y="366.5" width="6.3" height="2.4" fill="#101010"/>
<rect x="280.9" y="366.5" width="4.3" height="2.4" fill="#111111"/>
<rect x="284.8" y="366.5" width="4.3" height="2.4" fill="#121212"/>
<rect x="288.7" y="366.5" width="2.4" height="2.4" fill="#131313"/>
<rect x="290.7" y="366.5" width="2.4" height="2.4" fill="#141414"/>
<rect x="292.7" y="366.5" width="2.4" height="2.4" fill="#151515"/>
<rect x="294.6" y="366.5" width="2.4" height="2.4" fill="#161616"/>
<rect x="296.6" y="366.5" width="2.4" height="2.4" fill="#171717"/>
<rect x="298.5" y="366.5" width="2.4" height="2.4" fill="#181818"/>
<rect x="300.5" y="366.5" width="2.4" height="2.4" fill="#191919"/>
<rect x="302.4" y="366.5" width="2.4" height="2.4" fill="#1a1a1a"/>
<rect x="304.4" y="366.5" width="2.4" height="2.4" fill="#1c1c1c"/>
<rect x="306.4" y="366.5" width="2.4" height="2.4" fill="#1d1d1d"/>
<rect x="308.3" y="366.5" width="2.4" height="2.4" fill="#1f1f1f"/>
<rect x="310.3" y="366.5" width="2.4" height="2.4" fill="#202020"/>
<rect x="312.2" y="366.5" width="2.4" height="2.4" fill="#222222"/>
<rect x="314.2" y="366.5" width="2.4" height="2.4" fill="#242424"/>
<rect x="316.2" y="366.5" width="2.4" height="2.4" fill="#252525"/>
<rect x="318.1" y="366.5" width="2.4" height="2.4" fill="#272727"/>
<rect x="320.1" y="366.5" width="2.4" height="2.4" fill="#292929"/>
<rect x="322.0" y="366.5" width="6.3" height="2.4" fill="#2b2b2b"/>
<rect x="271.1" y="368.4" width="6.3" height="2.4" fill="#131313"/>
<rect x="277.0" y="368.4" width="6.3" height="2.4" fill="#141414"/>
<rect x="282.9" y="368.4" width="4.3" height="2.4" fill="#151515"/>
<rect x="286.8" y="368.4" width="2.4" height="2.4" fill="#161616"/>
<rect x="288.7" y="368.4" width="4.3" height="2.4" fill="#171717"/>
<rect x="292.7" y="368.4" width="2.4" height="2.4" fill="#181818"/>
<rect x="294.6" y="368.4" width="2.4" height="2.4" fill="#191919"/>
<rect x="296.6" y="368.4" width="2.4" height="2.4" fill="#1a1a1a"/>
<rect x="298.5" y="368.4" width="2.4" height="2.4" fill="#1b1b1b"/>
<rect x="300.5" y="368.4" width="2.4" height="2.4" fill="#1c1c1c"/>
<rect x="302.4" y="368.4" width="2.4" height="2.4" fill="#1e1e1e"/>
<rect x="304.4" y="368.4" width="2.4" height="2.4" fill="#1f1f1f"/>
<rect x="306.4" y="368.4" width="2.4" height="2.4" fill="#202020"/>
<rect x="308.3" y="368.4" width="2.4" height="2.4" fill="#222222"/>
<rect x="310.3" y="368.4" width="2.4" height="2.4" fill="#232323"/>
<rect x="312.2" y="368.4" width="2.4" height="2.4" fill="#252525"/>
<rect x="314.2" y="368.4" width="2.4" height="2.4" fill="#262626"/>
<rect x="316.2" y="368.4" width="2.4" height="2.4" fill="#282828"/>
<rect x="318.1" y="368.4" width="2.4" height="2.4" fill="#2a2a2a"/>
<rect x="320.1" y="368.4" width="2.4" height="2.4" fill="#2c2c2c"/>
<rect x="322.0" y="368.4" width="6.3" height="2.4" fill="#2e2e2e"/>
<rect x="271.1" y="370.4" width="4.3" height="2.4" fill="#171717"/>
<rect x="275.0" y="370.4" width="8.2" height="2.4" fill="#181818"/>
<rect x="282.9" y="370.4" width="4.3" height="2.4" fill="#191919"/>
<rect x="286.8" y="370.4" width="2.4" height="2.4" fill="#1a1a1a"/>
<rect x="288.7" y="370.4" width="4.3" height="2.4" fill="#1b1b1b"/>
<rect x="292.7" y="370.4" width="2.4" height="2.4" fill="#1c1c1c"/>
<rect x="294.6" y="370.4" width="2.4" height="2.4" fill="#1d1d1d"/>
<rect x="296.6" y="370.4" width="2.4" height="2.4" fill="#1e1e1e"/>
<rect x="298.5" y="370.4" width="2.4" height="2.4" fill="#1f1f1f"/>
<rect x="300.5" y="370.4" width="2.4" height="2.4" fill="#202020"/>
<rect x="302.4" y="370.4" width="2.4" height="2.4" fill="#212121"/>
<rect x="304.4" y="370.4" width="2.4" height="2.4" fill="#222222"/>
<rect x="306.4" y="370.4" width="2.4" height="2.4" fill="#242424"/>
<rect x="308.3" y="370.4" width="2.4" height="2.4" fill="#252525"/>
<rect x="310.3" y="370.4" width="2.4" height="2.4" fill="#262626"/>
<rect x="312.2" y="370.4" width="2.4" height="2.4" fill="#282828"/>
<rect x="314.2" y="370.4" width="2.4" height="2.4" fill="#292929"/>
<rect x="316.2" y="370.4" width="2.4" height="2.4" fill="#2b2b2b"/>
<rect x="318.1" y="370.4" width="2.4" height="2.4" fill="#2d2d2d"/>
<rect x="320.1" y="370.4" width="2.4" height="2.4" fill="#2e2e2e"/>
<rect x="322.0" y="370.4" width="6.3" height="2.4" fill="#303030"/>
<rect x="271.1" y="372.3" width="8.2" height="2.4" fill="#1c1c1c"/>
<rect x="278.9" y="372.3" width="6.3" height="2.4" fill="#1d1d1d"/>
<rect x="284.8" y="372.3" width="4.3" height="2.4" fill="#1e1e1e"/>
<rect x="288.7" y="372.3" width="2.4" height="2.4" fill="#1f1f1f"/>
<rect x="290.7" y="372.3" width="4.3" height="2.4" fill="#202020"/>
<rect x="294.6" y="372.3" width="2.4" height="2.4" fill="#212121"/>
<rect x="296.6" y="372.3" width="2.4" height="2.4" fill="#222222"/>
<rect x="298.5" y="372.3" width="2.4" height="2.4" fill="#232323"/>
<rect x="300.5" y="372.3" width="2.4" height="2.4" fill="#242424"/>
<rect x="302.4" y="372.3" width="2.4" height="2.4" fill="#252525"/>
<rect x="304.4" y="372.3" width="2.4" height="2.4" fill="#262626"/>
<rect x="306.4" y="372.3" width="2.4" height="2.4" fill="#272727"/>
<rect x="308.3" y="372.3" width="2.4" height="2.4" fill="#292929"/>
<rect x="310.3" y="372.3" width="2.4" height="2.4" fill="#2a2a2a"/>
<rect x="312.2" y="372.3" width="2.4" height="2.4" fill="#2b2b2b"/>
<rect x="314.2" y="372.3" width="2.4" height="2.4" fill="#2d2d2d"/>
<rect x="316.2" y="372.3" width="2.4" height="2.4" fill="#2e2e2e"/>
<rect x="318.1" y="372.3" width="2.4" height="2.4" fill="#303030"/>
<rect x="320.1" y="372.3" width="2.4" height="2.4" fill="#313131"/>
<rect x="322.0" y="372.3" width="6.3" height="2.4" fill="#333333"/>
<rect x="271.1" y="374.3" width="10.2" height="2.4" fill="#212121"/>
<rect x="280.9" y="374.3" width="6.3" height="2.4" fill="#222222"/>
<rect x="286.8" y="374.3" width="2.4" height="2.4" fill="#232323"/>
<rect x="288.7" y="374.3" width="4.3" height="2.4" fill="#242424"/>
<rect x="292.7" y="374.3" width="2.4" height="2.4" fill="#252525"/>
<rect x="294.6" y="374.3" width="4.3" height="2.4" fill="#262626"/>
<rect x="298.5" y="374.3" width="2.4" height="2.4" fill="#272727"/>
<rect x="300.5" y="374.3" width="2.4" height="2.4" fill="#282828"/>
<rect x="302.4" y="374.3" width="2.4" height="2.4" fill="#292929"/>
<rect x="304.4" y="374.3" width="2.4" height="2.4" fill="#2a2a2a"/>
<rect x="306.4" y="374.3" width="2.4" height="2.4" fill="#2b2b2b"/>
<rect x="308.3" y="374.3" width="2.4" height="2.4" fill="#2d2d2d"/>
<rect x="310.3" y="374.3" width="2.4" height="2.4" fill="#2e2e2e"/>
<rect x="312.2" y="374.3" width="2.4" height="2.4" fill="#2f2f2f"/>
<rect x="314.2" y="374.3" width="2.4" height="2.4" fill="#303030"/>
<rect x="316.2" y="374.3" width="2.4" height="2.4" fill="#323232"/>
<rect x="318.1" y="374.3" width="2.4" height="2.4" fill="#333333"/>
<rect x="320.1" y="374.3" width="2.4" height="2.4" fill="#353535"/>
<rect x="322.0" y="374.3" width="6.3" height="2.4" fill="#363636"/>
<rect x="271.1" y="376.2" width="8.2" height="2.4" fill="#262626"/>
<rect x="278.9" y="376.2" width="6.3" height="2.4" fill="#272727"/>
<rect x="284.8" y="376.2" width="4.3" height="2.4" fill="#282828"/>
<rect x="288.7" y="376.2" width="4.3" height="2.4" fill="#292929"/>
<rect x="292.7" y="376.2" width="4.3" height="2.4" fill="#2a2a2a"/>
<rect x="296.6" y="376.2" width="2.4" height="2.4" fill="#2b2b2b"/>
<rect x="298.5" y="376.2" width="2.4" height="2.4" fill="#2c2c2c"/>
<rect x="300.5" y="376.2" width="2.4" height="2.4" fill="#2d2d2d"/>
<rect x="302.4" y="376.2" width="2.4" height="2.4" fill="#2e2e2e"/>
<rect x="304.4" y="376.2" width="2.4" height="2.4" fill="#2f2f2f"/>
<rect x="306.4" y="376.2" width="2.4" height="2.4" fill="#303030"/>
<rect x="308.3" y="376.2" width="2.4" height="2.4" fill="#313131"/>
<rect x="310.3" y="376.2" width="2.4" height="2.4" fill="#323232"/>
<rect x="312.2" y="376.2" width="2.4" height="2.4" fill="#333333"/>
<rect x="314.2" y="376.2" width="2.4" height="2.4" fill="#343434"/>
<rect x="316.2" y="376.2" width="2.4" height="2.4" fill="#363636"/>
<rect x="318.1" y="376.2" width="2.4" height="2.4" fill="#373737"/>
<rect x="320.1" y="376.2" width="2.4" height="2.4" fill="#383838"/>
<rect x="322.0" y="376.2" width="6.3" height="2.4" fill="#3a3a3a"/>
<rect x="271.1" y="378.2" width="12.2" height="2.4" fill="#2c2c2c"/>
<rect x="282.9" y="378.2" width="6.3" height="2.4" fill="#2d2d2d"/>
<rect x="288.7" y="378.2" width="4.3" height="2.4" fill="#2e2e2e"/>
<rect x="292.7" y="378.2" width="2.4" height="2.4" fill="#2f2f2f"/>
<rect x="294.6" y="378.2" width="4.3" height="2.4" fill="#303030"/>
<rect x="298.5" y="378.2" width="2.4" height="2.4" fill="#313131"/>
<rect x="300.5" y="378.2" width="2.4" height="2.4" fill="#323232"/>
<rect x="302.4" y="378.2" width="4.3" height="2.4" fill="#333333"/>
<rect x="306.4" y="378.2" width="2.4" height="2.4" fill="#343434"/>
<rect x="308.3" y="378.2" width="2.4" height="2.4" fill="#353535"/>
<rect x="310.3" y="378.2" width="2.4" height="2.4" fill="#363636"/>
<rect x="312.2" y="378.2" width="2.4" height="2.4" fill="#373737"/>
<rect x="314.2" y="378.2" width="2.4" height="2.4" fill="#383838"/>
<rect x="316.2" y="378.2" width="2.4" height="2.4" fill="#3a3a3a"/>
<rect x="318.1" y="378.2" width="2.4" height="2.4" fill="#3b3b3b"/>
<rect x="320.1" y="378.2" width="2.4" height="2.4" fill="#3c3c3c"/>
<rect x="322.0" y="378.2" width="6.3" height="2.4" fill="#3d3d3d"/>
<rect x="271.1" y="380.1" width="4.3" height="2.4" fill="#313131"/>
<rect x="275.0" y="380.1" width="10.2" height="2.4" fill="#323232"/>
<rect x="284.8" y="380.1" width="6.3" height="2.4" fill="#333333"/>
<rect x="290.7" y="380.1" width="4.3" height="2.4" fill="#343434"/>
<rect x="294.6" y="380.1" width="2.4" height="2.4" fill="#353535"/>
<rect x="296.6" y="380.1" width="4.3" height="2.4" fill="#363636"/>
<rect x="300.5" y="380.1" width="2.4" height="2.4" fill="#373737"/>
<rect x="302.4" y="380.1" width="4.3" height="2.4" fill="#383838"/>
<rect x="306.4" y="380.1" width="2.4" height="2.4" fill="#393939"/>
<rect x="308.3" y="380.1" width="2.4" height="2.4" fill="#3a3a3a"/>
<rect x="310.3" y="380.1" width="2.4" height="2.4" fill="#3b3b3b"/>
<rect x="312.2" y="380.1" width="2.4" height="2.4" fill="#3c3c3c"/>
<rect x="314.2" y="380.1" width="2.4" height="2.4" fill="#3d3d3d"/>
<rect x="316.2" y="380.1" width="2.4" height="2.4" fill="#3e3e3e"/>
<rect x="318.1" y="380.1" width="2.4" height="2.4" fill="#3f3f3f"/>
<rect x="320.1" y="380.1" width="2.4" height="2.4" fill="#404040"/>
<rect x="322.0" y="380.1" width="6.3" height="2.4" fill="#414141"/>
<rect x="271.1" y="382.1" width="14.1" height="2.4" fill="#383838"/>
<rect x="284.8" y="382.1" width="6.3" height="2.4" fill="#393939"/>
<rect x="290.7" y="382.1" width="4.3" height="2.4" fill="#3a3a3a"/>
<rect x="294.6" y="382.1" width="4.3" height="2.4" fill="#3b3b3b"/>
<rect x="298.5" y="382.1" width="4.3" height="2.4" fill="#3c3c3c"/>
<rect x="302.4" y="382.1" width="4.3" height="2.4" fill="#3d3d3d"/>
<rect x="306.4" y="382.1" width="2.4" height="2.4" fill="#3e3e3e"/>
<rect x="308.3" y="382.1" width="2.4" height="2.4" fill="#3f3f3f"/>
<rect x="310.3" y="382.1" width="4.3" height="2.4" fill="#404040"/>
<rect x="314.2" y="382.1" width="2.4" height="2.4" fill="#414141"/>
<rect x="316.2" y="382.1" width="2.4" height="2.4" fill="#424242"/>
<rect x="318.1" y="382.1" width="2.4" height="2.4" fill="#434343"/>
<rect x="320.1" y="382.1" width="2.4" height="2.4" fill="#444444"/>
<rect x="322.0" y="382.1" width="6.3" height="2.4" fill="#454545"/>
<rect x="271.1" y="384.0" width="12.2" height="2.4" fill="#3e3e3e"/>
<rect x="282.9" y="384.0" width="8.2" height="2.4" fill="#3f3f3f"/>
<rect x="290.7" y="384.0" width="6.3" height="2.4" fill="#404040"/>
<rect x="296.6" y="384.0" width="4.3" height="2.4" fill="#414141"/>
<rect x="300.5" y="384.0" width="4.3" height="2.4" fill="#424242"/>
<rect x="304.4" y="384.0" width="4.3" height="2.4" fill="#434343"/>
<rect x="308.3" y="384.0" width="2.4" height="2.4" fill="#444444"/>
<rect x="310.3" y="384.0" width="4.3" height="2.4" fill="#454545"/>
<rect x="314.2" y="384.0" width="2.4" height="2.4" fill="#464646"/>
<rect x="316.2" y="384.0" width="4.3" height="2.4" fill="#474747"/>
<rect x="320.1" y="384.0" width="2.4" height="2.4" fill="#484848"/>
<rect x="322.0" y="384.0" width="6.3" height="2.4" fill="#494949"/>
<rect x="271.1" y="386.0" width="18.0" height="2.4" fill="#454545"/>
<rect x="288.7" y="386.0" width="6.3" height="2.4" fill="#464646"/>
<rect x="294.6" y="386.0" width="6.3" height="2.4" fill="#474747"/>
<rect x="300.5" y="386.0" width="6.3" height="2.4" fill="#484848"/>
<rect x="306.4" y="386.0" width="4.3" height="2.4" fill="#494949"/>
<rect x="310.3" y="386.0" width="4.3" height="2.4" fill="#4a4a4a"/>
<rect x="314.2" y="386.0" width="4.3" height="2.4" fill="#4b4b4b"/>
<rect x="318.1" y="386.0" width="2.4" height="2.4" fill="#4c4c4c"/>
<rect x="320.1" y="386.0" width="8.2" height="2.4" fill="#4d4d4d"/>
<rect x="271.1" y="387.9" width="10.2" height="2.4" fill="#4b4b4b"/>
<rect x="280.9" y="387.9" width="14.1" height="2.4" fill="#4c4c4c"/>
<rect x="294.6" y="387.9" width="8.2" height="2.4" fill="#4d4d4d"/>
<rect x="302.4" y="387.9" width="6.3" height="2.4" fill="#4e4e4e"/>
<rect x="308.3" y="387.9" width="6.3" height="2.4" fill="#4f4f4f"/>
<rect x="314.2" y="387.9" width="4.3" height="2.4" fill="#505050"/>
<rect x="318.1" y="387.9" width="10.2" height="2.4" fill="#515151"/>
<rect x="271.1" y="389.9" width="20.0" height="2.4" fill="#525252"/>
<rect x="290.7" y="389.9" width="14.1" height="2.4" fill="#535353"/>
<rect x="304.4" y="389.9" width="10.2" height="2.4" fill="#545454"/>
<rect x="314.2" y="389.9" width="8.2" height="2.4" fill="#555555"/>
<rect x="322.0" y="389.9" width="6.3" height="2.4" fill="#565656"/>
<rect x="271.1" y="391.8" width="14.1" height="2.4" fill="#585858"/>
<rect x="284.8" y="391.8" width="33.7" height="2.4" fill="#595959"/>
<rect x="318.1" y="391.8" width="10.2" height="2.4" fill="#5a5a5a"/>
<rect x="271.1" y="393.8" width="57.2" height="2.4" fill="#5c5c5c"/>
<rect x="271.1" y="395.8" width="57.2" height="2.4" fill="#5c5c5c"/>
<rect x="271.1" y="397.7" width="41.5" height="2.4" fill="#5e5e5e"/>
<rect x="312.2" y="397.7" width="10.2" height="2.4" fill="#5d5d5d"/>
<rect x="322.0" y="397.7" width="6.3" height="2.4" fill="#5c5c5c"/>
<rect x="271.1" y="399.6" width="27.8" height="2.4" fill="#8c8c8c"/>
<rect x="298.5" y="399.6" width="4.3" height="2.4" fill="#8b8b8b"/>
<rect x="302.4" y="399.6" width="2.4" height="2.4" fill="#8a8a8a"/>
<rect x="304.4" y="399.6" width="2.4" height="2.4" fill="#898989"/>
<rect x="306.4" y="399.6" width="2.4" height="2.4" fill="#878787"/>
<rect x="308.3" y="399.6" width="2.4" height="2.4" fill="#858585"/>
<rect x="310.3" y="399.6" width="2.4" height="2.4" fill="#838383"/>
<rect x="312.2" y="399.6" width="2.4" height="2.4" fill="#808080"/>
<rect x="314.2" y="399.6" width="2.4" height="2.4" fill="#7c7c7c"/>
<rect x="316.2" y="399.6" width="2.4" height="2.4" fill="#777777"/>
<rect x="318.1" y="399.6" width="2.4" height="2.4" fill="#717171"/>
<rect x="320.1" y="399.6" width="2.4" height="2.4" fill="#6a6a6a"/>
<rect x="322.0" y="399.6" width="6.3" height="2.4" fill="#616161"/>
<rect x="271.1" y="401.6" width="10.2" height="2.4" fill="#7d7d7d"/>
<rect x="280.9" y="401.6" width="16.1" height="2.4" fill="#7c7c7c"/>
<rect x="296.6" y="401.6" width="4.3" height="2.4" fill="#7b7b7b"/>
<rect x="300.5" y="401.6" width="4.3" height="2.4" fill="#7a7a7a"/>
<rect x="304.4" y="401.6" width="2.4" height="2.4" fill="#797979"/>
<rect x="306.4" y="401.6" width="2.4" height="2.4" fill="#787878"/>
<rect x="308.3" y="401.6" width="2.4" height="2.4" fill="#777777"/>
<rect x="310.3" y="401.6" width="2.4" height="2.4" fill="#757575"/>
<rect x="312.2" y="401.6" width="2.4" height="2.4" fill="#737373"/>
<rect x="314.2" y="401.6" width="2.4" height="2.4" fill="#717171"/>
<rect x="316.2" y="401.6" width="2.4" height="2.4" fill="#6e6e6e"/>
<rect x="318.1" y="401.6" width="2.4" height="2.4" fill="#6a6a6a"/>
<rect x="320.1" y="401.6" width="2.4" height="2.4" fill="#656565"/>
<rect x="322.0" y="401.6" width="6.3" height="2.4" fill="#606060"/>
<rect x="271.1" y="403.5" width="10.2" height="2.4" fill="#767676"/>
<rect x="280.9" y="403.5" width="6.3" height="2.4" fill="#757575"/>
<rect x="286.8" y="403.5" width="4.3" height="2.4" fill="#747474"/>
<rect x="290.7" y="403.5" width="4.3" height="2.4" fill="#737373"/>
<rect x="294.6" y="403.5" width="4.3" height="2.4" fill="#727272"/>
<rect x="298.5" y="403.5" width="2.4" height="2.4" fill="#717171"/>
<rect x="300.5" y="403.5" width="2.4" height="2.4" fill="#707070"/>
<rect x="302.4" y="403.5" width="2.4" height="2.4" fill="#6f6f6f"/>
<rect x="304.4" y="403.5" width="2.4" height="2.4" fill="#6e6e6e"/>
<rect x="306.4" y="403.5" width="2.4" height="2.4" fill="#6d6d6d"/>
<rect x="308.3" y="403.5" width="2.4" height="2.4" fill="#6c6c6c"/>
<rect x="310.3" y="403.5" width="2.4" height="2.4" fill="#6b6b6b"/>
<rect x="312.2" y="403.5" width="2.4" height="2.4" fill="#696969"/>
<rect x="314.2" y="403.5" width="2.4" height="2.4" fill="#686868"/>
<rect x="316.2" y="403.5" width="2.4" height="2.4" fill="#666666"/>
<rect x="318.1" y="403.5" width="2.4" height="2.4" fill="#646464"/>
<rect x="320.1" y="403.5" width="2.4" height="2.4" fill="#626262"/>
<rect x="322.0" y="403.5" width="6.3" height="2.4" fill="#5f5f5f"/>
<rect x="271.1" y="405.5" width="4.3" height="2.4" fill="#aeaeae"/>
<rect x="275.0" y="405.5" width="4.3" height="2.4" fill="#adadad"/>
<rect x="278.9" y="405.5" width="4.3" height="2.4" fill="#acacac"/>
<rect x="282.9" y="405.5" width="2.4" height="2.4" fill="#ababab"/>
<rect x="284.8" y="405.5" width="2.4" height="2.4" fill="#a9a9a9"/>
<rect x="286.8" y="405.5" width="2.4" height="2.4" fill="#a8a8a8"/>
<rect x="288.7" y="405.5" width="2.4" height="2.4" fill="#a7a7a7"/>
<rect x="290.7" y="405.5" width="2.4" height="2.4" fill="#a5a5a5"/>
<rect x="292.7" y="405.5" width="2.4" height="2.4" fill="#a3a3a3"/>
<rect x="294.6" y="405.5" width="2.4" height="2.4" fill="#a1a1a1"/>
<rect x="296.6" y="405.5" width="2.4" height="2.4" fill="#9f9f9f"/>
<rect x="298.5" y="405.5" width="2.4" height="2.4" fill="#9d9d9d"/>
<rect x="300.5" y="405.5" width="2.4" height="2.4" fill="#9a9a9a"/>
<rect x="302.4" y="405.5" width="2.4" height="2.4" fill="#979797"/>
<rect x="304.4" y="405.5" width="2.4" height="2.4" fill="#949494"/>
<rect x="306.4" y="405.5" width="2.4" height="2.4" fill="#919191"/>
<rect x="308.3" y="405.5" width="2.4" height="2.4" fill="#8d8d8d"/>
<rect x="310.3" y="405.5" width="2.4" height="2.4" fill="#898989"/>
<rect x="312.2" y="405.5" width="2.4" height="2.4" fill="#858585"/>
<rect x="314.2" y="405.5" width="2.4" height="2.4" fill="#808080"/>
<rect x="316.2" y="405.5" width="2.4" height="2.4" fill="#7a7a7a"/>
<rect x="318.1" y="405.5" width="2.4" height="2.4" fill="#747474"/>
<rect x="320.1" y="405.5" width="2.4" height="2.4" fill="#6d6d6d"/>
<rect x="322.0" y="405.5" width="6.3" height="2.4" fill="#646464"/>
<rect x="271.1" y="407.4" width="4.3" height="2.4" fill="#eeeeee"/>
<rect x="275.0" y="407.4" width="2.4" height="2.4" fill="#ededed"/>
<rect x="277.0" y="407.4" width="2.4" height="2.4" fill="#ececec"/>
<rect x="278.9" y="407.4" width="2.4" height="2.4" fill="#ebebeb"/>
<rect x="280.9" y="407.4" width="2.4" height="2.4" fill="#eaeaea"/>
<rect x="282.9" y="407.4" width="2.4" height="2.4" fill="#e8e8e8"/>
<rect x="284.8" y="407.4" width="2.4" height="2.4" fill="#e6e6e6"/>
<rect x="286.8" y="407.4" width="2.4" height="2.4" fill="#e4e4e4"/>
<rect x="288.7" y="407.4" width="2.4" height="2.4" fill="#e1e1e1"/>
<rect x="290.7" y="407.4" width="2.4" height="2.4" fill="#dedede"/>
<rect x="292.7" y="407.4" width="2.4" height="2.4" fill="#dbdbdb"/>
<rect x="294.6" y="407.4" width="2.4" height="2.4" fill="#d7d7d7"/>
<rect x="296.6" y="407.4" width="2.4" height="2.4" fill="#d3d3d3"/>
<rect x="298.5" y="407.4" width="2.4" height="2.4" fill="#cfcfcf"/>
<rect x="300.5" y="407.4" width="2.4" height="2.4" fill="#cacaca"/>
<rect x="302.4" y="407.4" width="2.4" height="2.4" fill="#c5c5c5"/>
<rect x="304.4" y="407.4" width="2.4" height="2.4" fill="#c0c0c0"/>
<rect x="306.4" y="407.4" width="2.4" height="2.4" fill="#bababa"/>
<rect x="308.3" y="407.4" width="2.4" height="2.4" fill="#b3b3b3"/>
<rect x="310.3" y="407.4" width="2.4" height="2.4" fill="#acacac"/>
<rect x="312.2" y="407.4" width="2.4" height="2.4" fill="#a4a4a4"/>
<rect x="314.2" y="407.4" width="2.4" height="2.4" fill="#9c9c9c"/>
<rect x="316.2" y="407.4" width="2.4" height="2.4" fill="#929292"/>
<rect x="318.1" y="407.4" width="2.4" height="2.4" fill="#878787"/>
<rect x="320.1" y="407.4" width="2.4" height="2.4" fill="#7b7b7b"/>
<rect x="322.0" y="407.4" width="6.3" height="2.4" fill="#6b6b6b"/>
<rect x="271.1" y="409.4" width="4.3" height="2.4" fill="#eeeeee"/>
<rect x="275.0" y="409.4" width="2.4" height="2.4" fill="#ededed"/>
<rect x="277.0" y="409.4" width="2.4" height="2.4" fill="#ececec"/>
<rect x="278.9" y="409.4" width="2.4" height="2.4" fill="#ebebeb"/>
<rect x="280.9" y="409.4" width="2.4" height="2.4" fill="#eaeaea"/>
<rect x="282.9" y="409.4" width="2.4" height="2.4" fill="#e8e8e8"/>
<rect x="284.8" y="409.4" width="2.4" height="2.4" fill="#e6e6e6"/>
<rect x="286.8" y="409.4" width="2.4" height="2.4" fill="#e4e4e4"/>
<rect x="288.7" y="409.4" width="2.4" height="2.4" fill="#e1e1e1"/>
<rect x="290.7" y="409.4" width="2.4" height="2.4" fill="#dedede"/>
<rect x="292.7" y="409.4" width="2.4" height="2.4" fill="#dbdbdb"/>
<rect x="294.6" y="409.4" width="2.4" height="2.4" fill="#d7d7d7"/>
<rect x="296.6" y="409.4" width="2.4" height="2.4" fill="#d3d3d3"/>
<rect x="298.5" y="409.4" width="2.4" height="2.4" fill="#cfcfcf"/>
<rect x="300.5" y="409.4" width="2.4" height="2.4" fill="#cacaca"/>
<rect x="302.4" y="409.4" width="2.4" height="2.4" fill="#c5c5c5"/>
<rect x="304.4" y="409.4" width="2.4" height="2.4" fill="#c0c0c0"/>
<rect x="306.4" y="409.4" width="2.4" height="2.4" fill="#bababa"/>
<rect x="308.3" y="409.4" width="2.4" height="2.4" fill="#b3b3b3"/>
<rect x="310.3" y="409.4" width="2.4" height="2.4" fill="#acacac"/>
<rect x="312.2" y="409.4" width="2.4" height="2.4" fill="#a4a4a4"/>
<rect x="314.2" y="409.4" width="2.4" height="2.4" fill="#9c9c9c"/>
<rect x="316.2" y="409.4" width="2.4" height="2.4" fill="#929292"/>
<rect x="318.1" y="409.4" width="2.4" height="2.4" fill="#878787"/>
<rect x="320.1" y="409.4" width="2.4" height="2.4" fill="#7b7b7b"/>
<rect x="322.0" y="409.4" width="6.3" height="2.4" fill="#6b6b6b"/>
<rect x="271.1" y="411.3" width="4.3" height="2.4" fill="#eeeeee"/>
<rect x="275.0" y="411.3" width="2.4" height="2.4" fill="#ededed"/>
<rect x="277.0" y="411.3" width="2.4" height="2.4" fill="#ececec"/>
<rect x="278.9" y="411.3" width="2.4" height="2.4" fill="#ebebeb"/>
<rect x="280.9" y="411.3" width="2.4" height="2.4" fill="#eaeaea"/>
<rect x="282.9" y="411.3" width="2.4" height="2.4" fill="#e8e8e8"/>
<rect x="284.8" y="411.3" width="2.4" height="2.4" fill="#e6e6e6"/>
<rect x="286.8" y="411.3" width="2.4" height="2.4" fill="#e4e4e4"/>
<rect x="288.7" y="411.3" width="2.4" height="2.4" fill="#e1e1e1"/>
<rect x="290.7" y="411.3" width="2.4" height="2.4" fill="#dedede"/>
<rect x="292.7" y="411.3" width="2.4" height="2.4" fill="#dbdbdb"/>
<rect x="294.6" y="411.3" width="2.4" height="2.4" fill="#d7d7d7"/>
<rect x="296.6" y="411.3" width="2.4" height="2.4" fill="#d3d3d3"/>
<rect x="298.5" y="411.3" width="2.4" height="2.4" fill="#cfcfcf"/>
<rect x="300.5" y="411.3" width="2.4" height="2.4" fill="#cacaca"/>
<rect x="302.4" y="411.3" width="2.4" height="2.4" fill="#c5c5c5"/>
<rect x="304.4" y="411.3" width="2.4" height="2.4" fill="#c0c0c0"/>
<rect x="306.4" y="411.3" width="2.4" height="2.4" fill="#bababa"/>
<rect x="308.3" y="411.3" width="2.4" height="2.4" fill="#b3b3b3"/>
<rect x="310.3" y="411.3" width="2.4" height="2.4" fill="#acacac"/>
<rect x="312.2" y="411.3" width="2.4" height="2.4" fill="#a4a4a4"/>
<rect x="314.2" y="411.3" width="2.4" height="2.4" fill="#9c9c9c"/>
<rect x="316.2" y="411.3" width="2.4" height="2.4" fill="#929292"/>
<rect x="318.1" y="411.3" width="2.4" height="2.4" fill="#878787"/>
<rect x="320.1" y="411.3" width="2.4" height="2.4" fill="#7b7b7b"/>
<rect x="322.0" y="411.3" width="6.3" height="2.4" fill="#6b6b6b"/>
</g>
<use href="#qd" transform="translate(542.20 0) scale(-1 1)"/>
<use href="#qd" transform="translate(0 701.80) scale(1 -1)"/>
<use href="#qd" transform="translate(542.20 701.80) scale(-1 -1)"/>
</g></g>
<rect x="218.10" y="292.30" width="105.80" height="117.00" fill="none" stroke="#111" stroke-width="1.1"/>
<rect x="218.0" y="415.0" width="106.39999999999998" height="85.0" fill="#fff"/>
<line x1="218.00" y1="454.50" x2="324.40" y2="454.50" stroke="#84b2d0" stroke-width="1.1"/>
<path d="M218.00 425.20 L220.49 428.60 L222.98 434.55 L226.09 444.75 L226.09 454.36 L226.18 444.75 L228.57 449.85 L231.06 454.95 L241.95 472.80 L257.81 486.40 L264.65 488.52 L270.87 489.38 L277.71 488.52 L284.55 486.40 L299.79 472.80 L311.30 454.95 L313.79 449.85 L316.18 444.75 L316.28 454.36 L316.28 444.75 L319.39 434.55 L321.87 428.60 L324.36 425.20" fill="none" stroke="#d8505a" stroke-width="0.95" stroke-linejoin="round"/>
<path d="M226.00 428.80 v3.6 M226.00 435.80 V444.00" stroke="#1a1a1a" stroke-width="1.5" fill="none"/>
<path d="M315.80 428.80 v3.6 M315.80 435.80 V444.00" stroke="#1a1a1a" stroke-width="1.5" fill="none"/>
<line x1="228.10" y1="439.60" x2="313.70" y2="439.60" stroke="#111" stroke-width="1.4"/>
<path d="M226.60 439.60 l3.7 -1.75 v3.5z M315.20 439.60 l-3.7 -1.75 v3.5z" fill="#111"/>
<text x="275.00" y="435.20" font-size="8.7" text-anchor="middle" stroke-width="0.3">288.70 μm</text>
<rect x="218.00" y="415.00" width="106.40" height="85.00" fill="none" stroke="#3a3a3a" stroke-width="1.0"/>
<line x1="218.00" y1="432.00" x2="219.60" y2="432.00" stroke="#222" stroke-width="0.7"/>
<line x1="218.00" y1="449.00" x2="219.60" y2="449.00" stroke="#222" stroke-width="0.7"/>
<line x1="218.00" y1="466.00" x2="219.60" y2="466.00" stroke="#222" stroke-width="0.7"/>
<line x1="218.00" y1="483.00" x2="219.60" y2="483.00" stroke="#222" stroke-width="0.7"/>
<text x="214.70" y="418.20" font-size="8.7" text-anchor="end" stroke-width="0.3">−40</text>
<text x="214.70" y="435.20" font-size="8.7" text-anchor="end" stroke-width="0.3">−60</text>
<text x="214.70" y="452.20" font-size="8.7" text-anchor="end" stroke-width="0.3">−80</text>
<text x="214.70" y="469.20" font-size="8.7" text-anchor="end" stroke-width="0.3">−100</text>
<text x="214.70" y="486.20" font-size="8.7" text-anchor="end" stroke-width="0.3">−120</text>
<text x="214.70" y="503.20" font-size="8.7" text-anchor="end" stroke-width="0.3">−140</text>
<line x1="218.00" y1="500.00" x2="218.00" y2="498.40" stroke="#222" stroke-width="0.7"/>
<line x1="249.10" y1="500.00" x2="249.10" y2="498.40" stroke="#222" stroke-width="0.7"/>
<line x1="280.20" y1="500.00" x2="280.20" y2="498.40" stroke="#222" stroke-width="0.7"/>
<line x1="311.30" y1="500.00" x2="311.30" y2="498.40" stroke="#222" stroke-width="0.7"/>
<text x="218.00" y="508.60" font-size="8.7" text-anchor="middle" stroke-width="0.3">0</text>
<text x="249.10" y="508.60" font-size="8.7" text-anchor="middle" stroke-width="0.3">100</text>
<text x="280.20" y="508.60" font-size="8.7" text-anchor="middle" stroke-width="0.3">200</text>
<text x="311.30" y="508.60" font-size="8.7" text-anchor="middle" stroke-width="0.3">300</text>
<text x="195.40" y="458.20" font-size="9.1" text-anchor="middle" stroke-width="0.3" transform="rotate(-90 195.40 458.20)">Stress Tensor (N/m²)</text>
<text x="272.30" y="518.40" font-size="9.1" text-anchor="middle" stroke-width="0.3">Length (μm)</text>
<text x="290.00" y="538.00" font-size="15" text-anchor="middle" stroke-width="0.3">(d)</text>
<rect x="328.8" y="292.4" width="85.30000000000001" height="117.10000000000002" fill="#fff"/>
<line x1="383.30" y1="292.40" x2="383.30" y2="409.50" stroke="#8fb4d8" stroke-width="1.2"/>
<path d="M339.00 292.60 L340.82 292.68 L343.41 292.78 L346.39 292.90 L349.38 293.04 L352.00 293.20 L354.28 293.37 L356.48 293.56 L358.54 293.76 L360.40 293.97 L362.00 294.20 L363.28 294.43 L364.27 294.66 L365.07 294.92 L365.78 295.19 L366.50 295.50 L367.23 295.84 L367.91 296.20 L368.52 296.59 L369.06 297.02 L369.50 297.50 L369.80 298.04 L369.98 298.65 L370.09 299.29 L370.21 299.92 L370.40 300.50 L370.64 301.01 L370.87 301.46 L371.15 301.92 L371.52 302.41 L372.00 303.00 L372.60 303.67 L373.29 304.39 L374.08 305.17 L374.98 306.04 L376.00 307.00 L377.16 308.06 L378.45 309.20 L379.84 310.43 L381.33 311.76 L382.90 313.20 L384.61 314.76 L386.48 316.43 L388.41 318.20 L390.28 320.06 L392.00 322.00 L393.59 324.06 L395.11 326.24 L396.55 328.49 L397.85 330.76 L399.00 333.00 L400.00 335.20 L400.86 337.40 L401.58 339.60 L402.16 341.80 L402.60 344.00 L402.89 346.18 L403.03 348.35 L403.03 350.53 L402.89 352.74 L402.60 355.00 L402.16 357.34 L401.58 359.73 L400.86 362.15 L400.00 364.58 L399.00 367.00 L397.85 369.44 L396.55 371.91 L395.11 374.37 L393.59 376.75 L392.00 379.00 L390.24 381.18 L388.29 383.33 L386.30 385.36 L384.45 387.17 L382.90 388.70 L381.70 389.87 L380.73 390.73 L379.93 391.39 L379.22 391.95 L378.50 392.50 L377.83 393.00 L377.25 393.38 L376.70 393.71 L376.14 394.06 L375.50 394.50 L374.72 395.03 L373.85 395.60 L372.97 396.22 L372.16 396.85 L371.50 397.50 L371.04 398.18 L370.72 398.89 L370.48 399.61 L370.26 400.32 L370.00 401.00 L369.75 401.64 L369.54 402.26 L369.32 402.86 L368.99 403.44 L368.50 404.00 L367.88 404.54 L367.18 405.07 L366.34 405.57 L365.30 406.05 L364.00 406.50 L362.43 406.92 L360.64 407.31 L358.62 407.67 L356.41 408.00 L354.00 408.30 L351.08 408.57 L347.64 408.81 L344.16 409.01 L341.12 409.18 L339.00 409.30" fill="none" stroke="#d8505a" stroke-width="0.95" stroke-linejoin="round"/>
<path d="M364.00 313.20 h3.8 M371.40 313.20 H379.40" stroke="#1a1a1a" stroke-width="1.5" fill="none"/>
<path d="M364.00 388.70 h3.8 M371.40 388.70 H379.40" stroke="#1a1a1a" stroke-width="1.5" fill="none"/>
<line x1="375.30" y1="315.30" x2="375.30" y2="386.60" stroke="#111" stroke-width="1.4"/>
<path d="M375.30 313.80 l-1.75 3.7 h3.5z M375.30 388.10 l-1.75 -3.7 h3.5z" fill="#111"/>
<text x="370.80" y="350.80" font-size="8.7" text-anchor="middle" stroke-width="0.3" transform="rotate(-90 370.80 350.80)">242.21 μm</text>
<rect x="328.80" y="292.40" width="85.30" height="117.10" fill="none" stroke="#3a3a3a" stroke-width="1.0"/>
<line x1="414.10" y1="409.50" x2="412.50" y2="409.50" stroke="#222" stroke-width="0.7"/>
<line x1="414.10" y1="393.88" x2="412.50" y2="393.88" stroke="#222" stroke-width="0.7"/>
<line x1="414.10" y1="378.25" x2="412.50" y2="378.25" stroke="#222" stroke-width="0.7"/>
<line x1="414.10" y1="362.62" x2="412.50" y2="362.62" stroke="#222" stroke-width="0.7"/>
<line x1="414.10" y1="347.00" x2="412.50" y2="347.00" stroke="#222" stroke-width="0.7"/>
<line x1="414.10" y1="331.38" x2="412.50" y2="331.38" stroke="#222" stroke-width="0.7"/>
<line x1="414.10" y1="315.75" x2="412.50" y2="315.75" stroke="#222" stroke-width="0.7"/>
<line x1="414.10" y1="300.12" x2="412.50" y2="300.12" stroke="#222" stroke-width="0.7"/>
<text x="417.00" y="412.70" font-size="8.7" text-anchor="start" stroke-width="0.3">0</text>
<text x="417.00" y="397.07" font-size="8.7" text-anchor="start" stroke-width="0.3">50</text>
<text x="417.00" y="381.45" font-size="8.7" text-anchor="start" stroke-width="0.3">100</text>
<text x="417.00" y="365.82" font-size="8.7" text-anchor="start" stroke-width="0.3">150</text>
<text x="417.00" y="350.20" font-size="8.7" text-anchor="start" stroke-width="0.3">200</text>
<text x="417.00" y="334.57" font-size="8.7" text-anchor="start" stroke-width="0.3">250</text>
<text x="417.00" y="318.95" font-size="8.7" text-anchor="start" stroke-width="0.3">300</text>
<text x="417.00" y="303.32" font-size="8.7" text-anchor="start" stroke-width="0.3">350</text>
<line x1="336.50" y1="409.50" x2="336.50" y2="407.90" stroke="#222" stroke-width="0.7"/>
<line x1="352.00" y1="409.50" x2="352.00" y2="407.90" stroke="#222" stroke-width="0.7"/>
<line x1="367.50" y1="409.50" x2="367.50" y2="407.90" stroke="#222" stroke-width="0.7"/>
<line x1="383.00" y1="409.50" x2="383.00" y2="407.90" stroke="#222" stroke-width="0.7"/>
<line x1="398.50" y1="409.50" x2="398.50" y2="407.90" stroke="#222" stroke-width="0.7"/>
<line x1="414.00" y1="409.50" x2="414.00" y2="407.90" stroke="#222" stroke-width="0.7"/>
<text x="336.60" y="419.00" font-size="8.7" text-anchor="middle" stroke-width="0.3">300</text>
<text x="352.50" y="419.00" font-size="8.7" text-anchor="middle" stroke-width="0.3">200</text>
<text x="367.90" y="419.00" font-size="8.7" text-anchor="middle" stroke-width="0.3">100</text>
<text x="383.20" y="419.00" font-size="8.7" text-anchor="middle" stroke-width="0.3">0</text>
<text x="398.20" y="419.00" font-size="8.7" text-anchor="middle" stroke-width="0.3">−100</text>
<text x="414.10" y="419.00" font-size="8.7" text-anchor="middle" stroke-width="0.3">−200</text>
<text x="375.00" y="429.20" font-size="9.1" text-anchor="middle" stroke-width="0.3">Stress Tensor (N/m²)</text>
<text x="434.20" y="353.00" font-size="9.1" text-anchor="middle" stroke-width="0.3" transform="rotate(90 434.20 353.00)">Length (μm)</text>
</svg>
</body></html>
